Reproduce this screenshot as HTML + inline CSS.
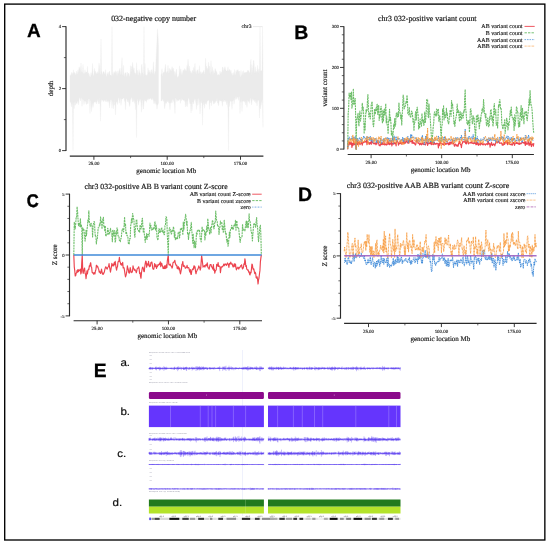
<!DOCTYPE html>
<html lang="en"><head><meta charset="utf-8"><title>Figure</title>
<style>html,body{margin:0;padding:0;background:#fff;width:550px;height:546px;overflow:hidden}</style>
</head><body>
<svg width="550" height="546" viewBox="0 0 550 546" style="position:absolute;left:0;top:0;display:block;text-rendering:geometricPrecision">
<rect x="0" y="0" width="550" height="546" fill="#fff"/>
<rect x="4.7" y="4.1" width="540.15" height="535.9" fill="none" stroke="#000" stroke-width="1.35"/>
<text x="27" y="36.8" font-family='"Liberation Sans", "DejaVu Sans", sans-serif' font-size="19" text-anchor="start" font-weight="bold" fill="#000" stroke="#000" stroke-width="0.25">A</text>
<path d="M70 76.13 L70.5 74.87 L71 75.12 L71.5 72.22 L72 74.57 L72.5 72.81 L73 75.48 L73.5 69.73 L74 73.52 L74.5 72.38 L75 72.87 L75.5 74.56 L76 75.06 L76.5 71.14 L77 74.34 L77.5 73.09 L78 69.75 L78.5 73.28 L79 67.3 L79.5 69.13 L80 66.74 L80.5 73.75 L81 63.03 L81.5 71.58 L82 71.87 L82.5 72.43 L83 64.4 L83.5 72.45 L84 74.32 L84.5 72.94 L85 69.71 L85.5 72.95 L86 71.76 L86.5 72.6 L87 72.02 L87.5 66.4 L88 75.02 L88.5 72.67 L89 73.56 L89.5 76.05 L90 76.79 L90.5 77.09 L91 72.53 L91.5 76.08 L92 72.11 L92.5 63.55 L93 73.58 L93.5 76.69 L94 73.74 L94.5 68.27 L95 72.05 L95.5 71.32 L96 74.47 L96.5 72.73 L97 74.23 L97.5 71.55 L98 74.38 L98.5 71.55 L99 62.9 L99.5 67.35 L100 74.53 L100.5 73.41 L101 39 L101.5 70.6 L102 72.8 L102.5 75.47 L103 72.48 L103.5 71.56 L104 71.82 L104.5 73.84 L105 74.31 L105.5 69.64 L106 75.89 L106.5 76.73 L107 73.37 L107.5 74.7 L108 72.13 L108.5 75.71 L109 71.89 L109.5 71.28 L110 74.54 L110.5 75.13 L111 74.99 L111.5 77.04 L112 26.6 L112.5 71.7 L113 75.98 L113.5 73.98 L114 71.44 L114.5 72.8 L115 73.47 L115.5 70.64 L116 73.7 L116.5 71.42 L117 76.16 L117.5 73.6 L118 70.61 L118.5 74.66 L119 71.44 L119.5 69.79 L120 68.15 L120.5 73.4 L121 75.14 L121.5 68.37 L122 57.6 L122.5 74.35 L123 75.31 L123.5 65.26 L124 77.31 L124.5 74.94 L125 72.94 L125.5 73.25 L126 72.37 L126.5 76.36 L127 76.58 L127.5 71.99 L128 74.47 L128.5 73.04 L129 73.66 L129.5 76.38 L130 76.32 L130.5 65.63 L131 73.28 L131.5 66.35 L132 69.94 L132.5 62.43 L133 65.94 L133.5 71.07 L134 67.74 L134.5 72.67 L135 73.02 L135.5 73.24 L136 75.11 L136.5 62.67 L137 71.08 L137.5 70.47 L138 75.69 L138.5 74.65 L139 69.39 L139.5 72.18 L140 72.59 L140.5 74.52 L141 76.68 L141.5 65.57 L142 64.32 L142.5 72.79 L143 72.95 L143.5 76.97 L144 26.6 L144.5 77.11 L145 63.38 L145.5 75.61 L146 74.73 L146.5 75.97 L147 74.6 L147.5 75.61 L148 67.87 L148.5 73.21 L149 69.93 L149.5 73.3 L150 71.43 L150.5 74.7 L151 70.52 L151.5 69.57 L152 74.18 L152.5 72.47 L153 68.55 L153.5 61.84 L154 74.87 L154.5 73.57 L155 71.17 L155.5 72.17 L156 61.32 L156.5 50.47 L157 39.62 L157.5 28.77 L158 35.28 L158.5 46.13 L158.5 102.74 L158 104.7 L157.5 104.8 L157 109.15 L156.5 103.7 L156 104.7 L155.5 103.36 L155 100.42 L154.5 102.57 L154 104.05 L153.5 101.19 L153 98.49 L152.5 98.69 L152 99.95 L151.5 99.74 L151 98.25 L150.5 98.28 L150 98.74 L149.5 99.11 L149 98.78 L148.5 98.44 L148 100.3 L147.5 99.43 L147 98.5 L146.5 102.4 L146 98.91 L145.5 101.25 L145 100.58 L144.5 99.46 L144 102.93 L143.5 108.72 L143 109.23 L142.5 99.85 L142 101.12 L141.5 112.24 L141 103.18 L140.5 99.9 L140 98.78 L139.5 100.49 L139 101.72 L138.5 105.2 L138 101.33 L137.5 99.94 L137 98.86 L136.5 137.58 L136 100.07 L135.5 109.56 L135 99.55 L134.5 103.48 L134 98.18 L133.5 101.26 L133 101.83 L132.5 101.83 L132 97.76 L131.5 97.22 L131 99.63 L130.5 98.45 L130 105.03 L129.5 106.55 L129 102.53 L128.5 102.36 L128 99.14 L127.5 101.96 L127 99.9 L126.5 97.91 L126 99.79 L125.5 109.78 L125 101.98 L124.5 101.03 L124 97.71 L123.5 97.94 L123 98.71 L122.5 99.03 L122 98.66 L121.5 99.66 L121 105.45 L120.5 97.24 L120 100 L119.5 103.2 L119 97.78 L118.5 98 L118 100.53 L117.5 104.54 L117 101.55 L116.5 102.51 L116 101.58 L115.5 114.95 L115 103.6 L114.5 105.26 L114 98.64 L113.5 108.88 L113 104.75 L112.5 100.11 L112 108.44 L111.5 100.19 L111 99.13 L110.5 100.51 L110 103.13 L109.5 107.87 L109 100.03 L108.5 101.51 L108 102.55 L107.5 100.47 L107 101.81 L106.5 99 L106 101.97 L105.5 99.74 L105 101.46 L104.5 99.87 L104 100.17 L103.5 101.85 L103 99.65 L102.5 100.22 L102 100.35 L101.5 99.19 L101 102.63 L100.5 121.15 L100 97.29 L99.5 103.79 L99 101.37 L98.5 104.09 L98 99.02 L97.5 100.74 L97 101.89 L96.5 104.02 L96 100.11 L95.5 102.51 L95 101.7 L94.5 102.07 L94 102.01 L93.5 103.96 L93 107.51 L92.5 102.42 L92 106.44 L91.5 111.72 L91 100.82 L90.5 100.83 L90 113.4 L89.5 100.1 L89 98.49 L88.5 99.34 L88 104.02 L87.5 103.33 L87 99.72 L86.5 104.6 L86 103.63 L85.5 101 L85 101.19 L84.5 100.95 L84 104.66 L83.5 100.17 L83 99.51 L82.5 98.93 L82 106.42 L81.5 97.1 L81 98.91 L80.5 100.94 L80 97.58 L79.5 97.6 L79 100.21 L78.5 104.7 L78 101.69 L77.5 100.88 L77 103.66 L76.5 103.02 L76 102.92 L75.5 105.27 L75 100.7 L74.5 105.08 L74 108.97 L73.5 100.76 L73 150.6 L72.5 105.41 L72 101.69 L71.5 107.07 L71 103.37 L70.5 102.04 L70 101.71Z" fill="#ebebeb" stroke="#ebebeb" stroke-width="0.3"/>
<path d="M161 75.24 L161.5 73.3 L162 68.75 L162.5 77.16 L163 72.64 L163.5 72.19 L164 72.64 L164.5 71.22 L165 67.61 L165.5 64.35 L166 70.55 L166.5 73.19 L167 71.63 L167.5 71.62 L168 65.29 L168.5 71.78 L169 73.42 L169.5 68.41 L170 68.72 L170.5 69.8 L171 71.17 L171.5 69.98 L172 66.58 L172.5 68.17 L173 70.29 L173.5 68.34 L174 71.93 L174.5 71.6 L175 76.46 L175.5 73.41 L176 70.93 L176.5 69.13 L177 76.34 L177.5 77.63 L178 76.37 L178.5 77.1 L179 73.46 L179.5 65.83 L180 75.12 L180.5 68.71 L181 69.5 L181.5 73.26 L182 75.03 L182.5 73.04 L183 69.94 L183.5 71 L184 69.97 L184.5 68.49 L185 71.28 L185.5 69.41 L186 70.88 L186.5 70.8 L187 65.22 L187.5 67.77 L188 59.15 L188.5 65.11 L189 72.38 L189.5 66.23 L190 70.92 L190.5 71.02 L191 73.49 L191.5 73.05 L192 71.82 L192.5 70.13 L193 74.82 L193.5 67.33 L194 72.77 L194.5 68.74 L195 63.31 L195.5 73.59 L196 70.89 L196.5 75.12 L197 69.89 L197.5 71.07 L198 69.42 L198.5 72.71 L199 74.13 L199.5 65.69 L200 74.97 L200.5 71.49 L201 72.85 L201.5 74.47 L202 71.94 L202.5 73.62 L203 72.02 L203.5 70.95 L204 70.15 L204.5 74.08 L205 73.5 L205.5 58.34 L206 65.56 L206.5 66.22 L207 69.6 L207.5 68.18 L208 69.93 L208.5 62.21 L209 67.3 L209.5 66.11 L210 75.01 L210.5 72.21 L211 60.7 L211.5 71.33 L212 72.15 L212.5 66.86 L213 76.41 L213.5 70.48 L214 72.95 L214.5 73.27 L215 68.51 L215.5 69.58 L216 71.14 L216.5 71.45 L217 73.1 L217.5 75.19 L218 75.18 L218.5 74.19 L219 75.03 L219.5 75.6 L220 70.99 L220.5 73.17 L221 74.11 L221.5 72.04 L222 71.33 L222.5 67.01 L223 67.16 L223.5 71.62 L224 69.73 L224.5 67.99 L225 66.64 L225.5 69.23 L226 70.37 L226.5 71.17 L227 70.77 L227.5 70.62 L228 66.84 L228.5 71.81 L229 69.97 L229.5 69.35 L230 70.45 L230.5 72.27 L231 69.95 L231.5 74.63 L232 72.87 L232.5 74.91 L233 75.84 L233.5 72.56 L234 76.15 L234.5 69.53 L235 75.03 L235.5 74.83 L236 70.24 L236.5 72.75 L237 69.94 L237.5 70.76 L238 69.52 L238.5 71.84 L239 71.28 L239.5 71.3 L240 76.89 L240.5 76.61 L241 70.28 L241.5 76.39 L242 74.44 L242.5 71.38 L243 76.59 L243.5 70.5 L244 73.52 L244.5 72.79 L245 72.28 L245.5 72.47 L246 72.38 L246.5 72.28 L247 72.32 L247.5 70.91 L248 70.03 L248.5 71.01 L249 71.54 L249.5 73.01 L250 72.39 L250.5 62.56 L251 59.15 L251.5 75.68 L252 64.96 L252.5 73.19 L253 67.36 L253.5 60.33 L254 61.42 L254.5 71.68 L255 73.28 L255.5 66.78 L256 72.84 L256.5 71.59 L257 70.79 L257.5 65.41 L258 73.33 L258.5 70.92 L259 68.56 L259.5 74.24 L260 26.6 L260.5 71.02 L261 70.75 L261.5 70.81 L262 70.25 L262.5 26.6 L263 71.32 L263 127.35 L262.5 98.58 L262 100.74 L261.5 103.06 L261 105.9 L260.5 109.09 L260 101.68 L259.5 118.05 L259 101.98 L258.5 100.06 L258 100.11 L257.5 101.27 L257 106.01 L256.5 99.41 L256 103.14 L255.5 101.22 L255 98.56 L254.5 101.76 L254 100.24 L253.5 100.15 L253 98.75 L252.5 98.76 L252 101.76 L251.5 105.1 L251 100.98 L250.5 98.11 L250 98.81 L249.5 103.53 L249 100.93 L248.5 101.66 L248 100.24 L247.5 101.01 L247 107.45 L246.5 103.83 L246 100.03 L245.5 104.84 L245 100.32 L244.5 102.01 L244 101.52 L243.5 100.44 L243 101.73 L242.5 100.82 L242 111.38 L241.5 98.93 L241 102.05 L240.5 100.51 L240 113.4 L239.5 97.33 L239 96.21 L238.5 100.24 L238 97.24 L237.5 97.55 L237 97.09 L236.5 99.45 L236 95.64 L235.5 99.41 L235 97.16 L234.5 100.79 L234 104.26 L233.5 99.09 L233 101.04 L232.5 101.04 L232 109.33 L231.5 101.88 L231 100.84 L230.5 100.73 L230 102.44 L229.5 106.56 L229 99.15 L228.5 150.6 L228 109.56 L227.5 103.72 L227 99.66 L226.5 104.64 L226 99.77 L225.5 100.56 L225 102.02 L224.5 99.97 L224 100.23 L223.5 101.7 L223 99.04 L222.5 106.31 L222 102.97 L221.5 100.41 L221 101.15 L220.5 100.58 L220 100.64 L219.5 99.81 L219 102.59 L218.5 105.76 L218 103.3 L217.5 103.02 L217 97.9 L216.5 101.21 L216 100.24 L215.5 102.54 L215 101.61 L214.5 103.38 L214 102.9 L213.5 104.19 L213 100.73 L212.5 100.86 L212 100.67 L211.5 105.78 L211 100.51 L210.5 102.88 L210 101.83 L209.5 109.41 L209 100.01 L208.5 100.19 L208 100.51 L207.5 100.88 L207 101.85 L206.5 104.5 L206 101.99 L205.5 103.46 L205 104.44 L204.5 108.25 L204 101.42 L203.5 104.92 L203 101.88 L202.5 125.18 L202 101.45 L201.5 102.92 L201 100.22 L200.5 105.4 L200 114.04 L199.5 98.54 L199 104.46 L198.5 98.05 L198 98.62 L197.5 105.4 L197 98.59 L196.5 109.51 L196 104.06 L195.5 100.4 L195 98.36 L194.5 100.06 L194 101.11 L193.5 104.05 L193 101.85 L192.5 102.39 L192 110.87 L191.5 102.35 L191 112.84 L190.5 102.89 L190 103.96 L189.5 102.09 L189 98.05 L188.5 98.31 L188 100.11 L187.5 106.67 L187 99.86 L186.5 106.44 L186 100.86 L185.5 107.02 L185 102.26 L184.5 100.84 L184 99.85 L183.5 100.46 L183 99.98 L182.5 99.24 L182 99.81 L181.5 100.73 L181 97.37 L180.5 103.39 L180 98.82 L179.5 99.78 L179 99.25 L178.5 101.03 L178 99.7 L177.5 100.25 L177 101.64 L176.5 99.91 L176 98.5 L175.5 97.65 L175 113.4 L174.5 105.66 L174 102.05 L173.5 101.15 L173 99.05 L172.5 99.98 L172 103.01 L171.5 100.61 L171 103.39 L170.5 101.9 L170 109.79 L169.5 103.7 L169 102.23 L168.5 102.64 L168 100.14 L167.5 101.83 L167 100.56 L166.5 103.03 L166 103.63 L165.5 101.92 L165 106.7 L164.5 108.66 L164 99.23 L163.5 101.42 L163 100.88 L162.5 98.42 L162 100.19 L161.5 100.96 L161 101.1Z" fill="#ebebeb" stroke="#ebebeb" stroke-width="0.3"/>
<path d="M66 26.2 V151" stroke="#2a2a2a" stroke-width="1.15" fill="none"/>
<path d="M62.1 26.6 H66" stroke="#262626" stroke-width="0.9"/>
<text x="61" y="28.2" font-family='"Liberation Serif", "DejaVu Serif", serif' font-size="4.7" text-anchor="end" font-weight="normal" fill="#1a1a1a" stroke="#1a1a1a" stroke-width="0.12">4</text>
<path d="M62.1 88.6 H66" stroke="#262626" stroke-width="0.9"/>
<text x="61" y="90.2" font-family='"Liberation Serif", "DejaVu Serif", serif' font-size="4.7" text-anchor="end" font-weight="normal" fill="#1a1a1a" stroke="#1a1a1a" stroke-width="0.12">2</text>
<path d="M62.1 150.6 H66" stroke="#262626" stroke-width="0.9"/>
<text x="61" y="152.2" font-family='"Liberation Serif", "DejaVu Serif", serif' font-size="4.7" text-anchor="end" font-weight="normal" fill="#1a1a1a" stroke="#1a1a1a" stroke-width="0.12">0</text>
<path d="M63.9 57.6 H66" stroke="#262626" stroke-width="0.7"/>
<path d="M63.9 119.6 H66" stroke="#262626" stroke-width="0.7"/>
<path d="M69.8 156.1 H263.4" stroke="#2a2a2a" stroke-width="1.15" fill="none"/>
<path d="M93.9 156.1 V159.8" stroke="#262626" stroke-width="0.9"/>
<text x="93.9" y="164.8" font-family='"Liberation Serif", "DejaVu Serif", serif' font-size="4.9" text-anchor="middle" font-weight="normal" fill="#1a1a1a" stroke="#1a1a1a" stroke-width="0.13">25.00</text>
<path d="M167.2 156.1 V159.8" stroke="#262626" stroke-width="0.9"/>
<text x="167.2" y="164.8" font-family='"Liberation Serif", "DejaVu Serif", serif' font-size="4.9" text-anchor="middle" font-weight="normal" fill="#1a1a1a" stroke="#1a1a1a" stroke-width="0.13">100.00</text>
<path d="M240.5 156.1 V159.8" stroke="#262626" stroke-width="0.9"/>
<text x="240.5" y="164.8" font-family='"Liberation Serif", "DejaVu Serif", serif' font-size="4.9" text-anchor="middle" font-weight="normal" fill="#1a1a1a" stroke="#1a1a1a" stroke-width="0.13">175.00</text>
<path d="M130.6 156.1 V158.1" stroke="#262626" stroke-width="0.7"/>
<path d="M203.8 156.1 V158.1" stroke="#262626" stroke-width="0.7"/>
<text x="166.3" y="173.1" font-family='"Liberation Serif", "DejaVu Serif", serif' font-size="7" text-anchor="middle" font-weight="normal" fill="#1a1a1a" stroke="#1a1a1a" stroke-width="0.17">genomic location Mb</text>
<text x="153.7" y="20.6" font-family='"Liberation Serif", "DejaVu Serif", serif' font-size="7.95" text-anchor="middle" font-weight="normal" fill="#1a1a1a" stroke="#1a1a1a" stroke-width="0.19">032-negative copy number</text>
<text transform="translate(53.2 88.4) rotate(-90)" font-family='"Liberation Serif", "DejaVu Serif", serif' font-size="7" text-anchor="middle" fill="#1a1a1a" stroke="#1a1a1a" stroke-width="0.17">depth</text>
<text x="251.5" y="28.3" font-family='"Liberation Serif", "DejaVu Serif", serif' font-size="5.6" text-anchor="end" font-weight="normal" fill="#1a1a1a" stroke="#1a1a1a" stroke-width="0.14">chr3</text>
<path d="M253 26.6 H262.5" stroke="#e4e4e4" stroke-width="0.8"/>
<text x="294.2" y="39.4" font-family='"Liberation Sans", "DejaVu Sans", sans-serif' font-size="19.5" text-anchor="start" font-weight="bold" fill="#000" stroke="#000" stroke-width="0.25">B</text>
<path d="M347.7 149.2 L348.17 143.67 L348.64 142.34 L349.11 144.99 L349.58 142.26 L350.05 143.46 L350.52 144.31 L350.99 142.34 L351.46 142.91 L351.93 147.37 L352.4 143.69 L352.87 145.54 L353.34 142.55 L353.81 140.48 L354.28 144.64 L354.75 143.69 L355.22 143.92 L355.69 143.23 L356.16 149.2 L356.63 141.81 L357.1 144.64 L357.57 141.31 L358.04 144.41 L358.51 143.24 L358.98 141.93 L359.45 142.44 L359.92 144.66 L360.39 144.01 L360.86 143.8 L361.33 143.19 L361.8 141.88 L362.27 145.06 L362.74 142.98 L363.21 142.61 L363.68 142.45 L364.15 142.2 L364.62 141.06 L365.09 142.05 L365.56 141.47 L366.03 141.92 L366.5 140.39 L366.97 144.77 L367.44 140.67 L367.91 142.48 L368.38 142.64 L368.85 143.3 L369.32 144.34 L369.79 142.5 L370.26 143.33 L370.73 141.97 L371.2 144.48 L371.67 140.76 L372.14 142.28 L372.61 142.64 L373.08 143.27 L373.55 143.36 L374.02 143.94 L374.49 143.67 L374.96 142.87 L375.43 142.84 L375.9 144.77 L376.37 143.24 L376.84 143.99 L377.31 142.35 L377.78 140.36 L378.25 142.07 L378.72 143.6 L379.19 145.54 L379.66 145.27 L380.13 145.84 L380.6 143 L381.07 144.61 L381.54 143.44 L382.01 144.64 L382.48 143.88 L382.95 142.04 L383.42 144.52 L383.89 144.18 L384.36 144.8 L384.83 142.65 L385.3 144.74 L385.77 144.56 L386.24 144.79 L386.71 145.03 L387.18 142.47 L387.65 139.8 L388.12 144.47 L388.59 142.17 L389.06 142.85 L389.53 144.64 L390 143.61 L390.47 143.68 L390.94 144.21 L391.41 140.75 L391.88 145.83 L392.35 143.22 L392.82 143.27 L393.29 144.24 L393.76 143.24 L394.23 142.56 L394.7 143.82 L395.17 143.26 L395.64 142.87 L396.11 145.84 L396.58 141.26 L397.05 140.46 L397.52 141.92 L397.99 141.95 L398.46 145.22 L398.93 143 L399.4 143.79 L399.87 143.46 L400.34 141.52 L400.81 143.57 L401.28 142.5 L401.75 144.25 L402.22 142.31 L402.69 142.3 L403.16 143.38 L403.63 143.26 L404.1 139.85 L404.57 143.73 L405.04 143.38 L405.51 142.95 L405.98 140.67 L406.45 139.51 L406.92 141.71 L407.39 143.02 L407.86 142.79 L408.33 140.93 L408.8 143.42 L409.27 140.55 L409.74 140.29 L410.21 141.82 L410.68 141.43 L411.15 141.41 L411.62 140.31 L412.09 143.38 L412.56 140.43 L413.03 142.85 L413.5 143.35 L413.97 142.56 L414.44 143.14 L414.91 144.16 L415.38 145.04 L415.85 144.23 L416.32 140.6 L416.79 139.93 L417.26 141.78 L417.73 141.18 L418.2 143.35 L418.67 143.12 L419.14 142.92 L419.61 144.87 L420.08 144.6 L420.55 143.38 L421.02 143.87 L421.49 144.87 L421.96 143.4 L422.43 144.08 L422.9 142.62 L423.37 144.22 L423.84 144.54 L424.31 144.19 L424.78 144.3 L425.25 145.04 L425.72 144.18 L426.19 142.49 L426.66 142.47 L427.13 141.77 L427.6 145.33 L428.07 143.87 L428.54 143.8 L429.01 142.74 L429.48 143.57 L429.95 143.73 L430.42 142.15 L430.89 143.23 L431.36 144.77 L431.83 141.9 L432.3 142.22 L432.77 144.43 L433.24 143.06 L433.71 144.64 L434.18 142.27 L434.65 143.66 L435.12 144.25 L435.59 143.5 L436.06 144.29 L436.53 143.35 L437 143.26 L437.47 143.48 L437.94 144.24 L438.41 147.9 L438.88 143.35 L439.35 145.63 L439.82 143.02 L440.29 141.68 L440.76 143.32 L441.23 143.78 L441.7 143.75 L442.17 143.59 L442.64 144.36 L443.11 144.48 L443.58 144.9 L444.05 142.25 L444.52 143.89 L444.99 142.68 L445.46 144.43 L445.93 143.66 L446.4 144.03 L446.87 143.41 L447.34 142.84 L447.81 143.2 L448.28 144.57 L448.75 144.89 L449.22 142.08 L449.69 144.48 L450.16 144.3 L450.63 141.96 L451.1 142.45 L451.57 142.99 L452.04 143.92 L452.51 140.43 L452.98 143.24 L453.45 143.34 L453.92 144.21 L454.39 146.1 L454.86 146.18 L455.33 144.1 L455.8 144.22 L456.27 144.93 L456.74 145.9 L457.21 146.13 L457.68 144.84 L458.15 146.2 L458.62 143.43 L459.09 143.32 L459.56 141.3 L460.03 143.22 L460.5 144.79 L460.97 144.86 L461.44 147.65 L461.91 143.8 L462.38 143.38 L462.85 141.45 L463.32 141.69 L463.79 141.75 L464.26 142.26 L464.73 141.51 L465.2 140.62 L465.67 143.69 L466.14 142.58 L466.61 143.84 L467.08 140.63 L467.55 140.79 L468.02 141.53 L468.49 143.96 L468.96 142.69 L469.43 142.89 L469.9 142.75 L470.37 142.81 L470.84 142.1 L471.31 143.15 L471.78 141.76 L472.25 142.78 L472.72 143.52 L473.19 143.32 L473.66 143.68 L474.13 142.1 L474.6 143.41 L475.07 142.67 L475.54 143.53 L476.01 144.83 L476.48 142.08 L476.95 144.4 L477.42 142.66 L477.89 142.89 L478.36 145.34 L478.83 144.17 L479.3 143.58 L479.77 144.25 L480.24 145.11 L480.71 142.84 L481.18 143.95 L481.65 143.22 L482.12 144.4 L482.59 143.77 L483.06 144.92 L483.53 144.17 L484 143.6 L484.47 144.26 L484.94 144.32 L485.41 145.09 L485.88 143.94 L486.35 143.7 L486.82 144.09 L487.29 144.75 L487.76 143.1 L488.23 140.82 L488.7 144.19 L489.17 143.45 L489.64 143.41 L490.11 147.26 L490.58 144 L491.05 145.02 L491.52 142.39 L491.99 144.64 L492.46 145.52 L492.93 144.53 L493.4 143.85 L493.87 144.68 L494.34 144.11 L494.81 145.8 L495.28 144.18 L495.75 142.87 L496.22 141.3 L496.69 142.6 L497.16 142.98 L497.63 141.74 L498.1 142.04 L498.57 141.06 L499.04 141.89 L499.51 143.3 L499.98 143.06 L500.45 143.11 L500.92 142.91 L501.39 142.85 L501.86 143.57 L502.33 145.26 L502.8 143.73 L503.27 145.19 L503.74 142.58 L504.21 142.61 L504.68 144.52 L505.15 141.69 L505.62 141.73 L506.09 143.09 L506.56 140.93 L507.03 140.93 L507.5 144.68 L507.97 142.12 L508.44 142.88 L508.91 143.21 L509.38 142.58 L509.85 144.5 L510.32 144.3 L510.79 144.7 L511.26 144.45 L511.73 143.83 L512.2 145.2 L512.67 144.58 L513.14 142.3 L513.61 143.31 L514.08 142.46 L514.55 145.32 L515.02 143.77 L515.49 143.41 L515.96 142.78 L516.43 143.46 L516.9 141.97 L517.37 143.57 L517.84 143.28 L518.31 143.86 L518.78 143.03 L519.25 144.47 L519.72 142.81 L520.19 143.13 L520.66 143.91 L521.13 143.8 L521.6 143 L522.07 142.31 L522.54 142.35 L523.01 142.87 L523.48 142.52 L523.95 143.05 L524.42 141.74 L524.89 143.6 L525.36 145.51 L525.83 141.4 L526.3 143.08 L526.77 144.35 L527.24 143.79 L527.71 144.03 L528.18 140.55 L528.65 143.01 L529.12 145.69 L529.59 143.19 L530.06 144.51 L530.53 141.52 L531 145.4 L531.47 146.53 L531.94 143.76 L532.41 144.27 L532.88 144.19 L533.35 146.1 L533.82 143.07" stroke="#ec444f" stroke-width="1.15" fill="none" stroke-linejoin="round"/>
<path d="M347.7 147.54 L348.17 114.12 L348.64 108.43 L349.11 93.05 L349.58 97.39 L350.05 96.71 L350.52 93.33 L350.99 99.68 L351.46 91.93 L351.93 108.18 L352.4 104.61 L352.87 101.8 L353.34 88.62 L353.81 105 L354.28 103.5 L354.75 99.18 L355.22 98.46 L355.69 117.76 L356.16 149.2 L356.63 121.11 L357.1 116.94 L357.57 117.61 L358.04 113.23 L358.51 123.01 L358.98 126.19 L359.45 116.62 L359.92 111.16 L360.39 121.27 L360.86 118.65 L361.33 114.76 L361.8 113.52 L362.27 103.22 L362.74 109.36 L363.21 107.27 L363.68 114.87 L364.15 133.65 L364.62 122.73 L365.09 130.72 L365.56 116.71 L366.03 109.72 L366.5 111.99 L366.97 111.33 L367.44 100.58 L367.91 94.55 L368.38 107.25 L368.85 116.9 L369.32 112.62 L369.79 113.29 L370.26 118.97 L370.73 113.19 L371.2 104.41 L371.67 103.21 L372.14 101.49 L372.61 115.8 L373.08 124.79 L373.55 126.62 L374.02 121.79 L374.49 109.08 L374.96 114.35 L375.43 113.23 L375.9 108.1 L376.37 110.68 L376.84 104.89 L377.31 104.25 L377.78 114.36 L378.25 107.79 L378.72 105 L379.19 120.46 L379.66 114.7 L380.13 116.91 L380.6 109.08 L381.07 106.26 L381.54 111.34 L382.01 119.46 L382.48 123.32 L382.95 110.29 L383.42 121.59 L383.89 110.92 L384.36 109.07 L384.83 115.03 L385.3 110.79 L385.77 103.5 L386.24 122.85 L386.71 116.7 L387.18 124.95 L387.65 126.76 L388.12 133.99 L388.59 120.97 L389.06 121.23 L389.53 109.29 L390 121.42 L390.47 117.42 L390.94 123.16 L391.41 135.52 L391.88 131.37 L392.35 133.12 L392.82 140.74 L393.29 130.97 L393.76 124.14 L394.23 128.8 L394.7 118.54 L395.17 126.27 L395.64 124.26 L396.11 114.26 L396.58 113.03 L397.05 117.07 L397.52 116.96 L397.99 112.21 L398.46 116.51 L398.93 102.93 L399.4 110.15 L399.87 111.95 L400.34 114.2 L400.81 119.01 L401.28 114.76 L401.75 124.92 L402.22 115.42 L402.69 105.76 L403.16 95.05 L403.63 97.58 L404.1 108.91 L404.57 107.39 L405.04 106.44 L405.51 105.36 L405.98 101.58 L406.45 103.46 L406.92 95.24 L407.39 98.22 L407.86 113.66 L408.33 114.12 L408.8 114.94 L409.27 107.47 L409.74 113.88 L410.21 116.3 L410.68 117.77 L411.15 114.17 L411.62 111.02 L412.09 111.51 L412.56 115.51 L413.03 122.83 L413.5 118.93 L413.97 130.95 L414.44 121.88 L414.91 122.54 L415.38 113.89 L415.85 111.45 L416.32 119.9 L416.79 108.98 L417.26 107.17 L417.73 111.94 L418.2 116 L418.67 128.98 L419.14 122.95 L419.61 128.43 L420.08 118.97 L420.55 123.45 L421.02 123.32 L421.49 126.17 L421.96 113.41 L422.43 119.91 L422.9 122.14 L423.37 119.97 L423.84 125.52 L424.31 122.7 L424.78 112.08 L425.25 122.57 L425.72 119.64 L426.19 112.74 L426.66 99.88 L427.13 99.31 L427.6 99.73 L428.07 116.58 L428.54 117.58 L429.01 104.1 L429.48 113.16 L429.95 113.72 L430.42 121.17 L430.89 129.3 L431.36 136.58 L431.83 142.55 L432.3 139.46 L432.77 133.01 L433.24 126.22 L433.71 123.46 L434.18 113.44 L434.65 111.78 L435.12 115.08 L435.59 114.24 L436.06 116.09 L436.53 108.94 L437 115.14 L437.47 110.13 L437.94 109 L438.41 109.47 L438.88 121.69 L439.35 115.67 L439.82 115.92 L440.29 122.01 L440.76 132.36 L441.23 142.18 L441.7 125.85 L442.17 124.77 L442.64 109.02 L443.11 114.45 L443.58 105.82 L444.05 119.87 L444.52 112.65 L444.99 115.31 L445.46 117.57 L445.93 117.04 L446.4 108.37 L446.87 114.68 L447.34 113.19 L447.81 121.94 L448.28 122.93 L448.75 123.83 L449.22 118.27 L449.69 115.44 L450.16 109.78 L450.63 113.38 L451.1 116.45 L451.57 100.46 L452.04 106.73 L452.51 103.55 L452.98 110.34 L453.45 112.19 L453.92 123.71 L454.39 121.31 L454.86 126.43 L455.33 121.51 L455.8 117.78 L456.27 117.04 L456.74 111.37 L457.21 104 L457.68 112.57 L458.15 110.58 L458.62 110.32 L459.09 117.86 L459.56 121.51 L460.03 112.24 L460.5 111.81 L460.97 120.06 L461.44 118.77 L461.91 112.85 L462.38 114.31 L462.85 118.21 L463.32 117.13 L463.79 110.78 L464.26 112.08 L464.73 97.04 L465.2 89.47 L465.67 109.18 L466.14 112.88 L466.61 119.71 L467.08 123.31 L467.55 124.68 L468.02 120.55 L468.49 123.37 L468.96 120.8 L469.43 132.14 L469.9 122.13 L470.37 109.31 L470.84 108.78 L471.31 113.64 L471.78 115.32 L472.25 123.74 L472.72 122.95 L473.19 115.91 L473.66 119.02 L474.13 117.34 L474.6 127.95 L475.07 131.56 L475.54 140.48 L476.01 126.92 L476.48 115.15 L476.95 119.62 L477.42 121.65 L477.89 114.42 L478.36 118.22 L478.83 123.06 L479.3 128.69 L479.77 123.57 L480.24 117.52 L480.71 121.8 L481.18 114.51 L481.65 113.5 L482.12 108.54 L482.59 109.01 L483.06 112.25 L483.53 99.56 L484 105.32 L484.47 113.41 L484.94 113.41 L485.41 117.83 L485.88 113.17 L486.35 124.78 L486.82 125.74 L487.29 124.37 L487.76 118.16 L488.23 121.6 L488.7 126.78 L489.17 126.42 L489.64 116.95 L490.11 119.27 L490.58 109.53 L491.05 109.57 L491.52 114.01 L491.99 120.53 L492.46 116.83 L492.93 126.32 L493.4 122.68 L493.87 106.76 L494.34 103.53 L494.81 114.39 L495.28 113.6 L495.75 109.61 L496.22 125.3 L496.69 124.51 L497.16 122.04 L497.63 127.89 L498.1 114.11 L498.57 104.99 L499.04 106.62 L499.51 99.7 L499.98 99.7 L500.45 108.16 L500.92 107.65 L501.39 111.61 L501.86 124.78 L502.33 125.42 L502.8 129.28 L503.27 127.64 L503.74 124.51 L504.21 125.76 L504.68 119.84 L505.15 133.38 L505.62 126.8 L506.09 126.6 L506.56 118.25 L507.03 119.17 L507.5 123.54 L507.97 129.9 L508.44 123.16 L508.91 125.66 L509.38 120.57 L509.85 115.41 L510.32 110.58 L510.79 115.37 L511.26 107.07 L511.73 114.41 L512.2 117.4 L512.67 118.01 L513.14 120.01 L513.61 118.15 L514.08 130.39 L514.55 114.81 L515.02 126.02 L515.49 121.23 L515.96 116.42 L516.43 106.91 L516.9 106.97 L517.37 112.55 L517.84 112.06 L518.31 123.72 L518.78 127.18 L519.25 121.75 L519.72 126.55 L520.19 113.15 L520.66 115.59 L521.13 105.53 L521.6 121.03 L522.07 111.81 L522.54 108.39 L523.01 118.38 L523.48 116.56 L523.95 123.64 L524.42 112.18 L524.89 111.82 L525.36 112.66 L525.83 115.17 L526.3 111.1 L526.77 119.37 L527.24 120.65 L527.71 115.28 L528.18 112.19 L528.65 107.28 L529.12 99.11 L529.59 105.04 L530.06 90.63 L530.53 99.82 L531 104.76 L531.47 106.14 L531.94 108.27 L532.41 115.29 L532.88 123.22 L533.35 129.86 L533.82 133.39" stroke="#65ba61" stroke-width="1.1" fill="none" stroke-dasharray="2.0 0.7" stroke-linejoin="round" opacity="0.95"/>
<path d="M347.7 149.2 L348.17 139.08 L348.64 139.16 L349.11 136.82 L349.58 138.21 L350.05 139.92 L350.52 140.17 L350.99 138.98 L351.46 139.55 L351.93 136.63 L352.4 137.57 L352.87 140.24 L353.34 139.85 L353.81 136.88 L354.28 138.21 L354.75 139.41 L355.22 136.52 L355.69 139.28 L356.16 149.2 L356.63 139.53 L357.1 141.81 L357.57 138.02 L358.04 141.04 L358.51 139.95 L358.98 140.33 L359.45 137.4 L359.92 138.43 L360.39 138.28 L360.86 141.56 L361.33 139.01 L361.8 141.3 L362.27 138.49 L362.74 138.51 L363.21 138.82 L363.68 135.76 L364.15 137.89 L364.62 137.36 L365.09 138.47 L365.56 139.17 L366.03 137.43 L366.5 136.98 L366.97 140.53 L367.44 136.63 L367.91 137.62 L368.38 136.76 L368.85 137.84 L369.32 140.27 L369.79 140.7 L370.26 136.19 L370.73 138.63 L371.2 141.19 L371.67 138.26 L372.14 139.47 L372.61 142.22 L373.08 142.82 L373.55 141.7 L374.02 138.62 L374.49 138.89 L374.96 139.15 L375.43 138.59 L375.9 138.13 L376.37 142.94 L376.84 139.97 L377.31 141.3 L377.78 142.45 L378.25 141.52 L378.72 140.57 L379.19 141.06 L379.66 143.03 L380.13 141.59 L380.6 138.17 L381.07 142.77 L381.54 143.72 L382.01 140.2 L382.48 139.74 L382.95 139.57 L383.42 141.91 L383.89 138.14 L384.36 141.37 L384.83 141.17 L385.3 140.25 L385.77 139.25 L386.24 137.62 L386.71 137.87 L387.18 138.73 L387.65 137.4 L388.12 139.24 L388.59 137.84 L389.06 141.7 L389.53 141.42 L390 138.23 L390.47 142.14 L390.94 140.28 L391.41 140.27 L391.88 140.91 L392.35 140.57 L392.82 137.51 L393.29 143.87 L393.76 138.46 L394.23 135.89 L394.7 139.13 L395.17 139.75 L395.64 138.5 L396.11 136.44 L396.58 141.58 L397.05 138.96 L397.52 139.26 L397.99 138.24 L398.46 139.39 L398.93 138 L399.4 139.03 L399.87 139.02 L400.34 140.79 L400.81 140.27 L401.28 138.97 L401.75 139.65 L402.22 141.28 L402.69 137.1 L403.16 139.9 L403.63 141.96 L404.1 137.87 L404.57 141.36 L405.04 139.57 L405.51 140.11 L405.98 139.52 L406.45 140.11 L406.92 140.92 L407.39 139.5 L407.86 136.27 L408.33 143.09 L408.8 139.21 L409.27 138.23 L409.74 140.46 L410.21 140.43 L410.68 134.42 L411.15 138.37 L411.62 134.4 L412.09 136.67 L412.56 137.61 L413.03 137.07 L413.5 137.14 L413.97 136.83 L414.44 138.06 L414.91 138.61 L415.38 138.48 L415.85 137.31 L416.32 138.26 L416.79 141.35 L417.26 140.55 L417.73 139.09 L418.2 140.97 L418.67 140.68 L419.14 141.77 L419.61 140.42 L420.08 139.82 L420.55 138.97 L421.02 140.76 L421.49 136.85 L421.96 140.53 L422.43 135.21 L422.9 138.8 L423.37 139.82 L423.84 141.11 L424.31 144.69 L424.78 140.06 L425.25 139.3 L425.72 136 L426.19 141.57 L426.66 136 L427.13 139.33 L427.6 137.92 L428.07 143.18 L428.54 139.43 L429.01 140.16 L429.48 138.73 L429.95 140.3 L430.42 142 L430.89 138.45 L431.36 139.05 L431.83 139.23 L432.3 139 L432.77 139.08 L433.24 141.2 L433.71 143.37 L434.18 142.4 L434.65 137.89 L435.12 138.71 L435.59 139.22 L436.06 140.45 L436.53 139.84 L437 139.57 L437.47 140.32 L437.94 140.6 L438.41 135.8 L438.88 138.34 L439.35 140.01 L439.82 141.85 L440.29 141.32 L440.76 138.81 L441.23 138.56 L441.7 139.7 L442.17 139.47 L442.64 140.43 L443.11 141.48 L443.58 137.6 L444.05 139.62 L444.52 136.41 L444.99 141.15 L445.46 139.85 L445.93 138.05 L446.4 140.66 L446.87 142.73 L447.34 142.15 L447.81 140.28 L448.28 139.71 L448.75 140.61 L449.22 138.67 L449.69 138.49 L450.16 139.59 L450.63 140.47 L451.1 141.13 L451.57 139.52 L452.04 138.65 L452.51 140.3 L452.98 139.78 L453.45 140.69 L453.92 142.32 L454.39 141.13 L454.86 138.45 L455.33 139.03 L455.8 137.53 L456.27 139.94 L456.74 138.12 L457.21 137.33 L457.68 137.45 L458.15 139.59 L458.62 138.82 L459.09 138.65 L459.56 140.49 L460.03 138.3 L460.5 137.26 L460.97 139.52 L461.44 135.14 L461.91 138.88 L462.38 139.15 L462.85 139.51 L463.32 140.21 L463.79 139.05 L464.26 139.75 L464.73 136.45 L465.2 129 L465.67 138.83 L466.14 140.19 L466.61 141.94 L467.08 139.85 L467.55 140.76 L468.02 137.73 L468.49 139.2 L468.96 135.91 L469.43 136.9 L469.9 136.82 L470.37 138.5 L470.84 138.36 L471.31 137.26 L471.78 136.63 L472.25 139.58 L472.72 137.92 L473.19 134.46 L473.66 138.99 L474.13 139.24 L474.6 141.07 L475.07 142.46 L475.54 138.2 L476.01 139.93 L476.48 139.99 L476.95 137.55 L477.42 136.62 L477.89 142.48 L478.36 139.11 L478.83 140.15 L479.3 140.22 L479.77 140.63 L480.24 141.17 L480.71 138.8 L481.18 140.32 L481.65 140.55 L482.12 138.88 L482.59 139.43 L483.06 140.37 L483.53 139.85 L484 137.15 L484.47 138.7 L484.94 140.22 L485.41 141.13 L485.88 139.95 L486.35 140.74 L486.82 138.81 L487.29 138.69 L487.76 142.61 L488.23 139.08 L488.7 137.84 L489.17 138.98 L489.64 141.2 L490.11 137.71 L490.58 140.77 L491.05 141.14 L491.52 140.89 L491.99 138.88 L492.46 137.07 L492.93 136.7 L493.4 138.61 L493.87 140.88 L494.34 140.08 L494.81 140.57 L495.28 139.3 L495.75 142.36 L496.22 139.25 L496.69 138.44 L497.16 139.67 L497.63 139.05 L498.1 141.68 L498.57 142.32 L499.04 140.55 L499.51 137.32 L499.98 137.45 L500.45 140.11 L500.92 137.09 L501.39 138.84 L501.86 136.06 L502.33 137.52 L502.8 139.46 L503.27 136.91 L503.74 139.35 L504.21 140.35 L504.68 140.85 L505.15 138.34 L505.62 138.35 L506.09 137.76 L506.56 138.38 L507.03 135.82 L507.5 138.64 L507.97 139.58 L508.44 136.5 L508.91 136.64 L509.38 138.93 L509.85 141.9 L510.32 140.17 L510.79 137.79 L511.26 139.08 L511.73 137.11 L512.2 141.91 L512.67 138.81 L513.14 140.96 L513.61 138.16 L514.08 139.89 L514.55 137.88 L515.02 140.28 L515.49 141.59 L515.96 140.86 L516.43 140.54 L516.9 141.31 L517.37 137.77 L517.84 137.84 L518.31 139.26 L518.78 141.02 L519.25 139.28 L519.72 140.82 L520.19 137.19 L520.66 138.99 L521.13 138.44 L521.6 140.06 L522.07 142.6 L522.54 140.24 L523.01 140.43 L523.48 137.66 L523.95 138.35 L524.42 140.21 L524.89 139.18 L525.36 135.35 L525.83 139.41 L526.3 138.56 L526.77 137.62 L527.24 138.4 L527.71 137.92 L528.18 136.77 L528.65 134.99 L529.12 141.17 L529.59 137.83 L530.06 137.83 L530.53 138.06 L531 138.94 L531.47 139.27 L531.94 137.88 L532.41 140.15 L532.88 140.03 L533.35 140.17 L533.82 139.72" stroke="#3f8ad8" stroke-width="1.0" fill="none" stroke-dasharray="1.4 0.7" stroke-linejoin="round" opacity="0.95"/>
<path d="M347.7 149.2 L348.17 140.55 L348.64 144.37 L349.11 139.56 L349.58 138.63 L350.05 142.11 L350.52 138.5 L350.99 141.36 L351.46 141.62 L351.93 139.38 L352.4 141.31 L352.87 134.76 L353.34 142.98 L353.81 138.04 L354.28 137.61 L354.75 143.7 L355.22 143.03 L355.69 138.77 L356.16 149.2 L356.63 140.39 L357.1 138.87 L357.57 141.96 L358.04 143.03 L358.51 146.53 L358.98 140.57 L359.45 142.86 L359.92 140.93 L360.39 140.89 L360.86 143.18 L361.33 137.08 L361.8 138.31 L362.27 138.42 L362.74 142.43 L363.21 141.04 L363.68 141.51 L364.15 140.9 L364.62 141.72 L365.09 138.45 L365.56 139.21 L366.03 138.27 L366.5 139.72 L366.97 136.07 L367.44 138.53 L367.91 144.66 L368.38 140.28 L368.85 138.86 L369.32 136.9 L369.79 139.2 L370.26 138.68 L370.73 139.85 L371.2 137.19 L371.67 139.96 L372.14 140.18 L372.61 140.07 L373.08 137.14 L373.55 140.05 L374.02 142.69 L374.49 138.47 L374.96 141.66 L375.43 139.35 L375.9 139.44 L376.37 137.87 L376.84 138.3 L377.31 141.36 L377.78 140.96 L378.25 142.86 L378.72 136.53 L379.19 138.73 L379.66 137.31 L380.13 140.44 L380.6 144.04 L381.07 136.2 L381.54 139.56 L382.01 140.16 L382.48 140.82 L382.95 140 L383.42 140.1 L383.89 144.2 L384.36 138.35 L384.83 141.86 L385.3 141.59 L385.77 137.43 L386.24 138.47 L386.71 140.58 L387.18 143.69 L387.65 139.45 L388.12 138.6 L388.59 140.11 L389.06 142.51 L389.53 141.77 L390 143.04 L390.47 139.67 L390.94 138.61 L391.41 138.48 L391.88 142.31 L392.35 140.38 L392.82 140.57 L393.29 143.11 L393.76 142.13 L394.23 137.16 L394.7 141.44 L395.17 140.13 L395.64 142.63 L396.11 141.6 L396.58 144.2 L397.05 141.02 L397.52 138.34 L397.99 136.4 L398.46 138.72 L398.93 139.72 L399.4 140.87 L399.87 142.71 L400.34 142.17 L400.81 140.34 L401.28 143.47 L401.75 139.33 L402.22 143.12 L402.69 144.7 L403.16 142.98 L403.63 144.53 L404.1 143.83 L404.57 138.35 L405.04 140.37 L405.51 139.72 L405.98 137.7 L406.45 137.37 L406.92 140.96 L407.39 137.11 L407.86 139.19 L408.33 139.88 L408.8 138.62 L409.27 142.54 L409.74 141.69 L410.21 139.84 L410.68 138.16 L411.15 140.87 L411.62 140.21 L412.09 137.73 L412.56 136.37 L413.03 137.85 L413.5 137.12 L413.97 140.62 L414.44 140.88 L414.91 139.94 L415.38 141.58 L415.85 141.53 L416.32 137.38 L416.79 141.3 L417.26 143.3 L417.73 140.55 L418.2 137.46 L418.67 141.04 L419.14 138.13 L419.61 141.82 L420.08 141.75 L420.55 142.71 L421.02 141.46 L421.49 137.43 L421.96 143.15 L422.43 137.13 L422.9 142.76 L423.37 140.85 L423.84 138.73 L424.31 138.73 L424.78 139.27 L425.25 142.8 L425.72 138.65 L426.19 141.27 L426.66 134.19 L427.13 139.82 L427.6 128 L428.07 141.4 L428.54 140.18 L429.01 142.3 L429.48 137.87 L429.95 140.43 L430.42 138.39 L430.89 141.12 L431.36 140.69 L431.83 136.95 L432.3 141.96 L432.77 143.92 L433.24 138.88 L433.71 141.33 L434.18 139.73 L434.65 136.87 L435.12 140.93 L435.59 137.22 L436.06 140.34 L436.53 136.04 L437 136.39 L437.47 140.02 L437.94 139.97 L438.41 141.53 L438.88 139.22 L439.35 137.26 L439.82 142.74 L440.29 138.3 L440.76 143.29 L441.23 148.5 L441.7 144.22 L442.17 136.17 L442.64 140.46 L443.11 140.09 L443.58 142.52 L444.05 139.42 L444.52 145.83 L444.99 141.45 L445.46 136.24 L445.93 141.66 L446.4 140.67 L446.87 139.1 L447.34 142.02 L447.81 140.4 L448.28 138.45 L448.75 139.66 L449.22 138.77 L449.69 140.02 L450.16 138.78 L450.63 138.66 L451.1 136.04 L451.57 137.78 L452.04 139.73 L452.51 144.13 L452.98 137.8 L453.45 137.61 L453.92 141.14 L454.39 143.57 L454.86 141.53 L455.33 137.85 L455.8 142.23 L456.27 141 L456.74 140.09 L457.21 138.33 L457.68 140.97 L458.15 141.49 L458.62 142.49 L459.09 137.74 L459.56 139.16 L460.03 141.08 L460.5 143.22 L460.97 141.9 L461.44 138.73 L461.91 140.9 L462.38 137.34 L462.85 138.34 L463.32 138.06 L463.79 137.2 L464.26 137.74 L464.73 140.52 L465.2 131 L465.67 134.57 L466.14 141.72 L466.61 140.81 L467.08 137.51 L467.55 140.02 L468.02 141.4 L468.49 142.51 L468.96 138.98 L469.43 138.19 L469.9 137.94 L470.37 140.33 L470.84 138.15 L471.31 142.02 L471.78 140.09 L472.25 141.73 L472.72 140.21 L473.19 139.09 L473.66 137.94 L474.13 142.46 L474.6 137.41 L475.07 141.15 L475.54 142.36 L476.01 140.58 L476.48 142.55 L476.95 139.62 L477.42 139.12 L477.89 140.5 L478.36 139.65 L478.83 140.92 L479.3 140.41 L479.77 143.61 L480.24 140.85 L480.71 142.77 L481.18 141.73 L481.65 140.59 L482.12 139.85 L482.59 143.76 L483.06 143.26 L483.53 140.7 L484 139 L484.47 138.72 L484.94 137.48 L485.41 136.2 L485.88 137.86 L486.35 139.21 L486.82 141.72 L487.29 140.57 L487.76 139.71 L488.23 138.03 L488.7 137.74 L489.17 138.53 L489.64 138.71 L490.11 137.65 L490.58 138.76 L491.05 138.47 L491.52 137.7 L491.99 139.82 L492.46 140.67 L492.93 137.58 L493.4 138.29 L493.87 139.44 L494.34 139.35 L494.81 133.97 L495.28 140.42 L495.75 139.39 L496.22 139.17 L496.69 142.75 L497.16 139.88 L497.63 136.94 L498.1 138.77 L498.57 139.39 L499.04 140.29 L499.51 141.34 L499.98 139.44 L500.45 141.12 L500.92 131 L501.39 139.41 L501.86 138.42 L502.33 139.4 L502.8 138.86 L503.27 144.08 L503.74 137.32 L504.21 134.69 L504.68 136.81 L505.15 140.94 L505.62 142.6 L506.09 140.35 L506.56 142.9 L507.03 139.69 L507.5 142.02 L507.97 139.36 L508.44 138.42 L508.91 145.1 L509.38 140.27 L509.85 142.1 L510.32 143.15 L510.79 141.47 L511.26 140.77 L511.73 137.82 L512.2 143.2 L512.67 138.08 L513.14 136.17 L513.61 139.43 L514.08 139.45 L514.55 140.36 L515.02 143.33 L515.49 140.07 L515.96 139.41 L516.43 138.58 L516.9 134.22 L517.37 137.64 L517.84 138.62 L518.31 136.49 L518.78 142.39 L519.25 142.02 L519.72 140.04 L520.19 140.66 L520.66 138.34 L521.13 141.07 L521.6 137.33 L522.07 137.39 L522.54 138 L523.01 140.1 L523.48 137.77 L523.95 137.75 L524.42 141.61 L524.89 139.22 L525.36 138.31 L525.83 138.96 L526.3 135.51 L526.77 136.57 L527.24 141.24 L527.71 139.73 L528.18 141.78 L528.65 138.85 L529.12 141.63 L529.59 137.97 L530.06 139.07 L530.53 137.53 L531 140.56 L531.47 143.3 L531.94 136.67 L532.41 139.92 L532.88 137.11 L533.35 138.51 L533.82 138.04" stroke="#f89a3c" stroke-width="0.95" fill="none" stroke-dasharray="2.2 0.4 0.4 0.4" stroke-linejoin="round" opacity="0.92"/>
<path d="M343.9 26.2 V149.5" stroke="#2a2a2a" stroke-width="1.15" fill="none"/>
<path d="M340 26.6 H343.9" stroke="#262626" stroke-width="0.9"/>
<text x="338.9" y="28.2" font-family='"Liberation Serif", "DejaVu Serif", serif' font-size="4.7" text-anchor="end" font-weight="normal" fill="#1a1a1a" stroke="#1a1a1a" stroke-width="0.12">300</text>
<path d="M340 67.45 H343.9" stroke="#262626" stroke-width="0.9"/>
<text x="338.9" y="69.05" font-family='"Liberation Serif", "DejaVu Serif", serif' font-size="4.7" text-anchor="end" font-weight="normal" fill="#1a1a1a" stroke="#1a1a1a" stroke-width="0.12">200</text>
<path d="M340 108.3 H343.9" stroke="#262626" stroke-width="0.9"/>
<text x="338.9" y="109.9" font-family='"Liberation Serif", "DejaVu Serif", serif' font-size="4.7" text-anchor="end" font-weight="normal" fill="#1a1a1a" stroke="#1a1a1a" stroke-width="0.12">100</text>
<path d="M340 149.1 H343.9" stroke="#262626" stroke-width="0.9"/>
<text x="338.9" y="150.7" font-family='"Liberation Serif", "DejaVu Serif", serif' font-size="4.7" text-anchor="end" font-weight="normal" fill="#1a1a1a" stroke="#1a1a1a" stroke-width="0.12">0</text>
<path d="M341.8 34.77 H343.9" stroke="#262626" stroke-width="0.7"/>
<path d="M341.8 42.93 H343.9" stroke="#262626" stroke-width="0.7"/>
<path d="M341.8 51.1 H343.9" stroke="#262626" stroke-width="0.7"/>
<path d="M341.8 59.26 H343.9" stroke="#262626" stroke-width="0.7"/>
<path d="M341.8 75.6 H343.9" stroke="#262626" stroke-width="0.7"/>
<path d="M341.8 83.76 H343.9" stroke="#262626" stroke-width="0.7"/>
<path d="M341.8 91.93 H343.9" stroke="#262626" stroke-width="0.7"/>
<path d="M341.8 100.09 H343.9" stroke="#262626" stroke-width="0.7"/>
<path d="M341.8 116.43 H343.9" stroke="#262626" stroke-width="0.7"/>
<path d="M341.8 124.59 H343.9" stroke="#262626" stroke-width="0.7"/>
<path d="M341.8 132.76 H343.9" stroke="#262626" stroke-width="0.7"/>
<path d="M341.8 140.92 H343.9" stroke="#262626" stroke-width="0.7"/>
<path d="M347.7 154.5 H533.9" stroke="#2a2a2a" stroke-width="1.15" fill="none"/>
<path d="M371.1 154.5 V158.2" stroke="#262626" stroke-width="0.9"/>
<text x="371.1" y="163.6" font-family='"Liberation Serif", "DejaVu Serif", serif' font-size="4.9" text-anchor="middle" font-weight="normal" fill="#1a1a1a" stroke="#1a1a1a" stroke-width="0.13">25.00</text>
<path d="M441.7 154.5 V158.2" stroke="#262626" stroke-width="0.9"/>
<text x="441.7" y="163.6" font-family='"Liberation Serif", "DejaVu Serif", serif' font-size="4.9" text-anchor="middle" font-weight="normal" fill="#1a1a1a" stroke="#1a1a1a" stroke-width="0.13">100.00</text>
<path d="M512.3 154.5 V158.2" stroke="#262626" stroke-width="0.9"/>
<text x="512.3" y="163.6" font-family='"Liberation Serif", "DejaVu Serif", serif' font-size="4.9" text-anchor="middle" font-weight="normal" fill="#1a1a1a" stroke="#1a1a1a" stroke-width="0.13">175.00</text>
<path d="M406.4 154.5 V156.5" stroke="#262626" stroke-width="0.7"/>
<path d="M477 154.5 V156.5" stroke="#262626" stroke-width="0.7"/>
<text x="440.6" y="172" font-family='"Liberation Serif", "DejaVu Serif", serif' font-size="7" text-anchor="middle" font-weight="normal" fill="#1a1a1a" stroke="#1a1a1a" stroke-width="0.17">genomic location Mb</text>
<text x="427.3" y="20.65" font-family='"Liberation Serif", "DejaVu Serif", serif' font-size="7.87" text-anchor="middle" font-weight="normal" fill="#1a1a1a" stroke="#1a1a1a" stroke-width="0.19">chr3 032-positive variant count</text>
<text transform="translate(327.2 88) rotate(-90)" font-family='"Liberation Serif", "DejaVu Serif", serif' font-size="7" text-anchor="middle" fill="#1a1a1a" stroke="#1a1a1a" stroke-width="0.17">variant count</text>
<text x="522.7" y="28.4" font-family='"Liberation Serif", "DejaVu Serif", serif' font-size="6" text-anchor="end" font-weight="normal" fill="#1a1a1a" stroke="#1a1a1a" stroke-width="0.15">AB variant count</text>
<path d="M524.5 26.4 H534.7" stroke="#ec444f" stroke-width="0.9"  fill="none"/>
<text x="522.7" y="34.8" font-family='"Liberation Serif", "DejaVu Serif", serif' font-size="6" text-anchor="end" font-weight="normal" fill="#1a1a1a" stroke="#1a1a1a" stroke-width="0.15">B variant count</text>
<path d="M524.5 32.8 H534.7" stroke="#65ba61" stroke-width="0.9" stroke-dasharray="2.4 1.1" fill="none"/>
<text x="522.7" y="41.6" font-family='"Liberation Serif", "DejaVu Serif", serif' font-size="6" text-anchor="end" font-weight="normal" fill="#1a1a1a" stroke="#1a1a1a" stroke-width="0.15">AAB variant count</text>
<path d="M524.5 39.6 H534.7" stroke="#3f8ad8" stroke-width="0.7" stroke-dasharray="1.6 0.9" fill="none"/>
<text x="522.7" y="48.1" font-family='"Liberation Serif", "DejaVu Serif", serif' font-size="6" text-anchor="end" font-weight="normal" fill="#1a1a1a" stroke="#1a1a1a" stroke-width="0.15">ABB variant count</text>
<path d="M524.5 46.1 H534.7" stroke="#f89a3c" stroke-width="0.6" stroke-dasharray="2.2 0.5 0.5 0.5" fill="none"/>
<text transform="translate(26.8 207.4) scale(0.9 1)" font-family='"Liberation Sans", "DejaVu Sans", sans-serif' font-size="18.4" font-weight="bold" fill="#000" stroke="#000" stroke-width="0.45">C</text>
<path d="M73.8 254.9 L74.27 222.31 L74.74 225.49 L75.21 228.91 L75.68 224.1 L76.15 217.32 L76.62 217.3 L77.09 206.67 L77.56 211.31 L78.03 219.45 L78.5 225.67 L78.97 223.12 L79.44 225.83 L79.91 226.35 L80.38 218.72 L80.85 226.92 L81.32 224.73 L81.79 228.21 L82.26 254.9 L82.73 227.91 L83.2 229.07 L83.67 228.74 L84.14 231.6 L84.61 236.67 L85.08 241.16 L85.55 237.12 L86.02 230.21 L86.49 235.63 L86.96 230.24 L87.43 226.01 L87.9 220.05 L88.37 222.01 L88.84 210.8 L89.31 221.25 L89.78 224.02 L90.25 226.5 L90.72 223.82 L91.19 223.45 L91.66 226.04 L92.13 226.11 L92.6 236.91 L93.07 225.78 L93.54 223.6 L94.01 221.64 L94.48 221.7 L94.95 231.87 L95.42 236.76 L95.89 236.1 L96.36 243.89 L96.83 239.58 L97.3 239.36 L97.77 232.7 L98.24 227.62 L98.71 227.95 L99.18 226.53 L99.65 223.78 L100.12 225.1 L100.59 216.75 L101.06 221.68 L101.53 220.78 L102 228.88 L102.47 220.8 L102.94 218.6 L103.41 217.34 L103.88 226.87 L104.35 226.46 L104.82 231.34 L105.29 225.74 L105.76 236.54 L106.23 235.38 L106.7 234.13 L107.17 234.43 L107.64 228.37 L108.11 229.28 L108.58 233.7 L109.05 234.59 L109.52 232.62 L109.99 231.73 L110.46 228.32 L110.93 231.19 L111.4 234.2 L111.87 233.76 L112.34 241.74 L112.81 229.77 L113.28 231.92 L113.75 236.01 L114.22 231.3 L114.69 230.69 L115.16 242.63 L115.63 240.15 L116.1 231.99 L116.57 234.97 L117.04 227.89 L117.51 229.28 L117.98 235.2 L118.45 236.57 L118.92 236.48 L119.39 240.44 L119.86 240.29 L120.33 241.78 L120.8 238.59 L121.27 237.96 L121.74 232.57 L122.21 229.34 L122.68 228.79 L123.15 230.59 L123.62 231.83 L124.09 225.65 L124.56 217.06 L125.03 225.85 L125.5 223.64 L125.97 234.29 L126.44 231.6 L126.91 235.65 L127.38 235.8 L127.85 236.03 L128.32 243.22 L128.79 244.39 L129.26 243.62 L129.73 238.38 L130.2 238.71 L130.67 225.85 L131.14 222.82 L131.61 218.34 L132.08 223.23 L132.55 213.59 L133.02 214.69 L133.49 218.87 L133.96 219.74 L134.43 233.59 L134.9 237.32 L135.37 228.8 L135.84 225.31 L136.31 219.49 L136.78 219.98 L137.25 227.29 L137.72 229.59 L138.19 230.21 L138.66 231.13 L139.13 229.82 L139.6 232.68 L140.07 224.82 L140.54 226.92 L141.01 229.02 L141.48 226.8 L141.95 219.66 L142.42 218.29 L142.89 226.9 L143.36 232.83 L143.83 227.64 L144.3 233.93 L144.77 237.68 L145.24 242.4 L145.71 236.71 L146.18 238.81 L146.65 233.63 L147.12 239.54 L147.59 234.86 L148.06 234.33 L148.53 234.9 L149 236.46 L149.47 231.81 L149.94 222.97 L150.41 226.98 L150.88 225.23 L151.35 229.92 L151.82 229.97 L152.29 228.7 L152.76 229.45 L153.23 227.32 L153.7 229.51 L154.17 227.97 L154.64 222.5 L155.11 221.79 L155.58 230.52 L156.05 224.93 L156.52 227.49 L156.99 237.26 L157.46 238.81 L157.93 240.25 L158.4 234.32 L158.87 228.82 L159.34 228.94 L159.81 233.28 L160.28 230.35 L160.75 231.64 L161.22 228.89 L161.69 227.57 L162.16 231.6 L162.63 231.99 L163.1 230.06 L163.57 233.24 L164.04 234.69 L164.51 234.51 L164.98 225.81 L165.45 225.5 L165.92 216.9 L166.39 216.93 L166.86 219.34 L167.33 235.34 L167.8 244.19 L168.27 254.9 L168.74 234.15 L169.21 228.7 L169.68 227.66 L170.15 230.27 L170.62 229.87 L171.09 233.81 L171.56 234.02 L172.03 230.35 L172.5 231.14 L172.97 230.73 L173.44 226.61 L173.91 229.53 L174.38 237.15 L174.85 231.21 L175.32 239.68 L175.79 238.13 L176.26 237.44 L176.73 238.9 L177.2 237.53 L177.67 238.57 L178.14 232.79 L178.61 232.72 L179.08 232.08 L179.55 237.9 L180.02 234.49 L180.49 228.27 L180.96 229.47 L181.43 227.76 L181.9 229.34 L182.37 229.35 L182.84 235.03 L183.31 222.04 L183.78 230.04 L184.25 226.46 L184.72 219.51 L185.19 217.64 L185.66 214.18 L186.13 218.96 L186.6 224.97 L187.07 221.22 L187.54 233.85 L188.01 232.89 L188.48 239.55 L188.95 233.92 L189.42 234.05 L189.89 229.96 L190.36 230.35 L190.83 226.08 L191.3 222.23 L191.77 230.76 L192.24 234.99 L192.71 243.28 L193.18 233.76 L193.65 241.55 L194.12 247.69 L194.59 241.1 L195.06 242.42 L195.53 247.71 L196 243.3 L196.47 232.28 L196.94 235.11 L197.41 230.27 L197.88 230.12 L198.35 230.1 L198.82 230.85 L199.29 229.55 L199.76 232.97 L200.23 239.07 L200.7 237.95 L201.17 241.91 L201.64 234.17 L202.11 226.65 L202.58 231.1 L203.05 231.17 L203.52 229.73 L203.99 231.06 L204.46 230.74 L204.93 240.05 L205.4 232.9 L205.87 235.27 L206.34 230.51 L206.81 226.01 L207.28 232.09 L207.75 218.55 L208.22 222.73 L208.69 228.94 L209.16 228.92 L209.63 234.6 L210.1 230.34 L210.57 227.52 L211.04 233.61 L211.51 225.13 L211.98 224.14 L212.45 220.19 L212.92 221.45 L213.39 227.41 L213.86 228.91 L214.33 227.68 L214.8 221.75 L215.27 222.09 L215.74 211.1 L216.21 217.75 L216.68 220.66 L217.15 221.52 L217.62 226.52 L218.09 225.82 L218.56 227.18 L219.03 234.47 L219.5 228.35 L219.97 226.79 L220.44 220.97 L220.91 223.12 L221.38 221.99 L221.85 222.7 L222.32 230.22 L222.79 226.55 L223.26 232.12 L223.73 231.4 L224.2 219.83 L224.67 225.02 L225.14 229.81 L225.61 234.01 L226.08 232.73 L226.55 240.08 L227.02 242.29 L227.49 238.96 L227.96 246.24 L228.43 244.91 L228.9 238.7 L229.37 232.02 L229.84 237.45 L230.31 230.79 L230.78 228.39 L231.25 228.4 L231.72 225.26 L232.19 228.92 L232.66 227.29 L233.13 229.2 L233.6 227.88 L234.07 224.34 L234.54 224.5 L235.01 225.84 L235.48 220.23 L235.95 230.2 L236.42 221.3 L236.89 220.85 L237.36 227.22 L237.83 227.78 L238.3 227.22 L238.77 228.8 L239.24 234.3 L239.71 239.05 L240.18 242.36 L240.65 237.44 L241.12 237.87 L241.59 237.35 L242.06 236.22 L242.53 224.08 L243 230.08 L243.47 229.55 L243.94 230.01 L244.41 230.06 L244.88 230.83 L245.35 227.57 L245.82 222.98 L246.29 221.08 L246.76 227.45 L247.23 221.51 L247.7 225.43 L248.17 228.2 L248.64 222.78 L249.11 213.85 L249.58 221.38 L250.05 221.44 L250.52 224.62 L250.99 230.75 L251.46 232.53 L251.93 233.85 L252.4 240.85 L252.87 234.22 L253.34 227.94 L253.81 223.24 L254.28 223.51 L254.75 224.09 L255.22 226.08 L255.69 227.25 L256.16 221.38 L256.63 217.52 L257.1 224.74 L257.57 227.17 L258.04 234.87 L258.51 241.58 L258.98 236.79 L259.45 231.5 L259.92 226.34 L260.39 225.34 L260.86 234.46 L261.33 254.9" stroke="#65ba61" stroke-width="1.1" fill="none" stroke-dasharray="2.0 0.7" stroke-linejoin="round" opacity="0.95"/>
<path d="M73.8 254.9 L74.27 266.84 L74.74 270.64 L75.21 276 L75.68 275.53 L76.15 273.17 L76.62 272.85 L77.09 270.39 L77.56 272.14 L78.03 269.46 L78.5 271.62 L78.97 270.19 L79.44 270.56 L79.91 269.93 L80.38 269.15 L80.85 273.82 L81.32 272.42 L81.79 261.73 L82.26 254.9 L82.73 270.9 L83.2 273.39 L83.67 270.9 L84.14 269.01 L84.61 267.99 L85.08 273.52 L85.55 274 L86.02 278.64 L86.49 274.88 L86.96 270.91 L87.43 273.89 L87.9 270.67 L88.37 269.08 L88.84 269.66 L89.31 265.84 L89.78 266.52 L90.25 263.83 L90.72 262.71 L91.19 266.7 L91.66 267.61 L92.13 272.27 L92.6 272.81 L93.07 272.52 L93.54 274.11 L94.01 274 L94.48 272.62 L94.95 273.84 L95.42 270.97 L95.89 269.72 L96.36 265.33 L96.83 265.39 L97.3 266.97 L97.77 266.58 L98.24 268.24 L98.71 269.27 L99.18 272.08 L99.65 271.37 L100.12 272.65 L100.59 273.48 L101.06 271.37 L101.53 269.03 L102 272.17 L102.47 274.24 L102.94 272.96 L103.41 274.19 L103.88 272.96 L104.35 272.08 L104.82 269.72 L105.29 267.93 L105.76 266.79 L106.23 267.38 L106.7 268.57 L107.17 269.02 L107.64 267.71 L108.11 267.01 L108.58 266.25 L109.05 263.51 L109.52 266.98 L109.99 269.29 L110.46 272.17 L110.93 269.43 L111.4 266.81 L111.87 263.37 L112.34 265.55 L112.81 265.92 L113.28 264.3 L113.75 265.89 L114.22 262.64 L114.69 264.56 L115.16 261.4 L115.63 264.42 L116.1 267.98 L116.57 270.25 L117.04 267.5 L117.51 266.65 L117.98 261.99 L118.45 261.49 L118.92 260.99 L119.39 257.38 L119.86 261.58 L120.33 262.33 L120.8 264.74 L121.27 263.63 L121.74 265.23 L122.21 264.12 L122.68 262.42 L123.15 267.85 L123.62 267.38 L124.09 268.09 L124.56 270.89 L125.03 274.17 L125.5 276.81 L125.97 275.52 L126.44 273.41 L126.91 270.8 L127.38 265.77 L127.85 268.51 L128.32 269.68 L128.79 272.64 L129.26 273.21 L129.73 271.01 L130.2 267.63 L130.67 269.55 L131.14 272.74 L131.61 272.18 L132.08 272.26 L132.55 270.73 L133.02 265.91 L133.49 268.22 L133.96 268.82 L134.43 270.29 L134.9 269.42 L135.37 270.29 L135.84 271.1 L136.31 272.78 L136.78 270.77 L137.25 268.5 L137.72 268.31 L138.19 267.61 L138.66 266.74 L139.13 268.59 L139.6 273.43 L140.07 272.55 L140.54 276.52 L141.01 278.3 L141.48 272.58 L141.95 270 L142.42 267.52 L142.89 267.15 L143.36 268.76 L143.83 271.27 L144.3 271.71 L144.77 266.5 L145.24 263.29 L145.71 261.06 L146.18 261.65 L146.65 267.12 L147.12 263.73 L147.59 264.75 L148.06 265.15 L148.53 261.44 L149 264.76 L149.47 266.78 L149.94 265.21 L150.41 266.13 L150.88 262.65 L151.35 262.99 L151.82 261.96 L152.29 264.48 L152.76 268.32 L153.23 269.3 L153.7 269.26 L154.17 267.16 L154.64 263.6 L155.11 265.75 L155.58 266.64 L156.05 264.71 L156.52 268.41 L156.99 266.47 L157.46 266.57 L157.93 264.54 L158.4 265.21 L158.87 264.92 L159.34 263.57 L159.81 264.38 L160.28 261.79 L160.75 266.59 L161.22 263.87 L161.69 263.15 L162.16 265.41 L162.63 266.18 L163.1 268.56 L163.57 267.25 L164.04 268.57 L164.51 265.78 L164.98 268.72 L165.45 265.77 L165.92 268.2 L166.39 264.92 L166.86 267.69 L167.33 260.8 L167.8 257.86 L168.27 254.9 L168.74 264.11 L169.21 265.1 L169.68 264.76 L170.15 264.03 L170.62 265.52 L171.09 266.1 L171.56 266.35 L172.03 268.15 L172.5 266.97 L172.97 262.79 L173.44 262.2 L173.91 262.35 L174.38 261.45 L174.85 260.25 L175.32 263.23 L175.79 264.46 L176.26 265.41 L176.73 265.05 L177.2 268.49 L177.67 268.75 L178.14 266.56 L178.61 267.51 L179.08 269.8 L179.55 268.09 L180.02 272 L180.49 273.89 L180.96 271.42 L181.43 269.1 L181.9 264.42 L182.37 263.94 L182.84 261.46 L183.31 266.43 L183.78 265.24 L184.25 266.05 L184.72 266.02 L185.19 268.1 L185.66 268.2 L186.13 267.57 L186.6 267.15 L187.07 265.33 L187.54 267.95 L188.01 267.58 L188.48 267.48 L188.95 268.12 L189.42 270.75 L189.89 272.15 L190.36 269.59 L190.83 274.22 L191.3 274.45 L191.77 270.91 L192.24 269.62 L192.71 268.96 L193.18 269.58 L193.65 267.22 L194.12 265.69 L194.59 268.12 L195.06 266.75 L195.53 271.38 L196 273.78 L196.47 271.5 L196.94 270.94 L197.41 269.39 L197.88 269.1 L198.35 267.75 L198.82 265.9 L199.29 266.96 L199.76 267.74 L200.23 270.06 L200.7 268.39 L201.17 261.73 L201.64 255.5 L202.11 259.05 L202.58 263.28 L203.05 267.07 L203.52 266.29 L203.99 266.37 L204.46 265.61 L204.93 267.17 L205.4 265.81 L205.87 264.78 L206.34 264.39 L206.81 265.86 L207.28 262.88 L207.75 266.71 L208.22 267.89 L208.69 268.11 L209.16 269.16 L209.63 266.68 L210.1 264.59 L210.57 264.77 L211.04 264.53 L211.51 266.96 L211.98 266.9 L212.45 268.21 L212.92 269.13 L213.39 264.59 L213.86 270.4 L214.33 269.12 L214.8 273.15 L215.27 271.1 L215.74 270.32 L216.21 269.91 L216.68 264.39 L217.15 266.27 L217.62 265.33 L218.09 262.52 L218.56 266.41 L219.03 266.2 L219.5 266.08 L219.97 266.64 L220.44 272.64 L220.91 268.83 L221.38 266.8 L221.85 267.05 L222.32 266.9 L222.79 266.11 L223.26 265.92 L223.73 264.07 L224.2 265.65 L224.67 264.61 L225.14 263.76 L225.61 264.76 L226.08 264.6 L226.55 265.33 L227.02 263.97 L227.49 262.92 L227.96 263.98 L228.43 264.82 L228.9 267.35 L229.37 263.31 L229.84 264.13 L230.31 263.98 L230.78 262.09 L231.25 263.87 L231.72 264.13 L232.19 263.85 L232.66 265.79 L233.13 266.98 L233.6 266.79 L234.07 264.19 L234.54 263.81 L235.01 266.7 L235.48 263.97 L235.95 267.46 L236.42 269.82 L236.89 268.27 L237.36 268.34 L237.83 267.12 L238.3 268.05 L238.77 269.04 L239.24 267.37 L239.71 267.67 L240.18 266.75 L240.65 265.71 L241.12 265.95 L241.59 264.8 L242.06 267.53 L242.53 268.96 L243 268.38 L243.47 267.23 L243.94 263.73 L244.41 264.44 L244.88 258.71 L245.35 261.36 L245.82 266.52 L246.29 265.41 L246.76 269.08 L247.23 269.53 L247.7 270.14 L248.17 269.94 L248.64 272.21 L249.11 271.65 L249.58 274.2 L250.05 275.02 L250.52 272.22 L250.99 272.84 L251.46 269.16 L251.93 264.12 L252.4 264.88 L252.87 268.21 L253.34 269.59 L253.81 268.98 L254.28 271.31 L254.75 273.57 L255.22 272.21 L255.69 273.45 L256.16 277.6 L256.63 278.22 L257.1 276.75 L257.57 279.45 L258.04 284.05 L258.51 279.91 L258.98 278 L259.45 274.02 L259.92 270.64 L260.39 261.92 L260.86 258.16 L261.33 254.9" stroke="#ec444f" stroke-width="1.15" fill="none" stroke-linejoin="round"/>
<path d="M73.8 254.9 H261.6" stroke="#3f8ad8" stroke-width="1.5" fill="none"/>
<path d="M69.5 193.7 V316.3" stroke="#2a2a2a" stroke-width="1.15" fill="none"/>
<path d="M65.6 194.1 H69.5" stroke="#262626" stroke-width="0.9"/>
<text x="64.5" y="195.7" font-family='"Liberation Serif", "DejaVu Serif", serif' font-size="4.7" text-anchor="end" font-weight="normal" fill="#1a1a1a" stroke="#1a1a1a" stroke-width="0.12">5</text>
<path d="M65.6 255 H69.5" stroke="#262626" stroke-width="0.9"/>
<text x="64.5" y="256.6" font-family='"Liberation Serif", "DejaVu Serif", serif' font-size="4.7" text-anchor="end" font-weight="normal" fill="#1a1a1a" stroke="#1a1a1a" stroke-width="0.12">0</text>
<path d="M65.6 315.9 H69.5" stroke="#262626" stroke-width="0.9"/>
<text x="64.5" y="317.5" font-family='"Liberation Serif", "DejaVu Serif", serif' font-size="4.7" text-anchor="end" font-weight="normal" fill="#1a1a1a" stroke="#1a1a1a" stroke-width="0.12">-5</text>
<path d="M67.4 206.28 H69.5" stroke="#262626" stroke-width="0.7"/>
<path d="M67.4 218.46 H69.5" stroke="#262626" stroke-width="0.7"/>
<path d="M67.4 230.64 H69.5" stroke="#262626" stroke-width="0.7"/>
<path d="M67.4 242.82 H69.5" stroke="#262626" stroke-width="0.7"/>
<path d="M67.4 267.18 H69.5" stroke="#262626" stroke-width="0.7"/>
<path d="M67.4 279.36 H69.5" stroke="#262626" stroke-width="0.7"/>
<path d="M67.4 291.54 H69.5" stroke="#262626" stroke-width="0.7"/>
<path d="M67.4 303.72 H69.5" stroke="#262626" stroke-width="0.7"/>
<path d="M73.6 320.7 H262" stroke="#2a2a2a" stroke-width="1.15" fill="none"/>
<path d="M97.1 320.7 V324.4" stroke="#262626" stroke-width="0.9"/>
<text x="97.1" y="329.5" font-family='"Liberation Serif", "DejaVu Serif", serif' font-size="4.9" text-anchor="middle" font-weight="normal" fill="#1a1a1a" stroke="#1a1a1a" stroke-width="0.13">25.00</text>
<path d="M168.45 320.7 V324.4" stroke="#262626" stroke-width="0.9"/>
<text x="168.45" y="329.5" font-family='"Liberation Serif", "DejaVu Serif", serif' font-size="4.9" text-anchor="middle" font-weight="normal" fill="#1a1a1a" stroke="#1a1a1a" stroke-width="0.13">100.00</text>
<path d="M239.8 320.7 V324.4" stroke="#262626" stroke-width="0.9"/>
<text x="239.8" y="329.5" font-family='"Liberation Serif", "DejaVu Serif", serif' font-size="4.9" text-anchor="middle" font-weight="normal" fill="#1a1a1a" stroke="#1a1a1a" stroke-width="0.13">175.00</text>
<path d="M132.8 320.7 V322.7" stroke="#262626" stroke-width="0.7"/>
<path d="M204.1 320.7 V322.7" stroke="#262626" stroke-width="0.7"/>
<text x="167.4" y="337.8" font-family='"Liberation Serif", "DejaVu Serif", serif' font-size="7" text-anchor="middle" font-weight="normal" fill="#1a1a1a" stroke="#1a1a1a" stroke-width="0.17">genomic location Mb</text>
<text x="156.1" y="188.8" font-family='"Liberation Serif", "DejaVu Serif", serif' font-size="7.82" text-anchor="middle" font-weight="normal" fill="#1a1a1a" stroke="#1a1a1a" stroke-width="0.19">chr3 032-positive AB B variant count Z-score</text>
<text transform="translate(56.6 254.8) rotate(-90)" font-family='"Liberation Serif", "DejaVu Serif", serif' font-size="7" text-anchor="middle" fill="#1a1a1a" stroke="#1a1a1a" stroke-width="0.17">Z score</text>
<text x="250.8" y="196.2" font-family='"Liberation Serif", "DejaVu Serif", serif' font-size="6" text-anchor="end" font-weight="normal" fill="#1a1a1a" stroke="#1a1a1a" stroke-width="0.15">AB variant count Z-score</text>
<path d="M252.2 194.2 H261.7" stroke="#ec444f" stroke-width="0.9"  fill="none"/>
<text x="250.8" y="202.6" font-family='"Liberation Serif", "DejaVu Serif", serif' font-size="6" text-anchor="end" font-weight="normal" fill="#1a1a1a" stroke="#1a1a1a" stroke-width="0.15">B variant count zscore</text>
<path d="M252.2 200.6 H261.7" stroke="#65ba61" stroke-width="0.9" stroke-dasharray="2.4 1.1" fill="none"/>
<text x="250.8" y="209.1" font-family='"Liberation Serif", "DejaVu Serif", serif' font-size="6" text-anchor="end" font-weight="normal" fill="#1a1a1a" stroke="#1a1a1a" stroke-width="0.15">zero</text>
<path d="M252.2 207.1 H261.7" stroke="#3f8ad8" stroke-width="0.7" stroke-dasharray="1.2 0.6 0.4 0.6" fill="none"/>
<text x="298.1" y="200.9" font-family='"Liberation Sans", "DejaVu Sans", sans-serif' font-size="19.5" text-anchor="start" font-weight="bold" fill="#000" stroke="#000" stroke-width="0.25">D</text>
<path d="M344.2 262.48 L344.65 262.5 L345.1 257.72 L345.55 261.82 L346 260.06 L346.45 261.92 L346.9 264.38 L347.35 264.57 L347.8 260.09 L348.25 256.84 L348.7 257.97 L349.15 262.34 L349.6 260.76 L350.05 262.44 L350.5 263.51 L350.95 260.83 L351.4 263.86 L351.85 261.99 L352.3 260.43 L352.75 259.63 L353.2 253.4 L353.65 256.01 L354.1 261.54 L354.55 256.3 L355 257.87 L355.45 253.41 L355.9 257.47 L356.35 258.11 L356.8 256.75 L357.25 255.94 L357.7 254.95 L358.15 256.01 L358.6 254.13 L359.05 254.05 L359.5 257.49 L359.95 255.76 L360.4 255.76 L360.85 256.85 L361.3 252.87 L361.75 256.26 L362.2 256.57 L362.65 256.44 L363.1 256.37 L363.55 258.48 L364 256.97 L364.45 255.06 L364.9 261.26 L365.35 259.58 L365.8 263.29 L366.25 265.07 L366.7 264.35 L367.15 261.95 L367.6 263.51 L368.05 258.9 L368.5 263.01 L368.95 263.21 L369.4 261.16 L369.85 260.08 L370.3 256.94 L370.75 263.31 L371.2 264.88 L371.65 261.08 L372.1 260.72 L372.55 257.56 L373 261.52 L373.45 266.85 L373.9 263.88 L374.35 262.2 L374.8 262.1 L375.25 268.27 L375.7 263.43 L376.15 267.02 L376.6 260.75 L377.05 263.77 L377.5 265.26 L377.95 260.21 L378.4 262.62 L378.85 259.26 L379.3 262.49 L379.75 266.5 L380.2 261.63 L380.65 263.51 L381.1 255.41 L381.55 259.27 L382 262.46 L382.45 262.9 L382.9 258.02 L383.35 258.35 L383.8 264.43 L384.25 258.38 L384.7 261.19 L385.15 261.26 L385.6 262.85 L386.05 262.73 L386.5 258.58 L386.95 261.88 L387.4 266.88 L387.85 256.79 L388.3 259.7 L388.75 265.48 L389.2 264.11 L389.65 267.63 L390.1 266.59 L390.55 265.12 L391 264.66 L391.45 266.5 L391.9 264.59 L392.35 262.49 L392.8 263.82 L393.25 257.96 L393.7 265.73 L394.15 260.66 L394.6 264.36 L395.05 264.57 L395.5 259.34 L395.95 263.65 L396.4 262.85 L396.85 260.19 L397.3 256 L397.75 262.72 L398.2 257.28 L398.65 260.44 L399.1 263.08 L399.55 260.34 L400 258.42 L400.45 261.66 L400.9 261.13 L401.35 256.62 L401.8 258.55 L402.25 263.87 L402.7 260.16 L403.15 261.38 L403.6 262 L404.05 261.72 L404.5 259.42 L404.95 260.29 L405.4 260.23 L405.85 258.07 L406.3 261.73 L406.75 261.42 L407.2 261.3 L407.65 262.9 L408.1 260.04 L408.55 258.58 L409 260.05 L409.45 256.91 L409.9 262.86 L410.35 261.17 L410.8 264.71 L411.25 260.19 L411.7 263.78 L412.15 261.35 L412.6 261.77 L413.05 261.09 L413.5 258.05 L413.95 257.52 L414.4 259.46 L414.85 262.73 L415.3 262.67 L415.75 257.75 L416.2 258.59 L416.65 260.4 L417.1 259.05 L417.55 263.62 L418 254.02 L418.45 259.93 L418.9 257.72 L419.35 255.04 L419.8 259.17 L420.25 253.53 L420.7 254.79 L421.15 259.54 L421.6 263.36 L422.05 259.81 L422.5 263.46 L422.95 253.55 L423.4 257.35 L423.85 257.63 L424.3 256.67 L424.75 254.07 L425.2 250.21 L425.65 257.63 L426.1 255.27 L426.55 257.62 L427 254.48 L427.45 256.83 L427.9 252.51 L428.35 258.76 L428.8 257.59 L429.25 257.08 L429.7 255.21 L430.15 262.47 L430.6 261.03 L431.05 267.9 L431.5 271.71 L431.95 271.27 L432.4 261.82 L432.85 254.44 L433.3 260.34 L433.75 257.42 L434.2 254.98 L434.65 263.68 L435.1 262.49 L435.55 265.73 L436 264.97 L436.45 262.41 L436.9 262.99 L437.35 261.33 L437.8 261.39 L438.25 262.11 L438.7 259.99 L439.15 257.12 L439.6 261.14 L440.05 260.69 L440.5 257.96 L440.95 258.58 L441.4 258.26 L441.85 258.29 L442.3 253.79 L442.75 255.11 L443.2 260.77 L443.65 257.98 L444.1 259.76 L444.55 257.72 L445 263.79 L445.45 259.55 L445.9 262.59 L446.35 266.23 L446.8 260.2 L447.25 261.5 L447.7 266.24 L448.15 258.18 L448.6 266.61 L449.05 266.61 L449.5 264.08 L449.95 260.73 L450.4 259.6 L450.85 261.39 L451.3 259.45 L451.75 261.16 L452.2 260.57 L452.65 257.15 L453.1 262.46 L453.55 267.78 L454 262.89 L454.45 264.15 L454.9 261.48 L455.35 262.55 L455.8 265.18 L456.25 263.57 L456.7 259.9 L457.15 261.57 L457.6 266.64 L458.05 259.68 L458.5 262.21 L458.95 261.82 L459.4 260.68 L459.85 263.33 L460.3 261.04 L460.75 259.03 L461.2 259.07 L461.65 260.91 L462.1 263.2 L462.55 263.79 L463 257.02 L463.45 261.19 L463.9 263.24 L464.35 266.12 L464.8 262.96 L465.25 262.02 L465.7 254.31 L466.15 259.16 L466.6 264.16 L467.05 263.32 L467.5 255.86 L467.95 258.05 L468.4 262.86 L468.85 260.59 L469.3 264.45 L469.75 265.64 L470.2 260.89 L470.65 255.36 L471.1 258.95 L471.55 263.29 L472 262.53 L472.45 260.71 L472.9 260.69 L473.35 265.12 L473.8 269.47 L474.25 257.77 L474.7 259.25 L475.15 255.21 L475.6 256.83 L476.05 256.83 L476.5 263.82 L476.95 261.67 L477.4 258.41 L477.85 258.69 L478.3 261.54 L478.75 257.73 L479.2 261.16 L479.65 264.54 L480.1 260.24 L480.55 259.32 L481 258.95 L481.45 260.88 L481.9 252.5 L482.35 250.43 L482.8 251.36 L483.25 256.25 L483.7 249.59 L484.15 249.86 L484.6 250.89 L485.05 258.6 L485.5 259.69 L485.95 256.4 L486.4 257.6 L486.85 260.25 L487.3 260.15 L487.75 257.72 L488.2 258.96 L488.65 256.36 L489.1 259.56 L489.55 255.59 L490 259.78 L490.45 256.68 L490.9 255.67 L491.35 260.67 L491.8 252.97 L492.25 263.16 L492.7 259.7 L493.15 257.89 L493.6 258.79 L494.05 267.23 L494.5 260.6 L494.95 259.5 L495.4 260.82 L495.85 270.35 L496.3 265.3 L496.75 262.78 L497.2 262.73 L497.65 255.56 L498.1 260.44 L498.55 256.52 L499 257.61 L499.45 264.87 L499.9 263.5 L500.35 260.25 L500.8 258.92 L501.25 256.4 L501.7 257.24 L502.15 254.04 L502.6 259.66 L503.05 265.42 L503.5 258.8 L503.95 259.42 L504.4 262.88 L504.85 262.9 L505.3 261.95 L505.75 255.91 L506.2 259.97 L506.65 262.88 L507.1 259.61 L507.55 251.19 L508 256.99 L508.45 254.95 L508.9 253.06 L509.35 253.73 L509.8 258.24 L510.25 255.27 L510.7 257.27 L511.15 259.79 L511.6 258.33 L512.05 261.13 L512.5 259.46 L512.95 257.28 L513.4 255.4 L513.85 259.63 L514.3 256.54 L514.75 260.47 L515.2 260.05 L515.65 260.75 L516.1 259.41 L516.55 260.2 L517 256.95 L517.45 255.48 L517.9 260.24 L518.35 252.94 L518.8 258.77 L519.25 259.87 L519.7 263.34 L520.15 259.08 L520.6 267.43 L521.05 266.31 L521.5 264.4 L521.95 263.69 L522.4 263.05 L522.85 264.62 L523.3 268.43 L523.75 259.79 L524.2 259.29 L524.65 259.06 L525.1 259.86 L525.55 263.3 L526 263.3 L526.45 260.46 L526.9 261.06 L527.35 265.63 L527.8 262.84 L528.25 262.55 L528.7 259.58 L529.15 262.46 L529.6 258.55 L530.05 259.73 L530.5 260.37 L530.95 266.42 L531.4 263.96 L531.85 267.71 L532.3 274.14 L532.75 271.49 L533.2 276.48 L533.65 267.63 L534.1 261.71 L534.55 265.52 L535 258.86 L535.45 260.13 L535.9 260.19 L536.35 262.68" stroke="#3f8ad8" stroke-width="1.0" fill="none" stroke-dasharray="1.2 0.6" stroke-linejoin="round" opacity="0.95"/>
<path d="M344.2 251.22 L344.65 247 L345.1 251.44 L345.55 253.64 L346 257.67 L346.45 254.68 L346.9 245.88 L347.35 241.23 L347.8 232.15 L348.25 235.71 L348.7 244.13 L349.15 250.56 L349.6 257.48 L350.05 257.67 L350.5 256.42 L350.95 251.67 L351.4 248.24 L351.85 245.71 L352.3 243.42 L352.75 252.26 L353.2 257.67 L353.65 245.53 L354.1 246.14 L354.55 240.72 L355 237.93 L355.45 246.91 L355.9 245.16 L356.35 255.33 L356.8 257.17 L357.25 252.2 L357.7 252.19 L358.15 239.9 L358.6 253.92 L359.05 251.87 L359.5 253.98 L359.95 246.96 L360.4 247.75 L360.85 246.34 L361.3 243.69 L361.75 251.98 L362.2 252.32 L362.65 253.1 L363.1 250.39 L363.55 247.06 L364 242.7 L364.45 241.73 L364.9 244.18 L365.35 240.97 L365.8 250.55 L366.25 241.01 L366.7 247.16 L367.15 234.31 L367.6 239.07 L368.05 241.66 L368.5 243.37 L368.95 234.51 L369.4 244.8 L369.85 252.35 L370.3 246.49 L370.75 255.39 L371.2 246.51 L371.65 254.53 L372.1 246.36 L372.55 256.1 L373 255.1 L373.45 250.84 L373.9 257.67 L374.35 255.76 L374.8 251.29 L375.25 249.92 L375.7 243.26 L376.15 255.92 L376.6 240.54 L377.05 239.87 L377.5 249.95 L377.95 256.51 L378.4 251.59 L378.85 255.12 L379.3 253.47 L379.75 250.15 L380.2 249.25 L380.65 245.12 L381.1 248.57 L381.55 249.64 L382 247.32 L382.45 245.7 L382.9 251.83 L383.35 238.96 L383.8 253.12 L384.25 231.15 L384.7 249.82 L385.15 247.12 L385.6 235.86 L386.05 251.98 L386.5 247.32 L386.95 254.32 L387.4 257.67 L387.85 257.6 L388.3 252 L388.75 243.06 L389.2 237.73 L389.65 233.39 L390.1 241.66 L390.55 245.56 L391 246.23 L391.45 257.67 L391.9 252.8 L392.35 245.33 L392.8 239.39 L393.25 248.09 L393.7 251.32 L394.15 244.7 L394.6 257.67 L395.05 228.91 L395.5 251.7 L395.95 250.87 L396.4 247.15 L396.85 249.25 L397.3 238.07 L397.75 234.63 L398.2 243.48 L398.65 244.56 L399.1 248.78 L399.55 255.16 L400 254.9 L400.45 243.19 L400.9 247.66 L401.35 244.98 L401.8 243.86 L402.25 244.15 L402.7 245.43 L403.15 240.71 L403.6 240.5 L404.05 246.14 L404.5 254.66 L404.95 245.96 L405.4 255.25 L405.85 245.95 L406.3 242.79 L406.75 232.66 L407.2 241.62 L407.65 248.85 L408.1 242.84 L408.55 252.18 L409 243.74 L409.45 239.99 L409.9 240.74 L410.35 246.27 L410.8 247.46 L411.25 245.45 L411.7 251.05 L412.15 253.61 L412.6 234.51 L413.05 243.01 L413.5 247.22 L413.95 239.57 L414.4 246.31 L414.85 246.55 L415.3 250.14 L415.75 248.93 L416.2 250.09 L416.65 244.95 L417.1 244.36 L417.55 245.01 L418 250.5 L418.45 246.89 L418.9 249.86 L419.35 250.26 L419.8 246.67 L420.25 241.54 L420.7 257.67 L421.15 257.67 L421.6 253.21 L422.05 247.39 L422.5 251.43 L422.95 247 L423.4 252.43 L423.85 247.79 L424.3 246.07 L424.75 241.15 L425.2 242.75 L425.65 239.48 L426.1 234.51 L426.55 246.47 L427 253.41 L427.45 257.67 L427.9 246.45 L428.35 245.8 L428.8 247.25 L429.25 249.7 L429.7 255.55 L430.15 255.55 L430.6 255.55 L431.05 255.55 L431.5 255.55 L431.95 255.55 L432.4 255.55 L432.85 255.55 L433.3 253.96 L433.75 252.46 L434.2 242.26 L434.65 252.98 L435.1 241.3 L435.55 243.56 L436 236.57 L436.45 244.51 L436.9 246.16 L437.35 240.37 L437.8 245.45 L438.25 250.51 L438.7 238.2 L439.15 242.28 L439.6 237.8 L440.05 245.19 L440.5 242.38 L440.95 236.75 L441.4 252.9 L441.85 243.56 L442.3 243.64 L442.75 243.07 L443.2 244.52 L443.65 251.64 L444.1 248.6 L444.55 246.05 L445 237.74 L445.45 243.61 L445.9 238.58 L446.35 239.2 L446.8 245.33 L447.25 245.1 L447.7 242.46 L448.15 239 L448.6 235.07 L449.05 247.09 L449.5 247.82 L449.95 247.72 L450.4 243.7 L450.85 252.49 L451.3 255 L451.75 250.95 L452.2 257.15 L452.65 245.4 L453.1 246.46 L453.55 246.06 L454 250.09 L454.45 244.42 L454.9 246.73 L455.35 248.87 L455.8 248.88 L456.25 245.63 L456.7 246.14 L457.15 242.04 L457.6 239.87 L458.05 241.37 L458.5 248.43 L458.95 255.38 L459.4 245.83 L459.85 243.09 L460.3 246.39 L460.75 243.8 L461.2 241.53 L461.65 237.59 L462.1 249.61 L462.55 248.7 L463 254.81 L463.45 256.49 L463.9 245.63 L464.35 246.99 L464.8 252.95 L465.25 254.36 L465.7 250.08 L466.15 254.1 L466.6 240.79 L467.05 241.62 L467.5 239.82 L467.95 240.79 L468.4 237.24 L468.85 243.51 L469.3 241.16 L469.75 241.05 L470.2 249.48 L470.65 253.58 L471.1 246.78 L471.55 241 L472 243.5 L472.45 243.4 L472.9 242.57 L473.35 236.75 L473.8 253.97 L474.25 256.36 L474.7 246.32 L475.15 249.1 L475.6 236.58 L476.05 246.63 L476.5 245.81 L476.95 253.84 L477.4 249.02 L477.85 254.69 L478.3 242.81 L478.75 239.25 L479.2 243.24 L479.65 247.2 L480.1 255.16 L480.55 245.29 L481 250.75 L481.45 241.79 L481.9 244.99 L482.35 248.48 L482.8 249.51 L483.25 256.94 L483.7 252.41 L484.15 250.38 L484.6 251.63 L485.05 248.16 L485.5 238.84 L485.95 230.03 L486.4 245.43 L486.85 246.14 L487.3 243.51 L487.75 239.64 L488.2 245.68 L488.65 251.28 L489.1 250.1 L489.55 242.58 L490 250.4 L490.45 248.47 L490.9 255.98 L491.35 257.67 L491.8 249.45 L492.25 249.25 L492.7 249.56 L493.15 251.78 L493.6 243.38 L494.05 247.83 L494.5 246.99 L494.95 256.78 L495.4 257.67 L495.85 255.6 L496.3 253.58 L496.75 249.57 L497.2 245.75 L497.65 247.85 L498.1 245.83 L498.55 245.03 L499 247.28 L499.45 251.67 L499.9 246.17 L500.35 242.38 L500.8 253.06 L501.25 257.67 L501.7 254.03 L502.15 254.61 L502.6 254.27 L503.05 252.3 L503.5 251.59 L503.95 233.39 L504.4 247.28 L504.85 240.7 L505.3 245.24 L505.75 240.05 L506.2 243.69 L506.65 236.6 L507.1 232.15 L507.55 237.75 L508 238.09 L508.45 251.55 L508.9 244.69 L509.35 250.96 L509.8 244.78 L510.25 247.3 L510.7 241.75 L511.15 238.87 L511.6 233.65 L512.05 241.88 L512.5 232.15 L512.95 234.37 L513.4 244.53 L513.85 242.17 L514.3 244.24 L514.75 242.35 L515.2 245.66 L515.65 245.92 L516.1 241.46 L516.55 239.45 L517 243.58 L517.45 247.91 L517.9 249.21 L518.35 231.15 L518.8 242.21 L519.25 241.93 L519.7 242.02 L520.15 248.04 L520.6 245 L521.05 248.31 L521.5 253.73 L521.95 257.67 L522.4 246.29 L522.85 254.77 L523.3 257.67 L523.75 249.8 L524.2 243.69 L524.65 247.25 L525.1 244.9 L525.55 251.95 L526 250.8 L526.45 253.48 L526.9 244.87 L527.35 236.8 L527.8 235.81 L528.25 243.33 L528.7 247.48 L529.15 243.97 L529.6 254.4 L530.05 256.98 L530.5 246.25 L530.95 249.06 L531.4 248.34 L531.85 257.67 L532.3 244.92 L532.75 252.1 L533.2 247.09 L533.65 251.39 L534.1 250.18 L534.55 248.54 L535 234.51 L535.45 246.75 L535.9 242.92 L536.35 247.61" stroke="#f89a3c" stroke-width="0.9" fill="none" stroke-dasharray="2 0.4 0.4 0.4" stroke-linejoin="round" opacity="0.88"/>
<path d="M344.2 255.8 H536.6" stroke="#a268c4" stroke-width="1.4" fill="none" opacity="0.95"/>
<path d="M340.5 193.2 V318.6" stroke="#2a2a2a" stroke-width="1.15" fill="none"/>
<path d="M336.6 193.6 H340.5" stroke="#262626" stroke-width="0.9"/>
<text x="335.5" y="195.2" font-family='"Liberation Serif", "DejaVu Serif", serif' font-size="4.7" text-anchor="end" font-weight="normal" fill="#1a1a1a" stroke="#1a1a1a" stroke-width="0.12">5</text>
<path d="M336.6 255.9 H340.5" stroke="#262626" stroke-width="0.9"/>
<text x="335.5" y="257.5" font-family='"Liberation Serif", "DejaVu Serif", serif' font-size="4.7" text-anchor="end" font-weight="normal" fill="#1a1a1a" stroke="#1a1a1a" stroke-width="0.12">0</text>
<path d="M336.6 318.2 H340.5" stroke="#262626" stroke-width="0.9"/>
<text x="335.5" y="319.8" font-family='"Liberation Serif", "DejaVu Serif", serif' font-size="4.7" text-anchor="end" font-weight="normal" fill="#1a1a1a" stroke="#1a1a1a" stroke-width="0.12">-5</text>
<path d="M338.4 206.06 H340.5" stroke="#262626" stroke-width="0.7"/>
<path d="M338.4 218.52 H340.5" stroke="#262626" stroke-width="0.7"/>
<path d="M338.4 230.98 H340.5" stroke="#262626" stroke-width="0.7"/>
<path d="M338.4 243.44 H340.5" stroke="#262626" stroke-width="0.7"/>
<path d="M338.4 268.36 H340.5" stroke="#262626" stroke-width="0.7"/>
<path d="M338.4 280.82 H340.5" stroke="#262626" stroke-width="0.7"/>
<path d="M338.4 293.28 H340.5" stroke="#262626" stroke-width="0.7"/>
<path d="M338.4 305.74 H340.5" stroke="#262626" stroke-width="0.7"/>
<path d="M344.1 323.4 H536.6" stroke="#2a2a2a" stroke-width="1.15" fill="none"/>
<path d="M368.5 323.4 V327.1" stroke="#262626" stroke-width="0.9"/>
<text x="368.5" y="332.8" font-family='"Liberation Serif", "DejaVu Serif", serif' font-size="4.9" text-anchor="middle" font-weight="normal" fill="#1a1a1a" stroke="#1a1a1a" stroke-width="0.13">25.00</text>
<path d="M441.4 323.4 V327.1" stroke="#262626" stroke-width="0.9"/>
<text x="441.4" y="332.8" font-family='"Liberation Serif", "DejaVu Serif", serif' font-size="4.9" text-anchor="middle" font-weight="normal" fill="#1a1a1a" stroke="#1a1a1a" stroke-width="0.13">100.00</text>
<path d="M514.3 323.4 V327.1" stroke="#262626" stroke-width="0.9"/>
<text x="514.3" y="332.8" font-family='"Liberation Serif", "DejaVu Serif", serif' font-size="4.9" text-anchor="middle" font-weight="normal" fill="#1a1a1a" stroke="#1a1a1a" stroke-width="0.13">175.00</text>
<path d="M404.9 323.4 V325.4" stroke="#262626" stroke-width="0.7"/>
<path d="M477.8 323.4 V325.4" stroke="#262626" stroke-width="0.7"/>
<text x="440.4" y="340.9" font-family='"Liberation Serif", "DejaVu Serif", serif' font-size="7" text-anchor="middle" font-weight="normal" fill="#1a1a1a" stroke="#1a1a1a" stroke-width="0.17">genomic location Mb</text>
<text x="428" y="187.8" font-family='"Liberation Serif", "DejaVu Serif", serif' font-size="7.97" text-anchor="middle" font-weight="normal" fill="#1a1a1a" stroke="#1a1a1a" stroke-width="0.2">chr3 032-positive AAB ABB variant count Z-score</text>
<text transform="translate(326.5 256) rotate(-90)" font-family='"Liberation Serif", "DejaVu Serif", serif' font-size="7" text-anchor="middle" fill="#1a1a1a" stroke="#1a1a1a" stroke-width="0.17">Z score</text>
<text x="525.3" y="195.7" font-family='"Liberation Serif", "DejaVu Serif", serif' font-size="6" text-anchor="end" font-weight="normal" fill="#1a1a1a" stroke="#1a1a1a" stroke-width="0.15">AAB variant count zscore</text>
<path d="M526.6 193.7 H536" stroke="#3f8ad8" stroke-width="0.7" stroke-dasharray="1.3 0.7" fill="none"/>
<text x="525.3" y="202.1" font-family='"Liberation Serif", "DejaVu Serif", serif' font-size="6" text-anchor="end" font-weight="normal" fill="#1a1a1a" stroke="#1a1a1a" stroke-width="0.15">ABB variant count zscore</text>
<path d="M526.6 200.1 H536" stroke="#f89a3c" stroke-width="0.6" stroke-dasharray="2 0.45 0.45 0.45" fill="none"/>
<text x="525.3" y="208.9" font-family='"Liberation Serif", "DejaVu Serif", serif' font-size="6" text-anchor="end" font-weight="normal" fill="#1a1a1a" stroke="#1a1a1a" stroke-width="0.15">zero</text>
<path d="M526.6 206.9 H536" stroke="#a04aa8" stroke-width="0.7" stroke-dasharray="2.5 0.6 0.6 0.6" fill="none"/>
<text x="93.8" y="376.7" font-family='"Liberation Sans", "DejaVu Sans", sans-serif' font-size="19.3" text-anchor="start" font-weight="bold" fill="#000" stroke="#000" stroke-width="0.25">E</text>
<text transform="translate(120.4 365.9) scale(1.1 1)" font-family='"Liberation Sans", "DejaVu Sans", sans-serif' font-size="10.5" fill="#111" stroke="#111" stroke-width="0.2">a.</text>
<text transform="translate(120.4 414.5) scale(1.1 1)" font-family='"Liberation Sans", "DejaVu Sans", sans-serif' font-size="10.5" fill="#111" stroke="#111" stroke-width="0.2">b.</text>
<text transform="translate(117.3 456.8) scale(1.1 1)" font-family='"Liberation Sans", "DejaVu Sans", sans-serif' font-size="10.5" fill="#111" stroke="#111" stroke-width="0.2">c.</text>
<text transform="translate(112.6 506) scale(1.1 1)" font-family='"Liberation Sans", "DejaVu Sans", sans-serif' font-size="10.5" fill="#111" stroke="#111" stroke-width="0.2">d.</text>
<path d="M242.5 350V516" stroke="#dcdff8" stroke-width="0.45"/>
<path d="M148.9 368.4H263.9M268 368.4H400.5" stroke="#5a3ef0" stroke-width="1.2" opacity="0.6" fill="none"/>
<path d="M148.9 368.36v0.68M149.2 368.02v1.31M149.5 367.71v1.8M149.8 367.46v1.3M150.1 367.29v1.29M150.4 366.89v3.02M150.7 367.71v1.09M151 367.93v1.67M151.3 367.28v1.52M151.9 368.56v0.91M152.2 367.29v2.33M152.5 367.52v1.84M152.8 368.25v0.96M153.4 367.57v1.47M154.3 368.11v0.96M154.9 367.7v1.16M155.5 367.05v2.55M155.8 366.62v2.88M156.1 367.89v0.88M156.4 366.72v3.64M156.7 368.6v0.83M157.3 367.79v0.94M157.6 367.44v1.55M157.9 367.77v1.25M158.2 367.69v0.89M158.5 367.3v1.89M158.8 367.87v0.97M159.1 367.46v1.95M159.7 366.61v4.11M160 368.22v1.57M160.3 367.39v2.38M160.6 367.52v1.44M160.9 368.29v0.97M161.5 367.93v1.23M162.1 367.96v1.39M162.4 367.43v2.22M162.7 367.81v0.89M163.3 368.15v1.01M163.9 365.95v4.9M164.2 367.08v2.04M164.5 367.63v1.65M165.1 367.03v2.55M165.4 367.57v1.57M165.7 368.07v1.38M166 367.97v1.16M166.3 366.68v3.13M166.6 367.84v1.18M166.9 367.84v0.82M167.2 367.88v1.4M167.8 367.79v0.9M168.7 367.97v1.12M169.9 367.85v1.16M170.2 368.38v0.56M170.5 367.97v1.14M171.1 367.58v1.52M171.4 367.93v0.6M171.7 367.81v1.45M172 368.32v0.91M172.3 367.77v1.65M173.5 367.95v1.5M174.1 367.2v2.83M174.4 367.44v2.18M174.7 366.56v2.95M175 367.7v1.02M175.3 368.18v0.79M175.6 367.81v0.84M176.5 367.52v2.2M177.1 367.47v1.3M177.4 367.23v1.68M177.7 366.55v4.62M178 367.25v2.5M178.3 368.07v1.13M178.6 366.37v3.31M179.2 367.99v0.97M179.5 367.46v1.03M179.8 368.05v1.08M180.1 366.73v2.12M181 367.37v2.02M181.3 367.23v2.97M182.2 367.39v1.61M183.1 368.05v0.93M183.4 366.69v3.19M183.7 367.79v2.17M184 367.79v1.76M184.3 367.46v2.36M184.6 368.59v1.02M184.9 367.62v1.11M185.2 367.49v1.07M185.5 367v2.72M185.8 367.48v0.97M186.1 367.17v1.16M186.4 366.59v4.4M186.7 367.01v3.39M187.3 367.01v2.28M188.5 367.82v2.11M189.1 367.45v1.18M189.4 367.25v2.52M189.7 367.32v2.03M190.3 367.65v1.69M191.5 367.4v1.23M191.8 367.27v1.55M192.1 366.59v4.01M192.4 368v1.16M192.7 368.06v1.23M193 367.73v1.73M193.3 367.2v2.2M193.6 367.78v1.19M194.2 367.57v1.87M194.5 367.56v1.35M194.8 368.09v1.23M195.7 367.21v1.14M196 366.12v4.9M196.3 367.55v1.48M196.9 366.35v3.83M197.5 367.62v2.57M197.8 366.29v3.78M198.1 367.21v1.52M198.4 367.77v0.99M198.7 367.03v2.77M199 367.31v1.64M199.3 366.15v4.41M199.6 367.39v1.25M199.9 366.46v3.58M200.2 367.91v1.57M200.5 367.07v2.56M200.8 367.48v2.22M201.4 368.41v1.12M201.7 366.34v3.76M202 367.6v1.17M202.3 367.22v1.61M202.6 367.57v1.47M202.9 366.75v3.55M203.2 367.29v1.46M203.5 366.46v3.63M203.8 367.3v1.75M204.4 366.99v2.6M204.7 368.22v1.31M205 368.03v1M205.3 367.5v1.57M205.6 366.95v1.78M206.2 367.58v0.91M206.8 366.95v2.7M207.1 367.79v1.53M207.4 367.86v2.11M207.7 367.95v1.68M209.2 367.21v1.5M209.5 367.46v2.14M209.8 367.46v1.54M210.1 367.65v0.88M210.4 367.37v2.39M210.7 368.18v0.96M211 368.35v0.68M211.3 367.75v1.15M211.6 367.83v1.42M212.2 367.55v1.51M212.5 367.68v1.37M213.1 368.07v1.26M213.4 367.33v1.9M213.7 368.06v1.13M214 368.21v1.05M214.3 366.91v1.65M214.9 367.46v1.97M215.5 368.08v0.93M216.1 368.24v0.79M216.7 367.91v1.1M217 367.98v0.88M217.6 367.62v1.17M217.9 367.85v1.05M218.2 367.18v1.65M218.5 367.59v1.39M218.8 367.73v0.56M219.1 368.04v0.96M219.4 367.22v2.16M219.7 366.04v5.09M220 367.86v1.15M220.9 367.53v1.19M221.2 367.96v1.07M222.7 366.64v4.22M223 367.2v1.7M223.3 366.78v2.56M223.6 366.78v2.7M224.2 367.79v1.48M224.5 367.53v1.21M224.8 366.26v3.84M225.1 366.57v3.18M225.7 367.95v1.12M226 365.7v5.27M227.5 367.87v1.49M227.8 367.44v1.89M228.1 367.48v1.62M228.7 367.24v2.19M229 365.68v5.3M229.3 367.25v2.07M229.6 367.93v1.63M229.9 367.51v0.86M230.5 367.68v0.88M230.8 368.09v0.81M231.1 366.19v3.39M231.4 367.83v0.85M232 367.13v2.97M232.3 367.2v1.54M232.9 367.76v1.73M233.8 367.74v2.56M234.1 367.91v0.98M235 368v1.55M235.3 367.14v2.54M235.6 367.74v1.05M236.2 367.79v1.08M236.5 367.5v1.71M236.8 367.93v0.82M237.1 367.92v0.62M237.4 367.97v0.77M237.7 368.07v0.88M238.3 368.03v1.43M238.6 368.04v0.65M238.9 368.1v1.07M239.2 367.82v0.89M239.5 367.32v1.21M240.1 367.97v0.76M240.7 368.18v0.63M241 367.68v1.07M241.3 368.08v0.62M241.6 367.77v1.34M241.9 367.99v0.72M242.2 367.84v1.72M242.5 367.67v1M242.8 367.56v2.17M243.1 368.06v1.13M243.4 367.69v1.22M243.7 367.28v1.98M244 366.74v3.16M244.3 367.74v1.19M244.9 367.34v1.93M245.2 366.79v2.48M245.5 367.69v1.49M245.8 367.43v1.15M246.1 367.72v1.66M246.4 367.01v2.56M246.7 367.56v2.19M247 367.33v1.63M247.6 366.6v3.57M247.9 366.03v4.68M248.2 368.1v1.12M248.8 368.06v1.99M249.1 366.49v3.28M249.7 368.09v1.31M250 367.38v1.88M250.3 367.5v1.27M250.6 366.74v3.26M250.9 367.97v0.97M251.2 366.88v2.4M251.5 367.78v0.9M251.8 367.28v1.58M252.1 367.83v1.2M252.4 367.32v2.23M252.7 367.8v1.44M253 366.99v2.23M253.6 368.04v1.51M254.5 367.45v1.5M254.8 367.75v1.15M255.1 366.54v3M255.4 367.61v1.38M255.7 368.1v0.96M256 367.59v1.01M256.3 368.1v1.55M256.6 366.15v3.67M256.9 367.12v2.83M257.2 367.89v1.96M257.8 367.48v1.01M258.1 367.85v1.54M258.7 368.01v1.26M259 367.59v2.45M259.6 367.74v1.66M259.9 366.4v4.73M260.2 366.32v4.77M260.5 367.77v0.97M260.8 367.86v0.84M261.1 367.43v1.96M261.4 366.41v3.09M261.7 367.52v1.56M262 368.01v1.16M262.3 367.5v1.46M262.6 367.79v1.89M263.2 367.72v0.98M263.5 367.7v1.38M268.3 367.21v2M269.2 367.44v2.07M269.5 366.93v2.58M269.8 366.63v1.69M270.1 368.23v1.29M270.4 367.46v1.99M270.7 367.36v1.05M271 367.31v1.82M271.3 366.5v3.2M271.6 367.46v2.23M271.9 366.49v3.97M272.5 367.51v2.07M273.1 367.05v3.4M273.4 367.68v2.47M274 366.78v2.47M274.3 367.97v1.13M274.6 367.93v1.01M274.9 368.02v0.92M275.2 367v2.81M275.8 367.82v0.86M276.4 367.16v2.34M276.7 366.61v2.93M277 367.5v1.48M277.3 367.61v1.42M277.9 367.12v2.07M278.2 367.53v1.7M278.5 367.26v2.74M278.8 366.76v3.11M279.1 367.39v2.13M279.4 367.94v1.23M279.7 367.73v0.84M280.3 367.43v1.56M280.6 366.54v2.48M280.9 367.18v2.65M281.2 367.57v1.79M281.5 368.14v1.53M281.8 367.52v1.67M282.1 367.88v1.42M282.4 368.15v0.86M282.7 367.9v1.27M283 367.61v1.75M283.6 366.53v2.78M283.9 367.09v1.97M284.2 368.43v0.9M284.5 367.75v1.19M285.1 367.53v1.01M285.4 367.67v0.98M286 366.98v2.44M286.3 368.19v0.97M287.2 368.06v0.89M287.5 367.66v1.54M288.1 368.15v1.3M288.7 368.42v0.8M289 367.85v1.11M289.3 368.15v0.79M289.9 366.92v2.4M290.2 367.74v1M290.5 367.28v1.47M290.8 367.2v1.62M291.1 367.97v1.45M291.4 367.83v0.89M292 367.61v1.64M292.3 368.25v1.48M292.6 367.77v1.14M293.2 367.04v2.12M293.5 366.95v2.59M293.8 366.65v4.14M294.4 367.96v1.05M294.7 367.69v1.12M295 367.43v2.39M295.3 366.99v3.21M295.6 367.15v2.07M295.9 367.23v2.37M296.2 367.9v1.26M296.5 367.63v1.04M296.8 367.6v1.94M297.1 367.49v2.04M297.4 367.97v1.19M297.7 367.34v1.51M298 367.6v1.52M298.3 367.52v1.6M298.6 368.56v0.87M298.9 367.15v1.38M299.8 368.09v1.31M300.1 367.91v0.75M300.4 367.71v1.26M301 367.25v2.01M301.9 367.97v1.05M302.2 367.48v2.01M302.5 368.1v1.8M303.1 367.83v1.07M303.7 368.23v0.94M304 367.52v1.61M304.3 368.01v1.48M304.6 367.69v1.84M304.9 367.18v1.8M306.1 367.96v0.88M306.4 367.87v1.17M306.7 367.41v2.04M307 367.04v2.23M307.3 367.75v1.48M307.9 367.88v2.31M308.2 367.55v1.79M309.1 367.61v1.32M309.4 367.06v2.37M309.7 366.47v3.36M310 367.93v1.18M310.9 367.05v2.84M311.2 367.74v1.98M311.5 367.28v1.37M311.8 367.66v2.25M312.1 368.09v1.02M312.4 367.79v1.49M312.7 367.11v1.65M313 367.82v1.04M314.2 368.13v0.98M314.5 368.58v1.05M314.8 366.19v3.94M315.1 368.32v0.76M315.7 367.11v3.26M316 367.62v1.23M316.3 367.79v1.28M316.6 367.06v2.24M317.2 368.08v1.28M317.5 367.73v1.36M318.1 367.54v2.75M318.4 367.51v2.15M318.7 367.41v2.38M319 367.52v1.39M319.3 368.16v1.33M319.6 367.47v1.97M319.9 367.47v2M320.5 367.73v0.83M320.8 368.19v0.8M321.1 367.7v2.24M321.4 367.69v1.06M321.7 368.11v0.92M322 366.72v2.08M322.3 368v0.75M322.6 367.31v1.36M322.9 367.35v1.35M323.2 368.2v0.67M323.8 367.22v1.96M324.1 367.5v2.31M324.4 367.32v1.88M324.7 368.18v0.94M325 367.74v1.08M325.3 367.92v1.25M325.6 367.72v1.44M326.5 367.82v1M327.1 367.71v0.93M327.4 367.79v0.9M327.7 366.8v3.08M328 367.52v1.33M328.6 367.63v1.56M328.9 368.05v1.84M329.5 366.75v2.24M330.1 367.9v1.37M330.4 367.65v1.91M330.7 367.9v2.01M331 367.74v2.03M331.3 366.84v2.99M331.6 367.22v3.25M332.2 367.25v1.95M332.5 366.58v3.93M332.8 367.62v1.92M333.1 367.37v1.51M333.4 367.67v1.58M334 367.89v1.64M334.3 367.43v2.28M334.6 366.47v4.23M335.2 367.21v2.11M335.5 367.33v2.55M335.8 366.89v2.13M336.1 368.09v0.86M336.4 367.72v1.36M337 367.95v0.74M337.6 367.39v2.27M337.9 367.79v2.07M338.2 367.52v1.14M338.8 367.27v1.94M339.1 367.93v0.84M339.4 367.32v1.35M339.7 367.58v1.2M340.3 367.78v0.6M340.6 368.17v0.95M340.9 368.12v0.87M341.5 367.36v2.04M341.8 367.88v1.25M342.1 366.43v2.83M342.7 368.5v0.8M343.3 367.77v1.14M343.9 368.06v0.9M344.2 367.48v2.14M344.8 367.73v1.98M345.7 367.81v1.56M346 367.26v2.32M346.3 368.37v1M346.6 367.35v1.04M346.9 367.64v2.45M347.2 367.26v1.4M348.4 367.06v2.43M348.7 367.24v2.57M349.3 367.92v0.95M349.6 367.65v1.03M350.2 368.05v1.14M350.5 367.75v0.9M350.8 367.02v2.42M351.1 368.04v1.81M351.7 367.28v1.54M352 367.46v2M352.3 367.71v2.02M352.9 366.51v2.73M353.2 367.1v2.54M353.5 367.04v2.61M354.1 367.82v0.89M354.7 367.13v1.83M355.3 366.93v2.66M355.6 368.31v0.85M355.9 367.13v2.47M356.5 366.59v4.63M356.8 366.29v3.43M357.1 367.75v1.23M357.4 367.09v2.68M357.7 368.13v1.25M358.3 367.11v3.28M359.8 367.01v2M360.1 368.57v1.62M360.4 367.24v1.65M360.7 368.2v1.22M361 366.51v2.7M361.3 368.03v1.56M361.6 367.58v1.8M361.9 367.99v1.03M362.2 367.75v0.92M362.5 368.12v1.27M363.1 367.86v0.97M363.4 367.85v1.44M363.7 367.31v1.16M364 367.7v2.19M364.3 366.35v2.85M364.6 368.18v0.61M364.9 367.76v1.07M365.2 368.15v1.22M365.5 368.97v0.96M366.4 368.25v0.69M367 367.51v0.91M367.3 367.64v1.23M367.6 367.6v2.17M367.9 367.94v1.01M368.2 368.03v0.66M368.5 367.8v0.95M368.8 367.55v1.2M369.1 368.36v0.7M369.4 367.78v1.01M369.7 367.81v1.51M370 367.64v1.19M370.3 368.04v1.59M370.6 368.39v0.63M371.2 368.18v0.55M371.8 366.93v1.71M372.7 367.87v1.29M373 367.87v1.64M373.3 367.32v1.2M373.6 368.14v0.66M374.2 367.57v0.62M374.5 368.06v0.82M375.4 367.83v1.02M376 367.67v1.46M376.3 367.85v0.93M376.9 367.5v1.34M377.2 366.96v2.26M377.8 367.65v0.96M378.7 367.84v0.77M379 367.33v1.83M379.3 368.01v0.8M379.6 367.45v0.94M379.9 367.11v1.9M380.2 368.71v0.78M380.5 367.31v1.17M380.8 368.05v1.06M381.7 367.96v1.13M382 366.9v2.91M382.6 365.85v5.03M383.2 367.65v1.51M383.8 367.16v2.26M384.1 366.99v3.13M384.4 366.38v4.01M385 368.14v0.81M385.3 367.74v1.39M385.9 367.44v1.67M386.2 367.82v1.3M386.5 367.94v0.87M386.8 368.18v0.69M387.1 367.49v1.58M387.7 367.89v1.5M388 367.67v1.41M388.3 367.11v2.37M388.6 368.16v0.77M390.1 367.47v0.98M390.4 367.93v0.7M391 367.78v1.45M391.3 367.7v0.86M391.6 367.18v2.1M391.9 368.12v0.83M392.2 367.59v0.67M392.5 367.94v1.48M392.8 367.82v1.04M393.1 367.53v1.33M393.4 368.17v1.28M393.7 367.09v2.26M394 368.49v0.94M394.6 367.56v1.92M394.9 367.85v1.34M395.2 368.09v1.11M395.5 367.18v2.09M395.8 367.6v0.96M396.4 367.31v1.81M397 367.56v1.8M397.3 367.44v1.03M397.9 367.64v1.67M398.5 367.39v1.71M398.8 367.49v1.68M399.7 367.84v2.03M400.3 367.03v3.63" stroke="#4626ee" stroke-width="0.36" opacity="0.8" fill="none"/>
<rect x="148.9" y="392.1" width="115" height="6.9" rx="1.3" fill="#8b0a8b"/>
<rect x="148.9" y="405.6" width="115" height="21.5" fill="#6535fd"/>
<rect x="268" y="392.1" width="132.5" height="6.9" rx="1.3" fill="#8b0a8b"/>
<rect x="268" y="405.6" width="132.5" height="21.5" fill="#6535fd"/>
<path d="M170.5 405.6V427.1" stroke="#b8a4ff" stroke-width="0.4"/>
<path d="M200.3 405.6V427.1" stroke="#b8a4ff" stroke-width="0.4"/>
<path d="M208.2 405.6V427.1" stroke="#b8a4ff" stroke-width="0.4"/>
<path d="M212 405.6V427.1" stroke="#b8a4ff" stroke-width="0.4"/>
<path d="M215.6 405.6V427.1" stroke="#b8a4ff" stroke-width="0.4"/>
<path d="M233.4 405.6V427.1" stroke="#b8a4ff" stroke-width="0.4"/>
<path d="M245.6 405.6V427.1" stroke="#b8a4ff" stroke-width="0.4"/>
<path d="M277.6 405.6V427.1" stroke="#b8a4ff" stroke-width="0.4"/>
<path d="M293.4 405.6V427.1" stroke="#b8a4ff" stroke-width="0.4"/>
<path d="M302.3 405.6V427.1" stroke="#b8a4ff" stroke-width="0.4"/>
<path d="M314.5 405.6V427.1" stroke="#b8a4ff" stroke-width="0.4"/>
<path d="M322.7 405.6V427.1" stroke="#b8a4ff" stroke-width="0.4"/>
<path d="M355.8 405.6V427.1" stroke="#b8a4ff" stroke-width="0.4"/>
<path d="M388.8 405.6V427.1" stroke="#b8a4ff" stroke-width="0.4"/>
<path d="M396.5 405.6V427.1" stroke="#b8a4ff" stroke-width="0.4"/>
<path d="M148.9 439.4H263.9M268 439.4H400.5" stroke="#5a3ef0" stroke-width="1.52" opacity="0.6" fill="none"/>
<path d="M148.9 438.02v2.82M149.2 438.39v2.22M149.5 438.11v1.7M149.8 438.63v1.73M150.1 437.37v3.2M150.4 438.2v1.72M151 438.61v1.07M151.9 439.16v1.24M152.5 438.48v2.37M152.8 438.85v1.11M153.1 439.03v1.33M153.4 438.35v2.08M153.7 438.78v0.92M154 438.06v1.19M154.3 438.59v1.59M154.6 438.6v2.38M154.9 437.38v3.09M155.2 438.59v1.5M155.5 439.78v0.97M156.1 438.19v2.56M156.4 438.66v1.27M156.7 438.43v1.75M157 438.83v1.73M157.9 437.47v2.86M158.2 438.24v2.11M158.5 439.45v1.19M158.8 439.08v1M159.1 438.45v1.02M159.4 438.4v1.56M159.7 437.43v4.03M160 438.51v2.22M160.3 437.32v3.53M160.6 437.71v2.55M160.9 438.66v2.81M161.2 438.46v2.14M161.5 437.67v2.28M161.8 438.44v1.43M162.4 438.65v0.98M162.7 439.15v1.06M163 437.55v2.03M163.3 437.85v3.61M163.6 438.85v1.44M163.9 438.28v3.04M164.2 438.4v1.64M164.5 438.62v1.25M164.8 438.16v2.01M165.1 438.09v2.81M165.4 437.49v3.51M166 438.46v2.14M166.3 438.45v1.45M166.6 438.63v0.93M166.9 438.82v1.18M167.2 439.08v1.24M167.5 438.76v1.7M167.8 438.64v1.01M168.1 439.28v1.17M168.4 437.67v2.86M168.7 439.02v1.29M169 438.75v1.27M169.3 439.09v1.52M169.9 438.83v1.53M170.2 438.42v1.47M170.5 438.62v1.05M170.8 437.79v2.18M171.1 436.98v3.38M171.4 438.32v1.32M171.7 438.74v1.21M172 438.36v1.61M172.3 438.63v1.26M172.9 439.35v0.83M173.5 438.59v0.77M173.8 439.01v1.09M174.1 437.2v3.63M175 439.08v1.19M175.6 437.46v1.86M176.2 438.88v1.11M176.5 438.66v1.14M176.8 438.52v2.22M177.1 438.87v1.1M177.4 438.55v1.36M178.6 438.53v1.86M178.9 438.59v2.1M179.2 438.82v1.15M179.5 438.97v1.57M179.8 438.37v1.94M180.1 438.6v1.29M180.7 438.39v2.15M181 439.12v0.82M181.6 438.76v0.87M181.9 438.77v1.44M182.2 438.34v1.94M182.5 437.86v2.53M182.8 438.64v1.45M183.1 437.93v2.85M183.4 439.09v0.83M183.7 438.98v0.71M184.3 438.58v2.6M184.6 438.47v1.87M185.2 438.93v0.75M185.8 439.28v0.92M186.1 439.49v1.1M186.7 438.75v1.12M187 438.51v1.5M187.3 438.57v0.87M187.6 438.72v1.69M187.9 438.28v1.83M188.2 438.75v1.36M188.5 438.86v1.36M188.8 438.17v1.69M189.1 438.37v1.43M189.4 438.47v2.05M189.7 438.85v2.05M190 438.48v1.73M190.6 438.5v3.04M190.9 437.94v2.4M191.2 439.14v1.24M191.5 439.05v1.19M191.8 438.38v2.23M192.4 438.63v1.2M193 438.13v2.35M193.6 438.81v1.58M193.9 438.26v1.28M194.2 439.02v1.72M195.4 437.24v3.92M196 438.7v1.78M196.3 437.01v5.48M196.6 438.59v1.11M197.2 437.89v2.67M198.1 438.02v2.93M198.4 438.5v1.19M198.7 438.92v1.22M199.6 438.26v1.31M199.9 438.32v1.87M200.2 438.48v1.35M200.5 439.02v1.43M201.4 438.97v0.93M202.3 438.52v0.94M202.6 438.34v1.91M202.9 438.93v1.34M203.8 439.45v0.92M204.1 438.47v2.01M204.4 437.45v4.16M204.7 438.13v1.86M205.3 437.02v5.1M205.6 438.54v1.55M205.9 437.77v2.84M206.5 437.53v3.1M207.1 436.36v4.82M207.7 439.03v2.12M208 438.3v1.29M208.3 438.38v1.32M208.6 438.34v1.96M208.9 438.18v2.35M209.2 438.17v1.25M209.5 438.3v2.25M209.8 438.36v1.71M210.4 436.82v4.24M210.7 437.03v3.57M211 438.12v1.59M211.3 438.22v2.33M212.2 437.84v2.69M212.5 438.42v2.39M212.8 438.49v2.41M213.1 437.21v3.83M213.4 438.09v3.18M214 437.72v2.93M214.3 438.15v3.18M215.2 438.04v1.68M215.8 438.65v2.25M216.1 437.35v3.94M216.4 437.73v3.31M216.7 438.7v1.57M217 436.53v5.42M217.3 437.42v3.75M217.6 438.03v2.16M218.2 438.58v2.1M218.5 436.91v5.15M218.8 437.61v3.39M219.1 437.19v4.01M219.7 437.26v3.99M220.6 437.2v4.02M220.9 438.33v2.99M221.2 438.54v1.57M221.5 438.2v2.56M222.1 438.77v1.67M222.4 438.7v1.73M222.7 438.77v0.94M223 438.48v2.23M223.3 438.59v1.07M223.9 439.19v1.65M224.2 438.51v1.14M224.5 437.6v2.96M224.8 438.26v1.45M225.4 438.04v2.17M225.7 437.3v2.29M226 439.01v1M226.3 439.15v1.77M226.6 439.3v1.51M226.9 438.7v0.94M227.8 438.37v1.76M228.1 439.22v0.86M229.3 437.97v2.59M229.6 438.97v1.4M229.9 438.01v3.34M231.1 438.53v1.92M231.4 438.36v2.16M232.3 438.92v1.48M232.6 438.51v1.39M232.9 437.46v2.62M233.5 436.65v5.5M233.8 437.68v2.43M234.1 439v1.02M234.7 439.01v1.25M235 437.68v2.72M235.3 436.22v4.85M235.9 437.46v4.41M236.2 437.61v2.6M236.5 437.76v3.89M237.1 439.13v1.08M237.7 436.49v4.51M238.6 438v1.97M238.9 435.92v5.99M239.2 439.1v1.11M239.5 438.94v1.7M239.8 438.71v1.58M240.1 437.74v1.92M240.4 437.98v2.58M241 439.02v2.13M241.3 438.89v1.9M241.6 436.57v4.21M241.9 437.91v1.64M242.2 438.76v1.15M243.1 437.66v2.42M243.4 438.43v1.08M243.7 438.4v1.89M244 437.3v4.34M244.3 438.21v1.9M244.6 436.63v5.13M244.9 439.15v1.43M245.2 437.47v2.98M245.5 437.57v2.27M245.8 438.05v1.12M246.1 439.37v1.04M246.7 438.92v1.35M247 439.18v0.92M247.3 439.32v0.78M248.2 438.87v0.69M248.8 438.57v1.74M249.1 438.95v1.59M249.4 439.27v0.72M249.7 438.69v1.42M250 439.6v0.84M250.3 438.98v1.39M250.9 438.59v1.3M251.2 439.58v0.82M251.5 439.42v0.97M251.8 439.32v0.65M252.1 438.96v1.78M252.4 438.81v1.07M252.7 438.31v2.32M253 437.1v4.09M253.3 438.17v1.62M253.6 437.86v2.56M253.9 438.79v1.27M254.2 438.94v2.05M254.5 437.4v3.52M254.8 438.81v1.42M255.1 437.34v3.26M255.4 439.46v1.66M256 438.89v1.71M256.3 438.1v1.73M256.6 438.15v2.4M256.9 437.3v3.11M257.2 437.79v3.72M257.8 436.98v3.42M258.1 437.58v2.98M258.4 437.38v3.8M259 437.8v2.42M259.3 438.78v1.17M259.6 437.14v5.24M259.9 436.03v7.7M260.8 438.74v2.1M261.1 437.72v2.66M261.7 437.51v3.99M262.3 437.67v2.96M262.9 438.45v2.92M263.2 438.53v1.82M263.8 438.08v1.67M268.3 437.89v2.87M268.6 438.58v1.87M268.9 436.37v4.71M269.5 438.6v1.58M269.8 438.53v1.2M270.1 438.53v1.36M270.4 438.82v2.5M270.7 436.8v4.7M271 437.98v1.54M271.9 438.37v1.3M272.2 438.63v1.42M272.8 438.61v1.63M273.1 437.85v2.94M273.4 437.75v3.61M273.7 438.58v1.16M274 438.1v2.98M274.3 438.85v1.24M274.6 437.39v3.24M274.9 437.29v3.41M275.2 438.92v1.43M275.5 438.7v1.1M275.8 438.36v2.41M276.1 437.32v3.9M276.7 438.8v1.07M277 438.68v1.63M277.6 437.77v4.3M277.9 437.75v4.7M279.1 438.82v1.19M279.4 438.69v1.34M280 438.66v1.79M280.3 438.19v1.16M280.6 439.2v0.73M280.9 438.48v2.78M281.2 439.83v0.66M282.1 438.48v1.36M282.7 439.24v0.99M283 439.41v0.8M283.3 438.36v1.23M283.6 438.4v1.13M283.9 437.78v2.47M284.2 438.25v1.61M284.8 439.19v0.93M285.1 438.67v1.7M285.4 438.98v0.71M286 438.05v1.91M286.3 438.5v1.35M286.9 438.48v0.69M287.2 438v1.92M287.5 437.8v1.46M287.8 438.32v1.24M288.1 438.75v1.14M288.4 439.35v0.65M288.7 438.26v1.94M289 438.89v0.85M289.3 438.15v3.49M289.6 439.3v1.44M289.9 438.59v2.64M290.2 438.96v1.51M290.8 438.19v0.88M291.4 437.36v4.29M292 438.01v2.97M292.3 437.83v3.06M292.6 439.22v2.41M293.5 439.3v1.85M293.8 438.56v1.74M294.1 438.12v2.07M294.4 438.33v2.67M295.3 436.64v5.28M295.6 438.32v1.45M295.9 438.71v2.42M296.2 437.88v3M296.8 437.74v2.86M297.4 438.27v2.38M297.7 437.97v3.11M298 439.16v1.25M298.3 438.24v1.26M298.6 437.48v2.82M298.9 438.84v1.54M299.8 438.7v1.02M300.1 438.46v2.29M300.4 438.64v1.51M301.6 438.73v1.4M301.9 438.03v2.35M303.1 438.69v0.84M303.7 439.01v0.8M304 439.28v0.69M304.3 436.99v4.13M304.9 438.78v1.59M305.2 436.96v5.17M306.1 437.25v4.87M307 438.34v1.71M307.3 436.96v4.46M307.6 438.31v1.26M307.9 437.62v3.77M308.2 437.69v3.08M308.5 438.7v1.19M308.8 438.64v2.02M309.4 438.61v2.11M310 439.43v1.33M310.3 437.88v3.49M310.6 438.45v2.7M310.9 437.54v4.14M311.5 437.91v2.44M311.8 438.74v1.07M312.4 438.64v1.37M313 438.33v1.51M313.3 438.66v1.38M313.6 438.19v2.65M313.9 438.17v1.99M314.2 439.31v0.85M314.5 439.35v1.31M314.8 438.92v0.94M315.1 438.82v1.37M315.4 438.68v1.28M316 438.56v1.61M316.3 438.85v2.03M316.6 437.57v3.71M316.9 438.31v1.29M317.2 438.01v1.66M317.5 439.07v1.01M317.8 438.5v1.68M318.1 438.67v1.56M318.7 438.11v1.54M319 438.31v2.67M319.3 437.98v3.86M320.8 439.31v1.26M321.1 439.12v1.24M321.4 438.43v2.02M322 439.46v1.25M322.3 438.02v3.35M322.6 438.86v2.36M322.9 437.49v2.8M323.5 438.68v2.18M323.8 438.55v1.75M324.1 438.88v1.37M324.4 437.32v3.46M325 438.69v1.68M325.3 438.28v1.51M326.2 437.91v1.87M326.5 438.51v1.2M326.8 439.19v1.25M327.1 438.68v0.93M327.7 439.29v0.97M328 438.63v1.02M328.3 438.32v0.86M328.6 439.19v1.31M328.9 438.6v1.05M329.2 438.42v1.08M329.5 439.06v0.72M330.1 439.05v0.79M330.4 439.03v1.13M330.7 439.05v1.16M331 438.21v1.82M331.3 438.72v1.19M331.6 438.48v0.99M331.9 438.71v1.11M332.2 439.03v0.7M332.5 438.94v1.55M333.1 438.94v1.27M333.4 438.25v1.36M333.7 438.87v1.25M334 438.03v3.24M334.3 437.88v3.16M335.2 438.93v1.24M335.8 438.05v1.98M336.1 437.5v4.23M336.4 438.01v3.3M336.7 438.34v1.58M337 438.57v1.07M337.3 438.66v1.15M337.9 437.63v3.28M338.2 438.31v2.78M338.5 438.38v1.71M338.8 439.62v0.77M339.1 438.56v1.35M339.4 437.38v3.3M339.7 439.17v0.91M340.3 438.01v1.73M340.6 438.25v1.63M341.2 439.35v0.75M341.5 438.66v1.1M341.8 438.94v0.76M342.1 438.82v0.91M342.7 438.81v0.79M343 438.26v2.01M343.3 439.7v0.91M344.2 438.03v2M345.1 438.13v2.29M346 438.04v2.44M346.6 438.11v1.12M346.9 438.84v1.27M347.2 436.7v5.77M347.5 438.49v1.68M347.8 438.46v1.14M348.1 438.35v2.17M348.4 437.64v3.66M348.7 437.12v4.91M349 439.16v1.13M349.3 438.02v2.17M349.9 438.62v1.68M350.5 438.82v2.16M350.8 438.02v2.76M351.4 436.91v5.63M352 439.1v1.35M352.3 437.66v2.45M352.9 438.53v1.34M353.2 438.17v1.48M354.4 437.8v2.7M355.3 437.27v3.28M355.6 438.58v1.62M355.9 438.17v1.51M356.2 439.01v1.09M356.5 438.51v2.59M356.8 437.23v3.82M357.1 438v3.59M357.4 438.09v1.37M357.7 438.96v0.65M358 438.2v2.93M358.3 439.61v0.91M358.9 439.24v0.85M359.2 438.84v0.8M359.5 438.5v1.57M359.8 439.12v1.08M360.1 438.97v0.69M360.4 438.62v1.23M360.7 438.68v0.88M361 438.76v1.43M361.3 438.71v1.16M361.6 439.02v0.96M361.9 438.67v1.25M362.5 439.22v1.06M363.1 439.22v0.69M363.4 438.58v0.75M363.7 439.03v0.74M364 436.35v5.83M364.3 438.22v2.24M364.6 438.64v2.19M364.9 437.47v3.23M365.2 439.13v1.55M365.5 438.68v2.43M365.8 439v1.21M366.1 439.24v1.96M366.4 439.16v1.41M367.6 438.84v2.32M368.2 437.94v3.26M368.5 437.29v3.5M368.8 438.19v2.57M369.1 437.02v4.37M369.4 438.12v1.64M370 438.47v2.17M370.3 438.24v1.45M370.6 439.12v1.44M370.9 438.54v2.04M371.2 437.6v1.38M371.5 437.67v2.82M371.8 435.93v5.76M372.1 438.58v1.21M372.4 437.08v3.98M372.7 438.33v1.24M373 438.38v3.34M373.6 436.85v4.95M373.9 438.84v1.47M374.2 437.4v3.52M374.5 439.21v1.31M374.8 438.07v1.53M375.1 437.56v4.71M375.4 438.38v3.02M375.7 437.13v3.94M376 439.1v1.24M376.3 437.82v4.95M376.9 437.39v3.3M377.2 438.5v1.97M377.8 437.6v3.38M378.4 438.88v1.55M378.7 438.22v2.37M379 438.24v2.37M379.3 438.09v2.86M379.6 438.26v1.99M380.2 438.32v2.76M380.5 438.15v2.48M380.8 438.54v1.21M381.7 438.16v2.41M382 438.59v1.78M382.3 437.42v3.85M382.9 438.47v1.62M383.2 437.83v2.01M383.5 438.09v2.6M383.8 438.72v1.38M384.1 438.51v1.72M384.4 438.1v1.98M384.7 439.32v0.74M385 438.57v2.01M385.3 438.46v1.68M385.9 438.87v2.23M386.2 438.98v1.14M386.5 439.24v1.26M386.8 439.33v1.58M387.1 438.97v1.17M387.7 437.7v3.7M388 437.87v2.73M388.6 438.61v1.54M388.9 438.54v1.64M389.2 438.78v1.08M389.5 438.09v2.01M390.7 437.78v2.58M391 437.93v2.78M391.3 438.68v1.1M391.6 439.41v1.2M391.9 438.43v1.66M392.2 437.09v3.8M392.5 438.82v0.99M392.8 439.05v1.31M393.1 439.19v0.97M393.4 438.78v2.48M393.7 438.4v1.84M394 438.76v1.57M394.3 438.71v1.32M395.2 438.55v2.01M395.5 437.93v1.68M395.8 437.85v1.31M396.1 437.86v3.28M396.4 439.2v1.21M396.7 438.27v2.11M397 439.37v1.69M397.3 437.41v2.65M397.6 437.98v2.25M398.2 439.31v1.26M398.5 437.62v2.8M398.8 437.37v3.03M399.1 438.51v0.88M399.7 438.59v1.2M400 438.93v1.53" stroke="#4626ee" stroke-width="0.36" opacity="0.85" fill="none"/>
<path d="M148.9 453.4H263.9M268 453.4H400.5" stroke="#5a3ef0" stroke-width="1.52" opacity="0.6" fill="none"/>
<path d="M148.9 452.22v1.36M149.2 452.54v1.45M149.5 452.22v1.32M149.8 451.67v3.39M150.1 451.99v2.74M150.4 452.75v1.66M151 452.08v2.44M151.3 452.27v2.27M151.9 451.97v2.94M153.7 451.89v1.37M154 451.84v2.23M154.3 452.38v1.93M154.9 451.79v2.56M155.5 452.19v1.76M155.8 452.82v1.53M156.7 452.16v1.93M157.9 452.72v1.2M158.8 452.44v1.36M159.4 452.29v2.72M159.7 452.86v0.91M160 452.15v2.7M160.6 452.63v1.53M160.9 452.51v2.48M161.2 452.97v2.07M161.5 451.06v4.18M161.8 452.8v1.03M162.1 452.73v1.69M162.4 452.57v1.16M163 452.15v2.89M163.6 452.44v2.27M163.9 452.92v1.47M164.2 451.88v1.92M164.5 453.23v1.34M164.8 452.18v2.18M165.1 452.7v0.89M165.4 451.72v2.56M165.7 452.29v0.9M166.3 451.92v4.12M166.6 451.8v2.3M166.9 452.63v1.43M167.2 452.89v0.9M167.5 451.09v3.86M167.8 452.5v2.69M168.4 452.31v2.32M168.7 452.66v1.15M169 452.61v2.34M169.6 452.47v1.78M169.9 452.58v2.69M170.5 453v1.22M170.8 453.23v1.15M171.1 452.46v1.18M171.4 452.77v1.7M171.7 452.9v0.96M172.3 453.04v1.98M172.6 452.15v1.51M172.9 453.32v0.82M173.5 453.24v0.66M173.8 452.86v0.95M174.1 453.26v0.69M174.7 452.36v1.34M175 451.86v1.87M175.3 452.8v0.91M175.6 452.81v0.72M175.9 452.51v1.25M176.5 452.88v1.54M176.8 453.11v0.81M177.1 452.05v2.51M178.3 452.42v1.24M178.6 452.41v2.22M178.9 452.78v1.59M179.2 452.14v2.1M179.5 451.66v3.57M180.4 450.29v6.76M180.7 452.02v3.12M181 451.8v3.27M181.3 450v6.62M181.6 452.48v2.5M181.9 451.66v2.73M182.2 452.29v1.76M183.1 451.29v4.28M183.4 450.86v6.15M184 451.31v4.26M184.3 451.13v3.91M184.6 452.39v1.59M184.9 451.74v3.78M185.5 451.81v2.91M185.8 451.95v3.52M186.1 452.56v1.66M186.7 453v1.25M187 451.93v2.48M187.3 452.15v2.22M187.6 452.02v2.16M187.9 451.86v4.21M188.5 451.71v2.97M189.4 451.4v3.3M189.7 452.29v2.68M190 451.5v5.06M190.3 452.21v3.36M190.9 452.29v2.28M191.2 451.41v3.38M191.5 453v2.17M191.8 452.43v2.59M192.1 451.17v4.23M192.7 450.88v4.39M193 452.29v1.49M193.3 453.12v1.22M193.9 452.53v1.32M194.2 451.3v3.98M194.8 452.44v1.65M195.1 450.69v4.58M195.4 453.33v0.9M195.7 452.42v1.06M196.6 452.34v2.6M196.9 453.1v1.95M197.2 452.53v1.66M197.5 452.87v0.67M197.8 452.84v1.68M198.1 452.94v0.93M198.4 452.92v0.93M199 452.48v1.18M199.3 452.7v1.58M199.6 452.65v1.51M199.9 453.52v0.84M200.5 452.02v2.24M200.8 452.38v1.35M201.1 453.01v0.85M201.4 452.24v2.14M201.7 453.19v1.27M202 452.55v1.08M202.6 453.24v1.4M202.9 453.28v1.12M203.2 451.38v2.89M203.8 452.57v1.96M204.4 451.88v2.64M204.7 452.34v1.85M205 452.33v2.92M205.3 452.02v1.58M205.6 452.56v1.6M205.9 452.58v2.72M206.2 453.16v0.78M206.5 451.56v2.84M206.8 452.72v1.32M207.1 452.67v1.46M207.4 452.06v1.67M207.7 451.47v1.77M208.9 452.45v1.33M209.2 452.24v1.17M209.5 452.93v2.05M210.1 452.93v0.79M210.4 451.97v3.08M211.9 451.88v1.69M212.5 452.48v2.31M212.8 452.75v1.29M213.4 451.82v2.93M214 453.1v1.52M214.3 452.24v2.9M214.6 452.46v2.09M214.9 452.63v1.55M215.2 452.4v1.54M215.5 452.96v1.38M215.8 451.77v3.58M216.1 451.78v1.32M216.4 450.97v5.21M216.7 452.83v1.46M217.6 452.42v2.86M218.2 452.27v2.04M218.5 451.8v2.89M218.8 452.66v2.45M219.1 451.21v3.81M220 451.29v5.75M220.3 451.69v3.37M220.6 452.11v2M220.9 452.8v1.12M221.8 453v1.32M222.1 453.2v0.78M222.4 452.87v1.17M222.7 452.72v1.03M223 452.56v1.49M223.3 452.51v2.07M223.6 452.07v1.63M223.9 452.58v1.17M224.2 451.63v2.98M224.5 452.82v1.29M224.8 452.93v1.03M225.1 452.05v2.58M225.4 452.62v2.08M226 452.58v2.26M226.6 452.04v2.73M226.9 452.77v1.44M227.2 451.69v2.65M227.5 452.84v0.97M227.8 451.99v2.4M228.1 452.59v0.8M228.4 452.48v1.8M229 451.58v3.22M229.6 451.41v3.36M229.9 452.55v2.25M230.5 451.65v2.8M231.1 451.68v3.55M231.4 452.79v1.07M231.7 452.97v1.76M232 452.68v1.84M232.3 451v3.93M232.9 452.67v1.95M233.5 452.01v2.86M233.8 451.9v1.84M234.1 452.67v1.71M234.4 452.74v1.54M235.3 452.95v2.08M236.8 452.87v1.11M237.1 451.86v2.27M237.4 452.02v2.27M237.7 453.56v1.05M238 452.21v1.86M238.3 453.34v1.19M238.6 452.25v1.97M239.2 451.43v3.15M239.8 451.56v3.49M240.1 452.32v3.06M240.4 452.73v1.18M240.7 452.03v1.39M241 450.84v4.88M242.5 452.26v2.13M242.8 452.33v1.13M243.1 451.94v2.82M244 452.73v2.5M244.3 452.49v2.77M244.6 452.52v1.5M244.9 452.7v1.36M245.2 451.9v3.09M245.5 451.5v4.57M245.8 452.9v0.91M246.1 453.18v1.51M246.4 453.51v0.69M247.3 452.84v2.4M247.6 452.74v1.51M247.9 452.63v1.88M248.2 452.95v0.96M248.5 452.59v2.18M248.8 453.08v0.88M249.4 452.68v0.86M249.7 452.25v1.09M250 452.57v1.66M250.3 453.04v1.08M250.6 453.5v0.94M250.9 452.59v1.26M251.2 452.72v1.72M251.8 452.96v0.84M252.1 453.21v1.05M252.7 451.93v2.68M253 453.1v0.71M253.3 452.52v2.46M253.6 452.53v1.62M254.2 451.79v2.82M254.8 452.69v0.73M255.1 450.89v4.63M255.4 452.23v2.65M256.3 452.01v3.31M256.6 452.7v2.2M257.2 452.69v2.92M257.5 452.02v2.53M258.1 451.97v2.43M258.7 451.16v3.65M259 453.01v1.87M259.9 452.33v2.01M260.8 452.63v1.79M261.1 451.41v2.44M261.4 452.39v2.67M261.7 452.68v1.2M262 452.77v1.9M262.3 452.93v1.5M262.6 452.74v1.06M262.9 452.92v1.12M263.2 452.43v1.31M263.8 451.95v2.53M268 452.4v2.49M268.6 452.73v1.65M268.9 453.09v1.2M269.2 452.66v2.05M269.5 452.42v2.14M269.8 451.98v3.22M270.1 452.61v1.49M270.4 452.97v1.79M270.7 452.88v1.2M271 453.26v1.87M271.3 453.31v0.86M271.6 452.7v0.84M272.2 452.41v2.46M272.5 452.8v1.23M273.4 451.74v3.49M273.7 450.87v3.81M274 452.99v2.1M274.3 451.9v2.43M275.2 451.19v3.23M275.5 451.48v3.59M275.8 451.77v1.67M276.1 452.38v3.05M276.4 450.82v4.22M276.7 450.25v5.65M277 452.28v2.27M277.3 450.95v4.41M277.9 451.73v3.55M278.2 452.55v1.54M278.5 452.36v3.16M278.8 452.9v1.16M279.4 452.48v2.09M279.7 451.75v3.31M280.3 451.46v2.67M280.6 452.35v1.85M281.2 452.25v2.21M281.5 449.66v6.42M281.8 453.11v1.52M282.4 452.23v1.83M282.7 452.73v1.86M283 452.74v1.46M283.3 451.62v3.29M283.6 452.84v1.31M283.9 452.99v2.19M284.2 451.57v4.04M284.5 451.9v3.34M284.8 453.25v1.32M285.4 452.23v1.64M285.7 453.22v2.07M286 451.7v3.05M286.6 453.14v1.26M287.2 452.7v1.44M287.5 452.22v1.53M287.8 451.47v3.62M288.1 452.48v2.85M288.4 452.2v2.79M288.7 452.23v1.99M289 452.36v3.04M289.3 452.99v1.53M289.6 452.18v1.95M289.9 452.73v1.58M290.2 451.92v2.43M290.5 453.07v1.22M290.8 452.29v2.42M291.1 452.11v2.69M291.4 452.01v1.88M291.7 451.22v4.1M292 452.45v1.86M292.6 453.13v1.56M293.2 452.27v2.57M293.5 452.65v1.28M294.1 451.76v3.59M294.4 452.45v1.32M294.7 453.08v1.62M295 453.33v0.91M295.3 451.9v1.43M295.6 453.45v1.05M295.9 452.67v1.49M296.2 452.3v2.45M296.5 452.69v1.24M297.1 453.04v1.09M297.4 452.47v3.57M297.7 452.21v2.77M298 452.55v1.4M298.3 452.2v1.29M298.6 452.3v3.09M299.2 451.59v3.52M299.8 452.99v1.43M300.1 451.75v3.19M300.4 451.81v3.25M301.3 452.26v1.45M301.6 451.69v2.97M301.9 452.29v2.14M302.2 452.2v3.15M302.5 453.01v1.09M302.8 451.62v2.38M303.1 452.32v2.58M303.4 452.12v2.83M303.7 451.48v4.15M304 453.42v1.3M304.3 452.46v1.19M304.6 452.56v1.41M304.9 451.32v3.83M305.8 453.8v1.26M306.1 452.67v2.47M306.7 451.92v3.11M307.3 452.61v1.19M307.6 452.74v1.61M307.9 451.71v3.18M308.2 452.74v1.4M308.5 452.94v1.34M308.8 453.24v0.91M309.1 452.74v1.77M309.4 453.23v1.32M309.7 452.25v3.77M310 451.89v3M310.9 453.09v0.88M311.2 452.48v2.63M311.5 452.46v1.83M311.8 452.93v1.55M312.1 452.53v2.07M312.4 450.99v4.58M312.7 452.71v1.85M313 451.27v5.2M313.3 452.24v2.16M313.9 452.83v2.07M314.2 452.54v1.83M314.5 452.1v2.72M314.8 451.65v3.97M315.1 451.69v3.21M316.3 450.18v6.22M316.9 452.96v1.39M317.5 451.96v2.46M318.1 451.34v3.32M318.4 452.39v1.93M319 451.91v2.96M319.6 452.84v1.36M319.9 453.44v1.66M320.2 452.15v1.52M320.5 452.26v1.26M321.1 452.22v2.12M321.4 450.11v6.55M321.7 452.59v2.03M322 452.19v2.19M322.6 451.65v3.57M322.9 452.28v1.17M323.2 451.87v2.6M323.5 451.63v2.86M323.8 452.71v1.24M324.1 452.83v1.32M324.7 452.36v1.94M325.3 452.99v1.53M325.9 452.18v2.65M326.2 453.02v1.56M326.5 452.66v1.04M327.1 453.44v0.86M327.4 452.3v1.68M327.7 452.79v1.62M328 453.4v0.78M328.9 452.62v1.54M329.2 452.5v1.03M329.5 452.8v1.6M329.8 452.8v1.04M330.1 452.72v1.01M331 452.6v2.02M331.3 453.11v0.76M331.6 452.44v2.39M331.9 452.71v1.76M332.2 452.4v1.52M332.8 452.79v0.94M333.4 452.76v0.74M333.7 452.39v1.86M334 452.57v2.06M334.3 452.66v1.15M334.9 451.88v1.64M335.2 452.72v1.14M335.5 452.14v2.01M336.4 452.32v0.88M337 452.91v0.86M338.2 451.64v2.47M338.5 452.55v1.35M338.8 451.26v5.29M339.1 452.33v2.1M339.7 452.88v1.45M340 452.53v2.39M340.3 452.61v1.47M340.6 452.83v1.49M340.9 452.14v1.76M341.8 452.24v1.9M342.1 451.79v3.42M342.4 452.49v1.38M342.7 452.43v2.29M343 452.69v1.62M343.3 450.58v5M343.9 452.02v2.55M344.5 452.58v1.59M345.1 452.28v0.79M345.4 451.55v3.12M345.7 452.3v1.22M346 451.19v4.27M346.3 451.38v3.1M346.9 452.33v1.67M347.5 451.68v3.36M347.8 451.15v3.64M348.1 452.47v1.71M348.7 452.25v1.83M349 452.64v1.29M349.3 452.79v1.72M349.6 452.81v1.04M349.9 453.4v1.26M350.5 452.38v1.39M350.8 452.44v2.8M351.4 453.17v1M352 452.26v1.57M352.3 453.32v0.98M352.9 451.31v4.51M353.2 452.36v2.17M354.1 451.59v3.08M354.4 451.98v2.3M354.7 451.99v2.82M355 452.18v1.97M355.6 453.11v1.21M355.9 451.22v3.1M356.8 452.54v1.36M357.4 452.7v2.67M358 452.07v2.95M358.3 450.94v4.44M358.6 452.05v1.89M358.9 452.41v2M359.2 451.62v3.69M359.8 452v1.95M360.1 451.71v2.47M360.4 452.02v1.91M360.7 452.39v2.78M361 452.86v1.9M361.9 452.7v1.57M362.2 451.56v4.24M362.5 452.57v1.6M362.8 452.45v2.05M363.1 452.99v1.07M363.4 451.79v2.47M363.7 452.41v2.51M364.3 453.03v0.99M364.6 452.33v3.37M365.2 452.25v1.95M365.5 451.7v3.84M365.8 453.14v1.11M366.4 453.02v1.88M366.7 452.79v1M367.3 452.76v1.81M367.6 452.15v2.33M367.9 452.79v0.99M368.2 452.05v1.72M368.5 452.37v1.61M369.1 451.4v2.26M369.4 452.78v1.29M370 452.88v1.38M370.3 452.05v1.76M370.6 452.7v2.31M370.9 452.46v1.88M371.2 451.93v3.51M371.5 452.28v1.64M371.8 452.42v2.49M372.1 452.88v1.19M372.7 452.62v1.1M373 452.03v3.63M373.3 451.68v2.84M373.6 453.47v1.13M373.9 451.75v3.27M374.2 451.93v2.63M374.8 452.66v2.19M375.1 452.52v2.93M375.4 451.47v4.4M376.3 451.77v2.47M376.9 452.98v1.24M377.5 452.22v1.69M377.8 453.03v1.27M378.1 453.11v1.03M378.4 452.03v2.63M378.7 452.87v1.96M379 452.49v2.26M379.9 452.2v0.89M380.2 452.54v1.23M380.5 452.49v1.44M381.4 452.73v0.98M381.7 453.05v1M382.3 452.57v1.09M382.6 452.75v0.81M382.9 453.57v1.23M383.2 452.94v0.9M383.5 452.79v0.72M383.8 452.9v0.94M384.1 452.59v1M384.4 452.84v0.78M384.7 451.8v2.55M385 452.41v1.42M385.3 452.08v2.07M385.9 451.51v4.48M386.2 451.9v4M386.5 452.14v1.63M386.8 452.89v1.35M387.1 452.95v1.4M387.7 451.85v2.96M388.3 452.47v2.68M388.6 451.97v1.89M388.9 452.55v2.24M389.5 452.08v4.12M389.8 452.17v1.54M391 453.24v1.09M391.3 451.48v2.99M391.6 452.72v1.04M392.5 451.62v2.53M392.8 451.64v3.21M393.1 452.82v1.99M393.7 452.58v2.29M394 452.21v1.14M394.3 451.8v3.33M394.6 452.7v1.86M395.2 451.53v3.49M395.5 453.15v1.3M396.1 453.14v0.98M397 452.78v1.68M397.3 452.3v2.32M397.9 452.57v1.58M398.2 452.92v1.95M398.5 452.51v1.49M398.8 453.06v1.8M399.1 452.65v1.01M399.4 451.38v3.69M400 452.14v2.59M400.3 452.18v2.18" stroke="#4626ee" stroke-width="0.36" opacity="0.85" fill="none"/>
<path d="M148.9 464.5H263.9M268 464.5H400.5" stroke="#5a3ef0" stroke-width="0.8" opacity="0.7" fill="none"/>
<path d="M148.9 464.3v0.54M149.2 464.05v0.81M149.5 464.14v0.67M149.8 464.14v0.5M150.4 464.06v0.8M150.7 464.21v0.56M151.3 464.06v0.92M151.6 463.93v0.96M152.2 464.32v0.55M152.5 463.95v0.95M152.8 464.05v0.88M153.1 464.01v0.82M153.4 464v0.91M154 463.94v1.06M154.3 464.05v0.82M154.6 464.18v0.6M155.5 464.34v0.42M155.8 464.2v0.65M156.1 464.28v0.52M156.4 464.1v0.73M156.7 464.21v0.67M157.3 464.14v0.67M157.6 464.29v0.54M157.9 464.01v0.99M158.2 463.91v1.07M158.8 463.98v1.09M159.1 464.26v0.47M159.7 464.25v0.61M160 464.3v0.4M160.3 464.32v0.4M160.9 464.19v0.68M161.2 464.27v0.43M161.8 464.33v0.38M162.1 464.25v0.53M162.4 464.23v0.44M162.7 463.97v1.12M163.3 464.34v0.46M163.6 464.08v0.54M164.2 464.16v0.78M164.5 464.15v0.51M164.8 464.27v0.52M165.4 464.35v0.59M165.7 464.22v0.59M166 464.18v0.51M166.6 464.2v0.61M166.9 464.26v0.72M167.2 464.22v0.57M167.5 464.07v0.63M167.8 464.31v0.51M168.4 463.99v1.04M168.7 464.16v0.71M169 464.14v0.77M169.3 464.38v0.5M169.6 464.16v0.54M170.2 463.99v0.98M171.1 464.06v0.83M171.7 464.29v0.52M172.3 464.16v0.76M172.6 464.11v0.85M172.9 464.21v0.73M173.5 464.11v0.55M173.8 464.28v0.64M174.1 464.1v0.65M174.4 464.03v0.87M175.6 464.34v0.45M176.5 463.96v0.94M176.8 464.11v0.85M177.7 463.91v1.15M178 464.23v0.69M178.3 464.13v0.9M178.6 464.2v0.61M178.9 464.11v0.49M179.2 464.16v0.64M179.8 464.18v0.86M180.7 464.1v0.75M181.3 464.22v0.6M181.9 463.94v1.05M182.5 464.13v0.72M183.4 463.79v1.28M183.7 464.05v0.82M184.3 464.07v0.59M184.9 464.26v0.55M185.2 464.17v0.79M185.8 464.12v0.77M186.4 464v0.88M186.7 464.13v0.61M187 464.21v0.72M187.6 464.11v0.7M187.9 464.23v0.58M188.2 463.97v1.04M189.1 464.17v0.81M189.4 464.31v0.53M190.3 464.35v0.46M190.6 464.19v0.54M190.9 464.06v0.82M191.2 464.16v0.57M191.5 463.72v1.53M191.8 464.17v0.48M192.1 464.16v0.67M192.7 464.21v0.64M193 464.05v0.84M193.3 464.21v0.74M194.5 464.16v0.7M194.8 464.13v0.91M195.1 464.1v0.53M195.4 464.15v0.66M195.7 463.72v1.51M196 464.32v0.49M196.3 464.16v0.75M196.6 464.17v0.58M196.9 464.11v1.05M197.5 464.18v0.93M197.8 464.2v0.44M198.1 464.1v0.91M198.4 463.89v1.41M199 464.09v0.72M199.3 464.12v0.97M199.6 464.29v0.67M200.5 464.11v0.68M200.8 464.32v0.44M201.1 464.08v0.62M201.7 464.2v0.7M202.3 464.33v0.63M202.6 464.2v0.53M203.2 464.17v0.69M204.1 464.14v0.71M204.4 463.72v1.4M205.3 464.26v0.5M205.9 464.24v0.46M206.8 464.3v0.55M207.4 464.31v0.59M208 464.2v0.64M208.3 464.1v0.92M208.9 464.26v0.4M209.5 464.28v0.59M210.1 464.33v0.39M210.7 464.19v0.78M211 464.24v0.42M211.6 464.17v0.58M212.2 464.06v0.92M213.4 464.21v0.53M213.7 464.24v0.4M214 464.2v0.54M214.3 464.18v0.57M214.6 464.27v0.53M215.5 464.32v0.47M216.1 464.21v0.56M216.4 464.17v0.64M216.7 464.29v0.46M217 464.27v0.45M217.3 464.19v0.56M217.9 464.26v0.73M218.2 464.36v0.56M218.5 464.07v0.68M218.8 464.17v0.52M219.1 464.26v0.65M219.7 464.35v0.53M220.6 464.27v0.47M220.9 464.25v0.7M222.1 464.24v0.51M222.7 464.02v0.59M223 464.02v0.67M223.3 464.15v0.61M223.6 464.1v0.71M223.9 464.4v0.44M224.2 464v0.88M224.5 464.07v0.64M225.1 463.47v1.98M225.7 464.04v0.82M226 464.06v0.81M226.9 464.14v0.74M227.2 464.14v0.66M228.1 464.29v0.55M229.6 464.11v0.61M229.9 464.22v0.56M230.2 464.13v0.65M230.5 464.03v1.13M230.8 464.08v1.06M231.1 464.18v0.52M231.4 463.84v1.22M231.7 464.16v0.74M232 464.2v0.64M232.6 464.17v0.46M233.2 464.22v0.39M233.5 464.02v0.7M233.8 464.23v0.49M234.1 464.24v0.42M235.3 464.32v0.53M235.6 463.99v0.68M235.9 464.37v0.38M236.2 464.2v0.59M236.5 464.24v0.59M236.8 464.23v0.5M237.7 463.97v1.19M238 464.18v0.79M238.6 464.03v0.84M238.9 464.12v0.67M239.2 464.3v0.48M239.5 464.24v0.49M239.8 464.29v0.55M241 464.01v1.14M241.3 464.27v0.51M241.6 464.25v0.61M241.9 464.34v0.51M242.5 464.16v0.99M242.8 464.03v1M243.1 464.06v0.74M243.4 464.14v0.73M243.7 464.14v0.82M244 464.08v0.86M244.3 463.88v1.4M244.9 464.25v0.56M245.5 464.05v0.89M245.8 464.1v0.57M246.1 464.09v0.76M246.7 464.13v0.84M247 464.2v0.64M247.3 463.97v0.96M247.6 464.19v0.57M247.9 464.23v0.5M248.2 464.21v0.48M248.8 464.32v0.4M249.4 464.07v0.62M249.7 464.25v0.53M250 464.16v0.68M250.9 464.07v0.67M251.5 464.15v0.67M251.8 464.29v0.43M252.4 464.13v0.73M252.7 464.17v0.56M253 464.19v0.45M253.3 464.4v0.57M253.9 464.2v0.49M254.2 464.39v0.46M254.5 464.16v0.44M255.4 463.93v0.92M256.3 464.07v0.77M256.9 464.05v0.74M257.5 464.3v0.53M258.1 464.18v0.89M258.4 464.32v0.4M258.7 464.18v0.56M259 464.23v0.65M259.3 464.25v0.63M259.6 464.23v0.57M260.2 464.23v0.46M260.5 464.17v0.46M260.8 464.3v0.44M261.1 464.27v0.42M261.4 464.17v0.59M261.7 464.27v0.48M262.3 463.99v1.15M262.6 464.17v0.62M263.5 464.02v0.8M263.8 464.28v0.82M268.9 464.05v0.8M269.2 464.13v0.62M269.8 464.19v0.74M270.1 463.87v1.16M270.4 464.21v0.49M271 464.21v0.57M271.3 464.13v0.75M271.9 464.23v0.72M272.5 464.16v0.55M272.8 464.04v1M273.1 464.07v0.76M273.4 464.25v0.91M274 464.12v0.7M274.3 464.11v0.66M274.6 464.12v0.76M274.9 463.87v1.1M275.2 464.09v1.14M275.5 463.87v1.15M276.1 464.23v0.5M276.4 463.99v1.01M276.7 464.14v0.69M277 464.01v0.9M277.3 463.88v1.33M277.9 464.25v0.54M278.5 463.92v0.84M278.8 464.19v0.75M279.1 463.91v0.96M279.4 464.04v0.97M279.7 464.26v0.47M280 464.18v0.48M280.3 464.21v0.72M280.9 464.11v0.72M281.2 464.13v0.58M281.8 464.27v0.46M282.1 464.19v0.58M282.4 464.09v0.67M282.7 464.15v0.57M283.6 464.02v0.99M283.9 464.16v0.59M284.5 464.03v0.98M284.8 464.16v0.61M285.1 464.06v1M285.4 464.11v0.88M286 464.24v0.51M286.3 464.01v1.04M286.6 464.13v0.83M286.9 464.17v0.48M287.8 464.07v0.76M288.1 464.16v0.67M288.4 464.19v0.52M288.7 464.14v0.41M289.6 464.15v0.46M289.9 464.19v0.54M290.2 464.17v0.7M290.8 464.22v0.7M291.1 464.22v0.59M292 464.29v0.48M292.6 464.31v0.54M293.2 463.95v1.02M293.8 464.22v0.67M294.1 464.09v0.93M294.4 464.14v0.73M295 464v0.75M295.3 464.12v0.91M295.6 464.1v0.74M295.9 464.16v0.6M296.5 464.05v0.79M296.8 464.06v0.8M297.4 463.87v1.15M297.7 464.24v0.54M298 464.09v0.79M298.3 464.15v0.52M298.9 464.12v0.71M299.5 463.97v0.8M299.8 464.05v1.06M300.1 464.08v0.73M300.4 464.18v0.76M301.3 464.11v0.83M301.6 463.97v1.03M301.9 464.14v0.63M302.2 464.01v0.7M302.5 463.9v0.98M303.1 464.22v0.52M303.4 464.3v0.49M303.7 464.18v0.54M304.3 464.16v0.71M304.9 464.31v0.45M305.8 464.19v0.5M306.1 464.3v0.43M306.4 464.16v0.57M306.7 464.2v0.62M307.3 464.18v0.52M307.6 464.27v0.45M307.9 464.16v0.52M308.2 464.16v0.73M308.5 464.16v0.68M308.8 464.19v0.62M309.1 464.43v0.46M309.4 464.28v0.47M310 464.3v0.49M310.3 464.33v0.42M310.6 464.1v0.77M310.9 464.22v0.66M311.5 464.24v0.47M311.8 464.12v0.7M312.4 464.25v0.6M313.3 463.84v1.13M313.6 464.03v0.81M314.2 464.2v0.7M314.5 463.92v1.09M314.8 464.05v1.06M315.1 464.29v0.48M315.4 464.23v0.62M316.3 464.3v0.53M316.6 463.93v0.94M316.9 463.96v0.95M317.5 464.32v0.55M317.8 464.16v0.66M318.1 463.84v1.34M318.4 464.13v0.8M318.7 464.02v0.88M319.3 464.38v0.45M319.6 463.87v1.4M319.9 464.43v0.53M320.2 464.12v0.56M320.5 464.27v0.53M320.8 464.19v0.71M321.1 464.18v0.75M321.4 464.21v0.64M322 464.16v0.65M322.3 464.2v0.52M323.2 464.11v0.67M323.5 464.06v0.6M323.8 464v0.9M324.1 464.32v0.47M324.4 464.23v0.55M324.7 464.11v0.74M325 464.2v0.66M325.3 464.37v0.44M325.9 464.29v0.54M326.2 464.2v0.49M326.5 464.24v0.54M326.8 464.33v0.47M327.1 464.34v0.49M327.4 464.07v0.66M328 464.27v0.41M328.3 464.31v0.61M328.6 464.24v0.57M328.9 464.24v0.47M329.5 464.14v0.83M329.8 464.15v0.69M330.1 464.29v0.51M330.7 464.04v0.7M331 464.19v0.84M331.6 464.32v0.53M332.2 464.23v0.55M332.5 464.21v0.53M333.4 464.05v0.77M333.7 464.11v0.73M334.3 464.15v0.79M334.6 464.21v0.66M334.9 464.02v0.93M335.8 464.03v1M336.1 464.14v0.82M336.4 464.2v0.69M336.7 464.15v0.63M337.6 464.18v0.52M338.2 464.14v0.45M338.5 464.28v0.56M338.8 464.19v0.84M339.4 464.06v0.95M339.7 464.1v0.77M340 464.24v0.6M340.3 464.03v0.56M340.6 463.93v0.75M340.9 464.01v1.04M341.2 463.81v1.26M341.5 464.17v0.7M341.8 464.26v0.62M342.7 464.01v1.05M343 463.83v1.21M343.3 463.81v1.23M343.6 464.19v0.66M343.9 463.99v1.03M344.2 464.01v1.2M344.8 464.06v0.77M345.1 464.27v0.51M345.4 464.19v0.66M345.7 464.31v0.57M346 464.29v0.71M346.9 464.32v0.46M347.2 464.19v0.58M347.5 464.19v0.49M348.1 464.29v0.62M348.4 464.18v0.59M349 464.18v0.52M349.3 464.21v0.56M349.6 464.1v0.63M349.9 464.53v0.4M350.5 464.18v0.6M351.1 464.24v0.64M351.4 464.19v0.7M351.7 464.33v0.55M352 464.23v0.59M352.6 464.22v0.51M352.9 464.16v0.46M353.8 464.27v0.54M354.1 464.24v0.39M355.3 464.23v0.56M355.6 464.25v0.44M355.9 464.31v0.4M356.5 464.08v0.84M356.8 464.12v0.73M357.1 464.16v0.74M357.7 464.22v0.42M358 464.08v0.65M358.3 464.24v0.44M359.2 464.14v0.7M359.5 464.21v0.46M359.8 464.3v0.48M361 464.34v0.44M361.3 464.28v0.53M361.6 464.09v0.72M361.9 464.2v0.71M362.2 464.02v0.92M362.5 464.3v0.48M362.8 464.31v0.6M363.4 463.9v1.03M363.7 463.96v1.08M364 463.88v1.17M364.3 464.06v0.68M364.6 463.74v1.57M364.9 464v0.96M365.2 463.92v0.92M365.5 464.31v0.57M365.8 463.83v1.26M366.4 464.07v0.77M366.7 464.14v0.88M367 464.09v0.9M367.3 464.26v0.7M367.6 464.25v0.51M367.9 464.09v0.78M368.8 463.99v0.79M369.1 463.87v1.19M369.4 464.24v0.56M369.7 464.25v0.64M370.6 464.14v0.99M371.2 464.32v0.78M371.5 464.07v0.89M371.8 464.14v0.59M372.1 463.95v1.18M372.4 463.95v0.91M373 464.02v1M373.6 464.1v0.67M373.9 463.96v1M374.2 464.17v0.61M374.5 464.24v0.52M374.8 463.99v0.89M375.1 464.09v0.95M375.7 463.81v1.19M376 464.28v0.4M376.3 464.05v0.8M376.6 464.25v0.52M376.9 464.27v0.51M377.2 464.21v0.45M377.5 464.13v0.6M377.8 464.33v0.46M379 464.05v0.76M379.3 464.2v0.59M379.9 463.95v0.86M380.2 464.35v0.47M380.8 464.23v0.51M381.4 464.18v0.79M381.7 464.11v0.59M382.3 464.26v0.67M382.6 464.25v0.51M382.9 464.18v0.72M383.2 464.06v0.79M383.5 464.17v0.56M383.8 464.07v0.49M384.1 464.33v0.49M384.7 464.03v0.74M385 464.43v0.54M385.6 464.09v0.7M385.9 463.93v1.15M386.2 464.18v0.61M386.8 464.14v0.83M387.4 464.25v0.51M387.7 464.23v0.54M388 464.25v0.64M388.3 464.12v0.85M388.6 464.23v0.57M388.9 464.3v0.74M389.2 464.23v0.47M389.5 464.08v0.69M389.8 464.14v0.63M390.1 463.97v0.98M390.7 464.06v0.72M391 464.25v0.52M391.3 464.22v0.71M391.6 464.24v0.58M391.9 464.4v0.44M392.2 463.97v0.91M392.5 464.12v0.64M392.8 464.25v0.52M393.1 464.2v0.61M393.4 464.09v0.74M393.7 464.23v0.63M394 463.93v1.24M394.3 463.8v1.34M394.6 464.05v1.01M394.9 464.1v0.78M395.5 464.08v0.76M395.8 464.04v0.71M396.1 464.17v0.65M396.4 464.12v0.91M396.7 464.12v0.82M397 464.27v0.69M398.5 464.22v0.65M398.8 464.2v0.82M399.1 464.23v0.83M399.4 464.22v0.68M400 464.06v0.8M400.3 463.79v1.18" stroke="#4626ee" stroke-width="0.36" opacity="0.7" fill="none"/>
<path d="M148.9 488.9H263.9M268 488.9H400.5" stroke="#5a3ef0" stroke-width="0.8" opacity="0.7" fill="none"/>
<path d="M148.9 488.23v1.18M149.5 488.19v1.25M149.8 488.52v0.75M150.4 488.37v0.69M150.7 488.33v1.09M151 488.21v1.63M151.3 488.23v1.23M151.6 488.41v1.08M151.9 488.52v0.87M152.2 488.43v0.53M152.8 488.43v0.73M153.4 488.67v0.52M153.7 488.43v1.12M154 488.8v0.57M154.3 488.67v0.65M154.6 488.64v0.96M155.2 488.42v0.61M155.5 488.4v0.73M155.8 488.41v0.8M156.4 488.12v1.02M156.7 488.24v1.47M157.3 488.45v0.88M157.9 488.53v0.83M158.2 488.6v1.25M158.8 488.65v0.7M159.4 488.68v0.9M159.7 488.45v0.76M160 488.5v0.65M160.3 488.53v0.8M160.9 488.47v0.91M161.5 488.37v0.77M161.8 488.52v0.8M162.1 488.61v0.65M162.7 488.16v1.24M163 488.56v0.84M163.3 488.43v1M164.2 488.43v0.71M164.5 488.58v0.56M164.8 488.65v0.47M165.1 488.53v0.73M165.4 488.21v1.54M166 488.12v1.76M166.9 488.39v0.73M167.2 488.4v0.85M167.5 488.49v0.81M167.8 488.29v1.07M168.4 488.4v0.92M169 488.52v0.8M169.6 488.11v1.57M169.9 488.48v0.83M170.5 488.42v1.15M172 488.32v1.29M172.3 488.6v0.53M172.6 488.46v0.54M172.9 488.47v0.75M173.2 488.51v0.59M173.5 488.77v0.61M173.8 488.86v0.44M174.1 488.74v0.65M174.4 488.54v0.53M174.7 488.2v1.17M175 488.29v1.1M175.3 488.52v0.71M175.6 488.57v0.65M176.2 488.39v0.73M176.5 488.55v0.47M177.1 488.17v1.15M177.4 488.59v0.87M177.7 488.6v0.61M178 488.08v1.39M178.6 488.66v0.55M179.2 488.6v0.88M180.4 488.65v0.75M180.7 488.49v0.81M181 488.53v0.54M181.9 488.66v0.66M182.2 488.57v1.03M182.8 488.35v0.92M183.1 488.61v0.76M183.7 488.18v1.25M184 488.7v0.53M184.3 488.48v0.89M184.6 488.55v0.91M184.9 488.32v1.25M185.8 488.56v0.87M186.4 488.58v0.69M187 488.62v0.53M187.3 488v1.32M187.6 488.31v1.07M187.9 488.19v1.5M188.2 488.55v0.83M188.5 488.38v0.94M189.7 488.48v0.93M190 488.5v0.67M190.3 488.64v0.72M190.6 488.43v0.71M190.9 488.21v1.27M191.2 488.59v0.65M191.5 488.58v0.89M191.8 488.13v1.56M192.1 488.34v0.87M192.4 488.28v1.07M192.7 488.24v1.25M193 488.55v0.56M193.9 488.54v0.76M194.2 488.47v0.49M194.5 488.58v0.59M194.8 488.43v0.99M195.4 488.69v0.49M196.3 488.59v0.83M196.6 488.73v0.45M197.2 488.21v0.91M197.5 488.65v0.48M197.8 488.44v0.66M198.1 488.71v0.75M198.7 488.45v0.73M199.3 488.33v0.84M199.6 488.33v1.19M200.2 488.67v0.57M200.5 488.5v0.55M200.8 488.45v1.07M201.4 488.3v1.04M201.7 488.61v0.57M202 488.78v0.62M202.3 488.62v0.86M202.6 488.7v0.58M202.9 488.57v1.06M203.2 488.59v0.61M203.5 488.53v0.91M203.8 488.3v1.12M204.1 488.59v0.61M204.4 488.46v1.1M204.7 488.45v0.73M205 488.67v0.69M205.3 488.55v0.83M205.6 488.59v0.8M205.9 488.53v0.68M206.5 488.38v0.93M206.8 488.77v0.53M207.1 488.52v0.68M207.4 488.4v0.71M207.7 488.5v0.73M208 488.35v0.9M208.6 488.54v0.68M208.9 488.53v0.59M209.2 488.63v0.58M209.8 488.42v0.61M210.1 488.37v0.68M210.7 488.45v1.08M211 488.48v0.55M211.3 488.7v0.72M211.6 488.19v1.19M212.2 488.6v0.65M212.5 488.67v0.67M212.8 488.75v0.56M213.1 488.37v0.96M214 488.47v0.62M214.6 488.5v0.75M214.9 488.65v0.61M215.2 488.71v0.49M215.5 488.52v0.71M215.8 488.49v0.73M216.1 488.71v0.77M216.4 488.25v1.23M216.7 488.22v1.35M217.3 488.73v0.58M217.6 488.69v0.71M217.9 488.42v1.03M218.2 488.66v0.57M218.5 488.37v1.2M218.8 488.2v1.36M219.1 488.05v1.7M219.4 488.82v0.54M219.7 488.43v0.84M220 488.54v0.77M220.3 488.4v0.83M220.6 488.64v0.71M220.9 488.64v0.54M221.2 488.39v0.91M221.5 488.82v0.47M221.8 488.74v0.46M222.1 488.63v0.72M222.4 488.85v0.62M222.7 488.5v0.61M223.3 488.55v0.48M223.6 488.51v0.92M223.9 488.37v0.88M224.5 488.32v1.03M224.8 488.39v0.81M225.4 488.44v0.63M225.7 488.44v0.64M226 488.59v0.59M226.3 488.38v0.76M226.6 488.54v0.81M227.2 488.72v0.63M227.8 488.49v0.64M228.1 488.49v0.71M228.7 488.85v0.49M229 488.62v0.47M229.3 488.71v0.66M229.9 488.59v0.8M230.2 488.71v0.53M230.5 488.74v0.5M230.8 488.72v0.59M231.1 488.63v0.64M231.4 488.43v0.64M231.7 488.51v0.65M232 488.49v0.78M232.3 488.42v0.95M232.6 488.71v0.51M232.9 488.73v0.52M233.2 488.54v0.72M233.5 488.75v0.63M233.8 488.38v0.84M234.1 488.59v0.58M234.4 488.6v0.78M234.7 488.25v1.11M235 488.31v1.04M235.3 488.52v0.77M235.6 488.75v0.45M235.9 488.31v0.77M236.5 488.8v0.42M236.8 488.62v0.43M237.1 488.68v0.58M237.4 488.54v0.6M237.7 488.74v0.7M238 488.68v0.43M238.3 488.35v0.69M238.6 488.4v0.99M238.9 488.79v0.65M239.2 488.55v0.73M239.5 488.78v0.53M239.8 488.7v0.49M240.4 488.41v0.59M240.7 488.43v0.6M241.3 488.61v0.82M241.6 488.77v0.64M241.9 488.39v0.86M242.5 488.39v0.84M242.8 488.44v1.31M243.1 488.5v0.87M243.4 488.8v0.56M244 488.28v1.57M244.3 488.36v1.16M244.6 488.34v1.23M244.9 488.91v0.48M245.2 488.39v1.12M245.5 488.59v0.61M246.4 488.44v1.05M246.7 488.57v0.46M247 488.76v0.71M247.6 488.57v0.44M248.2 488.34v0.73M248.5 488.63v0.53M248.8 488.39v0.71M249.4 488.58v0.73M250 488.61v0.63M250.3 487.57v2.61M250.9 488.59v0.79M251.2 488.21v1.69M251.5 488.53v1.03M251.8 488.4v0.99M252.1 488.3v1.2M252.4 487.93v1.68M252.7 488.37v1.35M253 488.28v1.14M253.3 488.45v0.98M253.6 488.4v1.07M253.9 488.51v0.93M254.2 488.37v1.42M254.5 488.59v0.69M254.8 488.34v0.77M255.1 488.71v0.47M256 488.5v0.67M256.3 488.67v0.48M256.6 488.52v0.65M256.9 488.37v1.09M257.2 488.4v0.82M257.5 488.52v0.63M257.8 488.53v0.64M258.7 488.45v0.69M259 488.57v0.92M259.3 488.72v0.47M259.6 488.77v0.67M260.5 488.35v1.11M260.8 488.47v0.66M261.4 488.46v0.85M262 488.19v1.23M262.3 488.59v0.7M262.6 488.6v0.74M262.9 488.25v1.24M263.2 488.6v0.46M263.5 488.7v0.68M263.8 488.55v0.66M268 488.33v1.12M268.3 488.24v1.29M268.6 488.43v0.85M268.9 488.5v1.11M269.2 488.66v0.55M269.8 488.75v0.5M270.1 488.65v0.62M270.4 488.34v0.63M270.7 488.51v0.89M271 488.46v0.8M271.6 488.41v0.58M272.2 488.22v1.16M272.5 488.64v0.76M272.8 488.45v0.53M273.1 488.33v0.98M273.7 488.56v0.85M274 488.71v0.55M274.3 488.65v0.51M274.9 488.4v1.12M275.5 488.52v0.55M276.4 487.92v2.23M276.7 488.52v0.71M277 488.62v0.63M277.3 488.37v1.04M277.6 488.65v0.65M277.9 488.62v0.91M278.5 488.54v0.56M278.8 488.24v1.38M279.1 488.45v1.19M279.4 488.82v0.75M280.3 488.44v1.16M280.9 488.47v0.94M281.2 488.47v0.71M281.5 488.69v0.54M281.8 488.68v0.71M282.1 488.29v1.4M282.4 488.79v0.52M282.7 488.57v0.58M283.3 488.5v0.76M283.6 488.66v0.52M283.9 488.54v0.47M284.2 488.52v1.02M284.5 488.6v0.53M284.8 488.62v0.59M285.1 488.36v0.96M285.4 488.58v1.04M285.7 488.58v0.9M286 488.22v1.15M286.3 488.52v0.72M286.6 488.37v0.86M286.9 488.58v0.67M287.2 488.74v0.49M287.5 488.74v0.82M287.8 488.27v1.04M288.4 488.41v0.63M289 488.36v1.1M289.3 488.62v0.77M289.6 488.59v0.65M289.9 488.29v1.28M290.2 488.51v0.78M290.5 488.33v1.21M291.1 488.48v0.86M291.4 488.67v0.57M291.7 488.58v0.71M292 488.39v0.89M292.3 488.57v0.85M292.6 488.57v0.62M292.9 488.36v0.76M293.2 488.69v0.57M293.8 488.43v0.86M294.1 488.62v0.65M294.4 488.55v1.07M294.7 488.06v1.82M295 488.72v0.55M295.3 488.51v1.05M295.6 488.53v0.57M295.9 488.67v0.47M296.5 488.65v0.61M296.8 488.52v0.47M297.1 488.6v0.56M297.4 488.23v0.96M297.7 488.57v0.85M298.6 488.5v0.64M299.2 488.29v0.98M299.8 488.48v0.78M300.1 488.5v0.83M300.4 488.21v1.33M300.7 488.6v0.56M301.3 488.5v0.61M301.6 488.51v0.87M302.2 488.52v0.59M302.5 488.65v0.64M303.1 488.68v0.75M303.7 488.65v0.74M304 488.12v1.63M304.3 488.63v0.66M304.9 488.45v0.7M305.2 488.59v0.98M305.8 488.03v1.35M306.1 488.62v0.58M306.4 488.77v0.55M306.7 488.3v0.82M307 488.61v0.96M307.3 488.09v1.89M307.6 488.62v0.41M307.9 488.38v1.06M308.8 488.1v1.29M309.1 488.55v1.2M309.4 488.43v1.11M309.7 487.88v1.91M310 488.25v1.41M310.6 488.69v0.56M311.2 487.82v1.95M311.5 488.38v1.25M311.8 488.54v0.64M312.1 487.76v2.06M312.4 488.38v1.18M312.7 488.45v1.22M313 488.5v0.86M313.3 488.21v0.78M313.6 488.3v1.54M313.9 488.58v0.61M314.2 488.67v0.82M315.1 488.41v1.13M315.4 488.5v0.77M315.7 488.65v0.62M316 488.4v0.4M316.6 488.46v0.74M316.9 488.58v0.6M317.2 488.61v0.53M317.5 488.65v0.5M317.8 488.74v0.47M318.1 488.74v0.5M318.7 488.65v0.49M319.3 488.62v0.57M319.6 488.42v0.73M319.9 488.74v0.59M320.2 488.38v0.67M320.5 488.54v0.64M320.8 488.68v0.57M321.1 488.51v0.58M321.4 488.79v0.47M321.7 488.71v0.44M322.3 488.52v0.58M322.6 488.49v0.58M323.2 488.61v0.7M323.5 488.57v0.55M323.8 488.71v0.42M324.1 488.68v0.42M324.4 488.68v0.41M324.7 488.6v0.6M325 488.67v0.45M325.3 488.63v0.52M325.9 488.33v1.27M326.2 488.47v0.75M326.5 488.5v0.87M326.8 488.6v0.41M327.1 488.5v0.74M327.7 488.35v0.83M328 488.59v0.64M328.3 488.39v0.95M328.6 488.48v0.6M328.9 488.32v0.72M329.2 488.38v1.11M329.8 488.54v0.91M330.1 488.65v0.52M331 488.34v1.23M331.3 488.5v1M331.6 488.41v0.83M331.9 488.29v1.1M332.2 488.66v0.7M332.5 488.49v0.82M333.1 488.71v0.81M333.4 488.39v0.86M334 488.48v0.67M334.3 488.63v0.63M334.6 488.57v0.95M334.9 488.28v1.24M335.5 488.26v1.34M335.8 488.09v1.35M336.1 488.39v1.05M336.4 488.04v1.58M336.7 488.53v0.91M337 488.69v0.56M337.6 488.25v0.75M337.9 488.41v0.8M338.2 488.44v0.88M338.5 488.41v0.61M338.8 488.45v0.9M339.1 488.47v0.84M339.4 488.21v1.2M339.7 488.63v0.79M340.3 488.25v1.24M340.6 488.71v0.6M340.9 488.59v0.77M341.5 488.56v0.67M341.8 488.66v0.51M342.1 488.24v1.18M342.4 488.46v0.87M342.7 488.5v0.62M343 488.3v1.37M343.3 488.04v1.44M343.6 488.74v0.61M343.9 488.8v0.58M344.2 488.49v0.8M344.5 488.44v0.74M344.8 488.35v1.12M345.1 488.58v0.75M345.4 488.62v0.52M345.7 488.39v0.82M346.3 488.49v0.73M347.2 488.52v0.95M347.5 488.56v0.89M348.4 488.51v0.64M348.7 488.7v0.58M349 488.19v1.39M349.6 488.1v1.61M349.9 488.7v0.58M350.2 488.57v0.66M350.5 488.14v1.41M350.8 488.65v0.58M351.1 488.23v1.52M351.4 488.38v1.06M351.7 488.15v1.35M352 487.92v1.6M352.6 488.41v1.07M352.9 488.53v0.74M353.2 488.46v1.17M353.8 488.23v1.07M354.1 488.33v0.95M354.7 488.47v0.74M355 488.13v1.61M355.9 488.49v0.85M356.2 488.25v1.18M356.5 488.26v1.15M357.1 488.13v1.65M357.4 488.55v0.47M357.7 488.63v0.48M358 488.28v1.17M358.3 488.69v0.47M358.6 488.42v0.84M359.2 488.52v0.68M359.5 488.04v1.32M359.8 488.59v0.69M360.1 488.68v0.55M360.4 488.61v0.88M360.7 488v1.77M361 488.31v0.95M361.3 488.44v0.96M361.6 488.59v0.77M361.9 488.56v0.62M362.2 488.66v0.54M362.5 488.25v1.22M362.8 488.49v0.89M363.4 488.51v0.93M363.7 488.31v1.13M364 488.37v0.81M364.3 488.26v0.76M364.6 488.3v1.24M364.9 488.32v1.23M365.2 488.67v0.72M365.5 488.45v0.7M365.8 488.29v1.38M366.1 488.23v1.21M366.7 488.78v0.59M367.3 488.6v0.6M367.6 488.65v0.56M368.5 488.7v0.59M369.1 488.8v0.51M369.4 488.43v0.7M369.7 488.17v1.2M370 488.54v0.51M370.3 488.24v1.2M370.6 487.89v2.07M371.2 488.61v0.75M371.5 488.28v0.96M372.1 488.63v0.56M373.3 488.5v1.09M373.9 488.37v1.31M374.5 488.15v1.14M374.8 488.49v1.28M375.4 488.38v0.91M375.7 488.38v0.98M376 488.25v1.12M376.3 488.05v1.59M376.6 488.57v0.67M376.9 488.4v1.09M377.2 488.47v1M377.5 488v1.5M377.8 488.48v1.12M378.1 488.26v1.32M378.4 488.53v0.95M378.7 488.56v0.67M379 488.17v1.36M379.3 488.52v0.7M379.9 488.39v1.02M380.2 488.59v0.7M380.8 488.39v0.96M381.1 488.05v1.38M381.4 488.47v0.7M381.7 487.89v1.89M382 488.53v0.57M382.3 488.54v0.82M382.6 488.46v0.74M382.9 488.13v1.71M383.2 488.31v1.03M383.5 488.56v0.66M383.8 488.11v1.28M384.1 488.35v1.51M384.4 488.61v0.6M384.7 488.71v0.58M385 487.9v1.67M385.3 488.53v0.68M385.6 488.48v1.03M385.9 488.76v0.61M386.5 488.81v0.42M386.8 488.46v1.12M387.1 488.53v0.92M387.4 488.27v0.96M387.7 488.61v0.73M388 488.55v0.42M388.3 488.66v0.56M388.6 488.36v0.71M389.5 488.62v0.82M389.8 488.6v0.48M390.1 488.57v0.73M390.4 488.77v0.51M390.7 488.72v0.56M391 488.29v0.62M391.3 488.54v0.47M391.6 488.72v0.51M391.9 488.49v0.61M392.2 488.72v0.55M392.5 488.58v0.55M392.8 487.49v2.43M393.1 488.28v1.09M393.7 488.64v0.98M394 488.62v0.62M394.6 488.49v0.81M394.9 488.37v1.22M395.2 488.31v0.98M395.5 488.36v1.17M395.8 488.36v1.45M396.1 488.46v0.99M396.4 488.52v0.86M397 487.97v1.78M397.6 488.19v1.19M397.9 488.45v0.68M398.2 488.24v1.13M399.1 488.41v1.09M399.4 488.57v0.89M399.7 488.66v0.64M400 488.65v0.69M400.3 488.87v0.65" stroke="#4626ee" stroke-width="0.36" opacity="0.75" fill="none"/>
<rect x="148.9" y="499.5" width="115" height="7.2" fill="#217a1e"/>
<rect x="148.9" y="506.7" width="115" height="6.8" fill="#b4e32a"/>
<rect x="268" y="499.5" width="132.5" height="7.2" fill="#217a1e"/>
<rect x="268" y="506.7" width="132.5" height="6.8" fill="#b4e32a"/>
<text x="206.4" y="396.2" font-family='"Liberation Sans", "DejaVu Sans", sans-serif' font-size="1.8" text-anchor="middle" font-weight="normal" fill="#e8c8e8">3</text>
<text x="334.2" y="396.2" font-family='"Liberation Sans", "DejaVu Sans", sans-serif' font-size="1.8" text-anchor="middle" font-weight="normal" fill="#e8c8e8">3</text>
<path d="M245.6 499.5V513.5" stroke="#dff0c0" stroke-width="0.4" opacity="0.6"/>
<text x="149.2" y="353.3" font-family='"Liberation Sans", "DejaVu Sans", sans-serif' font-size="1.55" text-anchor="start" font-weight="normal" fill="#77778c">032-positive_chr3_AB_variant_count_Z-score.tdf AB variant</text>
<text x="149.2" y="383.4" font-family='"Liberation Sans", "DejaVu Sans", sans-serif' font-size="1.55" text-anchor="start" font-weight="normal" fill="#77778c">032-positive_chr3_B_variant_count_zscore.tdf B variant</text>
<text x="149.2" y="403" font-family='"Liberation Sans", "DejaVu Sans", sans-serif' font-size="1.55" text-anchor="start" font-weight="normal" fill="#77778c">032-positive_chr3_AAB_variant_count.tdf</text>
<text x="149.2" y="434" font-family='"Liberation Sans", "DejaVu Sans", sans-serif' font-size="1.55" text-anchor="start" font-weight="normal" fill="#77778c">032-positive_chr3_ABB_variant_count_zscore.tdf ABB</text>
<text x="149.2" y="461.4" font-family='"Liberation Sans", "DejaVu Sans", sans-serif' font-size="1.55" text-anchor="start" font-weight="normal" fill="#77778c">032-positive_chr3_copy_number.tdf</text>
<text x="149.2" y="492.2" font-family='"Liberation Sans", "DejaVu Sans", sans-serif' font-size="1.55" text-anchor="start" font-weight="normal" fill="#77778c">032-negative_chr3_copy_number.tdf RefSeq</text>
<text x="149.2" y="355.6" font-family='"Liberation Sans", "DejaVu Sans", sans-serif' font-size="1.4" text-anchor="start" font-weight="normal" fill="#9a9aae">1.00</text>
<text x="149.2" y="359.8" font-family='"Liberation Sans", "DejaVu Sans", sans-serif' font-size="1.4" text-anchor="start" font-weight="normal" fill="#9a9aae">1.00</text>
<text x="149.2" y="363.6" font-family='"Liberation Sans", "DejaVu Sans", sans-serif' font-size="1.4" text-anchor="start" font-weight="normal" fill="#9a9aae">1.00</text>
<text x="149.2" y="372.6" font-family='"Liberation Sans", "DejaVu Sans", sans-serif' font-size="1.4" text-anchor="start" font-weight="normal" fill="#9a9aae">1.00</text>
<text x="149.2" y="376.6" font-family='"Liberation Sans", "DejaVu Sans", sans-serif' font-size="1.4" text-anchor="start" font-weight="normal" fill="#9a9aae">1.00</text>
<text x="149.2" y="380.3" font-family='"Liberation Sans", "DejaVu Sans", sans-serif' font-size="1.4" text-anchor="start" font-weight="normal" fill="#9a9aae">1.00</text>
<text x="149.2" y="436.3" font-family='"Liberation Sans", "DejaVu Sans", sans-serif' font-size="1.4" text-anchor="start" font-weight="normal" fill="#9a9aae">1.00</text>
<text x="149.2" y="444.6" font-family='"Liberation Sans", "DejaVu Sans", sans-serif' font-size="1.4" text-anchor="start" font-weight="normal" fill="#9a9aae">1.00</text>
<text x="149.2" y="450.2" font-family='"Liberation Sans", "DejaVu Sans", sans-serif' font-size="1.4" text-anchor="start" font-weight="normal" fill="#9a9aae">1.00</text>
<text x="149.2" y="468.5" font-family='"Liberation Sans", "DejaVu Sans", sans-serif' font-size="1.4" text-anchor="start" font-weight="normal" fill="#9a9aae">1.00</text>
<text x="149.2" y="472.5" font-family='"Liberation Sans", "DejaVu Sans", sans-serif' font-size="1.4" text-anchor="start" font-weight="normal" fill="#9a9aae">1.00</text>
<text x="149.2" y="476.5" font-family='"Liberation Sans", "DejaVu Sans", sans-serif' font-size="1.4" text-anchor="start" font-weight="normal" fill="#9a9aae">1.00</text>
<text x="149.2" y="480.5" font-family='"Liberation Sans", "DejaVu Sans", sans-serif' font-size="1.4" text-anchor="start" font-weight="normal" fill="#9a9aae">1.00</text>
<rect x="148.9" y="517.8" width="251.6" height="2.1" fill="#e4e4e4"/>
<rect x="151.62" y="517.8" width="2.36" height="2.1" fill="#999"/>
<rect x="154.46" y="517.8" width="5.2" height="2.1" fill="#444"/>
<rect x="160.37" y="517.8" width="8.27" height="2.1" fill="#d8d8d8"/>
<rect x="169.35" y="517.8" width="9.93" height="2.1" fill="#111"/>
<rect x="182.35" y="517.8" width="6.38" height="2.1" fill="#3a3a3a"/>
<rect x="189.92" y="517.8" width="5.2" height="2.1" fill="#9a9a9a"/>
<rect x="198.19" y="517.8" width="5.91" height="2.1" fill="#333"/>
<rect x="205.28" y="517.8" width="3.55" height="2.1" fill="#cfcfcf"/>
<rect x="210.01" y="517.8" width="2.36" height="2.1" fill="#8a8a8a"/>
<rect x="213.56" y="517.8" width="2.36" height="2.1" fill="#ddd"/>
<rect x="218.29" y="517.8" width="4.73" height="2.1" fill="#3a3a3a"/>
<rect x="226.56" y="517.8" width="9.46" height="2.1" fill="#8c8c8c"/>
<rect x="237.67" y="517.8" width="2.84" height="2.1" fill="#f4f4f4"/>
<rect x="241.93" y="517.8" width="8.27" height="2.1" fill="#2a2a2a"/>
<rect x="254.93" y="517.8" width="4.73" height="2.1" fill="#3a3a3a"/>
<rect x="262.02" y="517.8" width="11.82" height="2.1" fill="#8c8c8c"/>
<rect x="270" y="517.8" width="7.37" height="2.1" fill="#aaa"/>
<rect x="279.34" y="517.8" width="5.41" height="2.1" fill="#333"/>
<rect x="285.97" y="517.8" width="6.14" height="2.1" fill="#999"/>
<rect x="293.34" y="517.8" width="3.69" height="2.1" fill="#333"/>
<rect x="299.48" y="517.8" width="3.69" height="2.1" fill="#2a2a2a"/>
<rect x="305.63" y="517.8" width="4.91" height="2.1" fill="#c8c8c8"/>
<rect x="312.26" y="517.8" width="3.19" height="2.1" fill="#9a9a9a"/>
<rect x="317.91" y="517.8" width="4.91" height="2.1" fill="#f0f0f0"/>
<rect x="324.05" y="517.8" width="3.69" height="2.1" fill="#aaa"/>
<rect x="329.71" y="517.8" width="7.86" height="2.1" fill="#0c0c0c"/>
<rect x="340.02" y="517.8" width="3.69" height="2.1" fill="#8a8a8a"/>
<rect x="346.17" y="517.8" width="4.91" height="2.1" fill="#777"/>
<rect x="353.54" y="517.8" width="8.6" height="2.1" fill="#0c0c0c"/>
<rect x="364.59" y="517.8" width="6.14" height="2.1" fill="#8a8a8a"/>
<rect x="371.97" y="517.8" width="4.91" height="2.1" fill="#333"/>
<rect x="379.34" y="517.8" width="4.91" height="2.1" fill="#9a9a9a"/>
<rect x="387.94" y="517.8" width="4.91" height="2.1" fill="#333"/>
<rect x="395.31" y="517.8" width="3.69" height="2.1" fill="#999"/>
<text x="161.5" y="516.8" font-family='"Liberation Sans", "DejaVu Sans", sans-serif' font-size="1.9" text-anchor="middle" font-weight="normal" fill="#4a4a4a">q11.1</text>
<path d="M161.5 517v0.8" stroke="#888" stroke-width="0.25"/>
<text x="173.8" y="516.8" font-family='"Liberation Sans", "DejaVu Sans", sans-serif' font-size="1.9" text-anchor="middle" font-weight="normal" fill="#4a4a4a">q12.2</text>
<path d="M173.8 517v0.8" stroke="#888" stroke-width="0.25"/>
<text x="186.1" y="516.8" font-family='"Liberation Sans", "DejaVu Sans", sans-serif' font-size="1.9" text-anchor="middle" font-weight="normal" fill="#4a4a4a">q13.3</text>
<path d="M186.1 517v0.8" stroke="#888" stroke-width="0.25"/>
<text x="198.4" y="516.8" font-family='"Liberation Sans", "DejaVu Sans", sans-serif' font-size="1.9" text-anchor="middle" font-weight="normal" fill="#4a4a4a">q14.1</text>
<path d="M198.4 517v0.8" stroke="#888" stroke-width="0.25"/>
<text x="210.7" y="516.8" font-family='"Liberation Sans", "DejaVu Sans", sans-serif' font-size="1.9" text-anchor="middle" font-weight="normal" fill="#4a4a4a">q15.2</text>
<path d="M210.7 517v0.8" stroke="#888" stroke-width="0.25"/>
<text x="223" y="516.8" font-family='"Liberation Sans", "DejaVu Sans", sans-serif' font-size="1.9" text-anchor="middle" font-weight="normal" fill="#4a4a4a">q16.3</text>
<path d="M223 517v0.8" stroke="#888" stroke-width="0.25"/>
<text x="235.3" y="516.8" font-family='"Liberation Sans", "DejaVu Sans", sans-serif' font-size="1.9" text-anchor="middle" font-weight="normal" fill="#4a4a4a">q17.1</text>
<path d="M235.3 517v0.8" stroke="#888" stroke-width="0.25"/>
<text x="247.6" y="516.8" font-family='"Liberation Sans", "DejaVu Sans", sans-serif' font-size="1.9" text-anchor="middle" font-weight="normal" fill="#4a4a4a">q18.2</text>
<path d="M247.6 517v0.8" stroke="#888" stroke-width="0.25"/>
<text x="259.9" y="516.8" font-family='"Liberation Sans", "DejaVu Sans", sans-serif' font-size="1.9" text-anchor="middle" font-weight="normal" fill="#4a4a4a">q19.3</text>
<path d="M259.9 517v0.8" stroke="#888" stroke-width="0.25"/>
<text x="272.2" y="516.8" font-family='"Liberation Sans", "DejaVu Sans", sans-serif' font-size="1.9" text-anchor="middle" font-weight="normal" fill="#4a4a4a">q20.1</text>
<path d="M272.2 517v0.8" stroke="#888" stroke-width="0.25"/>
<text x="284.5" y="516.8" font-family='"Liberation Sans", "DejaVu Sans", sans-serif' font-size="1.9" text-anchor="middle" font-weight="normal" fill="#4a4a4a">q21.2</text>
<path d="M284.5 517v0.8" stroke="#888" stroke-width="0.25"/>
<text x="296.8" y="516.8" font-family='"Liberation Sans", "DejaVu Sans", sans-serif' font-size="1.9" text-anchor="middle" font-weight="normal" fill="#4a4a4a">q22.3</text>
<path d="M296.8 517v0.8" stroke="#888" stroke-width="0.25"/>
<text x="309.1" y="516.8" font-family='"Liberation Sans", "DejaVu Sans", sans-serif' font-size="1.9" text-anchor="middle" font-weight="normal" fill="#4a4a4a">q23.1</text>
<path d="M309.1 517v0.8" stroke="#888" stroke-width="0.25"/>
<text x="321.4" y="516.8" font-family='"Liberation Sans", "DejaVu Sans", sans-serif' font-size="1.9" text-anchor="middle" font-weight="normal" fill="#4a4a4a">q24.2</text>
<path d="M321.4 517v0.8" stroke="#888" stroke-width="0.25"/>
<text x="333.7" y="516.8" font-family='"Liberation Sans", "DejaVu Sans", sans-serif' font-size="1.9" text-anchor="middle" font-weight="normal" fill="#4a4a4a">q25.3</text>
<path d="M333.7 517v0.8" stroke="#888" stroke-width="0.25"/>
<text x="346" y="516.8" font-family='"Liberation Sans", "DejaVu Sans", sans-serif' font-size="1.9" text-anchor="middle" font-weight="normal" fill="#4a4a4a">q26.1</text>
<path d="M346 517v0.8" stroke="#888" stroke-width="0.25"/>
<text x="358.3" y="516.8" font-family='"Liberation Sans", "DejaVu Sans", sans-serif' font-size="1.9" text-anchor="middle" font-weight="normal" fill="#4a4a4a">q27.2</text>
<path d="M358.3 517v0.8" stroke="#888" stroke-width="0.25"/>
<text x="370.6" y="516.8" font-family='"Liberation Sans", "DejaVu Sans", sans-serif' font-size="1.9" text-anchor="middle" font-weight="normal" fill="#4a4a4a">q28.3</text>
<path d="M370.6 517v0.8" stroke="#888" stroke-width="0.25"/>
<text x="382.9" y="516.8" font-family='"Liberation Sans", "DejaVu Sans", sans-serif' font-size="1.9" text-anchor="middle" font-weight="normal" fill="#4a4a4a">q29.1</text>
<path d="M382.9 517v0.8" stroke="#888" stroke-width="0.25"/>
<text x="395.2" y="516.8" font-family='"Liberation Sans", "DejaVu Sans", sans-serif' font-size="1.9" text-anchor="middle" font-weight="normal" fill="#4a4a4a">q30.2</text>
<path d="M395.2 517v0.8" stroke="#888" stroke-width="0.25"/>
<rect x="149.3" y="517.6" width="1.6" height="2.5" fill="#4a3cf0"/>
</svg>
</body></html>
